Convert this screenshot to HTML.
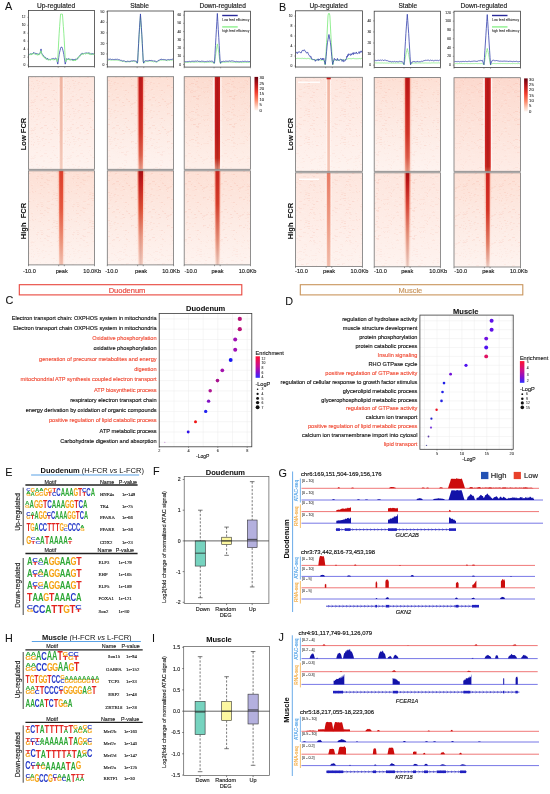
<!DOCTYPE html>
<html><head><meta charset="utf-8"><title>Figure</title>
<style>html,body{margin:0;padding:0;background:#fff;width:550px;height:794px;overflow:hidden;}svg{display:block;font-family:"Liberation Sans", sans-serif;filter:blur(0.35px);}</style>
</head><body>
<svg width="550" height="794" viewBox="0 0 550 794" font-family='"Liberation Sans", sans-serif'><defs><pattern id="pt0" width="36" height="28" patternUnits="userSpaceOnUse" x="0" y="0"><rect x="15" y="12" width="1" height="1" fill="#ea7a62" opacity="0.25"/><rect x="11" y="16" width="2" height="1" fill="#ea7a62" opacity="0.42"/><rect x="26" y="18" width="2" height="1" fill="#ea7a62" opacity="0.39"/><rect x="2" y="11" width="3" height="1" fill="#ffffff" opacity="0.38"/><rect x="25" y="8" width="2" height="1" fill="#f4a48c" opacity="0.27"/><rect x="12" y="24" width="2" height="1" fill="#ee8a70" opacity="0.52"/><rect x="6" y="19" width="2" height="1" fill="#ffffff" opacity="0.44"/><rect x="32" y="16" width="2" height="1" fill="#ffffff" opacity="0.51"/><rect x="30" y="12" width="1" height="1" fill="#ffffff" opacity="0.48"/><rect x="10" y="0" width="1" height="1" fill="#ffffff" opacity="0.65"/><rect x="6" y="26" width="1" height="1" fill="#ffffff" opacity="0.59"/><rect x="7" y="3" width="1" height="1" fill="#ffffff" opacity="0.31"/><rect x="18" y="17" width="1" height="1" fill="#ffffff" opacity="0.42"/><rect x="9" y="5" width="1" height="1" fill="#ffffff" opacity="0.61"/><rect x="27" y="15" width="1" height="1" fill="#ffffff" opacity="0.42"/><rect x="1" y="8" width="2" height="1" fill="#ee8a70" opacity="0.50"/><rect x="21" y="10" width="2" height="1" fill="#ffffff" opacity="0.31"/><rect x="7" y="9" width="1" height="1" fill="#ee8a70" opacity="0.30"/><rect x="24" y="7" width="1" height="1" fill="#ea7a62" opacity="0.31"/><rect x="5" y="10" width="2" height="1" fill="#ea7a62" opacity="0.59"/><rect x="34" y="6" width="2" height="1" fill="#ffffff" opacity="0.40"/><rect x="32" y="20" width="1" height="1" fill="#f4a48c" opacity="0.67"/><rect x="17" y="26" width="2" height="1" fill="#ee8a70" opacity="0.60"/><rect x="22" y="6" width="1" height="1" fill="#f4a48c" opacity="0.37"/><rect x="13" y="6" width="3" height="1" fill="#ffffff" opacity="0.59"/><rect x="29" y="13" width="1" height="1" fill="#ee8a70" opacity="0.47"/><rect x="25" y="8" width="2" height="1" fill="#ea7a62" opacity="0.61"/><rect x="33" y="6" width="2" height="1" fill="#f4a48c" opacity="0.36"/><rect x="5" y="3" width="2" height="1" fill="#ffffff" opacity="0.56"/><rect x="15" y="8" width="3" height="1" fill="#ee8a70" opacity="0.50"/><rect x="7" y="0" width="1" height="1" fill="#ea7a62" opacity="0.37"/><rect x="10" y="7" width="1" height="1" fill="#ee8a70" opacity="0.26"/><rect x="20" y="19" width="2" height="1" fill="#ee8a70" opacity="0.40"/><rect x="21" y="17" width="1" height="1" fill="#ee8a70" opacity="0.44"/><rect x="28" y="24" width="1" height="1" fill="#ffffff" opacity="0.20"/><rect x="10" y="11" width="2" height="1" fill="#ea7a62" opacity="0.39"/><rect x="33" y="6" width="2" height="1" fill="#ffffff" opacity="0.44"/><rect x="23" y="23" width="1" height="1" fill="#ffffff" opacity="0.36"/><rect x="31" y="17" width="2" height="1" fill="#ee8a70" opacity="0.44"/><rect x="19" y="5" width="1" height="1" fill="#ffffff" opacity="0.26"/><rect x="11" y="5" width="3" height="1" fill="#ea7a62" opacity="0.36"/><rect x="23" y="17" width="1" height="1" fill="#f4a48c" opacity="0.62"/><rect x="0" y="19" width="1" height="1" fill="#ffffff" opacity="0.28"/><rect x="32" y="14" width="1" height="1" fill="#ffffff" opacity="0.44"/><rect x="0" y="14" width="3" height="1" fill="#ffffff" opacity="0.64"/><rect x="35" y="23" width="1" height="1" fill="#ee8a70" opacity="0.65"/><rect x="5" y="21" width="1" height="1" fill="#f4a48c" opacity="0.62"/><rect x="17" y="2" width="3" height="1" fill="#ea7a62" opacity="0.21"/><rect x="13" y="1" width="3" height="1" fill="#ffffff" opacity="0.22"/><rect x="32" y="23" width="1" height="1" fill="#ea7a62" opacity="0.55"/><rect x="19" y="24" width="1" height="1" fill="#ffffff" opacity="0.68"/><rect x="12" y="22" width="2" height="1" fill="#ffffff" opacity="0.68"/><rect x="13" y="24" width="2" height="1" fill="#ffffff" opacity="0.26"/><rect x="22" y="14" width="2" height="1" fill="#ffffff" opacity="0.41"/><rect x="30" y="4" width="2" height="1" fill="#ffffff" opacity="0.66"/><rect x="19" y="27" width="3" height="1" fill="#ea7a62" opacity="0.24"/><rect x="10" y="17" width="1" height="1" fill="#ffffff" opacity="0.60"/><rect x="15" y="16" width="3" height="1" fill="#ffffff" opacity="0.36"/><rect x="21" y="11" width="1" height="1" fill="#ea7a62" opacity="0.39"/><rect x="11" y="12" width="3" height="1" fill="#ea7a62" opacity="0.50"/><rect x="25" y="16" width="2" height="1" fill="#f4a48c" opacity="0.66"/><rect x="22" y="0" width="2" height="1" fill="#ffffff" opacity="0.38"/><rect x="3" y="20" width="3" height="1" fill="#ffffff" opacity="0.46"/><rect x="16" y="19" width="2" height="1" fill="#ffffff" opacity="0.46"/><rect x="31" y="24" width="3" height="1" fill="#f4a48c" opacity="0.62"/><rect x="19" y="2" width="3" height="1" fill="#ee8a70" opacity="0.61"/><rect x="28" y="12" width="3" height="1" fill="#f4a48c" opacity="0.30"/><rect x="16" y="22" width="1" height="1" fill="#ffffff" opacity="0.65"/><rect x="16" y="0" width="1" height="1" fill="#f4a48c" opacity="0.51"/><rect x="15" y="14" width="3" height="1" fill="#ffffff" opacity="0.26"/><rect x="23" y="21" width="1" height="1" fill="#ffffff" opacity="0.54"/><rect x="0" y="10" width="2" height="1" fill="#ea7a62" opacity="0.44"/><rect x="2" y="25" width="3" height="1" fill="#ea7a62" opacity="0.59"/><rect x="11" y="20" width="2" height="1" fill="#ffffff" opacity="0.48"/><rect x="19" y="27" width="2" height="1" fill="#ffffff" opacity="0.37"/><rect x="4" y="6" width="2" height="1" fill="#ee8a70" opacity="0.38"/><rect x="34" y="2" width="1" height="1" fill="#ee8a70" opacity="0.29"/><rect x="30" y="5" width="1" height="1" fill="#ee8a70" opacity="0.29"/><rect x="23" y="18" width="1" height="1" fill="#ffffff" opacity="0.56"/><rect x="34" y="1" width="1" height="1" fill="#ffffff" opacity="0.31"/><rect x="20" y="4" width="2" height="1" fill="#ea7a62" opacity="0.48"/><rect x="22" y="27" width="1" height="1" fill="#ffffff" opacity="0.39"/><rect x="29" y="13" width="3" height="1" fill="#ffffff" opacity="0.40"/><rect x="29" y="12" width="1" height="1" fill="#ffffff" opacity="0.55"/><rect x="5" y="8" width="2" height="1" fill="#ea7a62" opacity="0.38"/><rect x="0" y="5" width="1" height="1" fill="#ffffff" opacity="0.57"/><rect x="25" y="22" width="2" height="1" fill="#f4a48c" opacity="0.54"/><rect x="27" y="1" width="1" height="1" fill="#ea7a62" opacity="0.29"/><rect x="22" y="13" width="3" height="1" fill="#ee8a70" opacity="0.66"/><rect x="22" y="16" width="1" height="1" fill="#ffffff" opacity="0.68"/><rect x="24" y="11" width="3" height="1" fill="#ea7a62" opacity="0.34"/><rect x="10" y="7" width="1" height="1" fill="#ffffff" opacity="0.20"/><rect x="10" y="15" width="1" height="1" fill="#f4a48c" opacity="0.27"/><rect x="30" y="24" width="2" height="1" fill="#ffffff" opacity="0.61"/><rect x="28" y="5" width="2" height="1" fill="#ea7a62" opacity="0.70"/><rect x="25" y="2" width="1" height="1" fill="#ffffff" opacity="0.53"/><rect x="13" y="27" width="3" height="1" fill="#ffffff" opacity="0.38"/><rect x="22" y="8" width="1" height="1" fill="#ffffff" opacity="0.53"/><rect x="24" y="20" width="2" height="1" fill="#ffffff" opacity="0.28"/><rect x="22" y="16" width="1" height="1" fill="#ea7a62" opacity="0.69"/><rect x="20" y="19" width="1" height="1" fill="#ffffff" opacity="0.30"/><rect x="25" y="20" width="1" height="1" fill="#ffffff" opacity="0.56"/><rect x="33" y="7" width="1" height="1" fill="#ffffff" opacity="0.33"/><rect x="15" y="20" width="1" height="1" fill="#ffffff" opacity="0.26"/><rect x="1" y="21" width="2" height="1" fill="#ffffff" opacity="0.63"/><rect x="2" y="25" width="2" height="1" fill="#ffffff" opacity="0.49"/><rect x="19" y="9" width="2" height="1" fill="#ea7a62" opacity="0.26"/><rect x="33" y="4" width="1" height="1" fill="#f4a48c" opacity="0.60"/><rect x="30" y="24" width="3" height="1" fill="#ffffff" opacity="0.33"/><rect x="15" y="5" width="3" height="1" fill="#ffffff" opacity="0.58"/><rect x="30" y="2" width="1" height="1" fill="#ea7a62" opacity="0.21"/><rect x="31" y="27" width="1" height="1" fill="#ffffff" opacity="0.41"/><rect x="7" y="19" width="2" height="1" fill="#ea7a62" opacity="0.41"/><rect x="19" y="11" width="3" height="1" fill="#ffffff" opacity="0.40"/><rect x="4" y="14" width="1" height="1" fill="#ee8a70" opacity="0.54"/><rect x="28" y="24" width="3" height="1" fill="#ee8a70" opacity="0.33"/><rect x="4" y="27" width="1" height="1" fill="#ffffff" opacity="0.47"/><rect x="17" y="24" width="3" height="1" fill="#f4a48c" opacity="0.49"/><rect x="20" y="27" width="2" height="1" fill="#ee8a70" opacity="0.70"/><rect x="0" y="4" width="1" height="1" fill="#ffffff" opacity="0.31"/><rect x="6" y="6" width="1" height="1" fill="#f4a48c" opacity="0.47"/><rect x="5" y="5" width="2" height="1" fill="#ffffff" opacity="0.43"/><rect x="6" y="26" width="1" height="1" fill="#f4a48c" opacity="0.39"/><rect x="26" y="24" width="1" height="1" fill="#ee8a70" opacity="0.22"/><rect x="4" y="17" width="3" height="1" fill="#ea7a62" opacity="0.54"/><rect x="12" y="5" width="2" height="1" fill="#f4a48c" opacity="0.24"/><rect x="22" y="2" width="2" height="1" fill="#ffffff" opacity="0.53"/><rect x="9" y="7" width="1" height="1" fill="#ffffff" opacity="0.44"/><rect x="25" y="21" width="1" height="1" fill="#f4a48c" opacity="0.51"/><rect x="22" y="2" width="3" height="1" fill="#f4a48c" opacity="0.28"/><rect x="1" y="14" width="1" height="1" fill="#f4a48c" opacity="0.64"/><rect x="11" y="26" width="1" height="1" fill="#ffffff" opacity="0.68"/><rect x="20" y="22" width="1" height="1" fill="#ffffff" opacity="0.59"/><rect x="1" y="9" width="1" height="1" fill="#ffffff" opacity="0.32"/><rect x="29" y="7" width="1" height="1" fill="#ffffff" opacity="0.69"/><rect x="10" y="7" width="3" height="1" fill="#ffffff" opacity="0.33"/><rect x="8" y="14" width="2" height="1" fill="#ee8a70" opacity="0.50"/><rect x="7" y="26" width="1" height="1" fill="#ffffff" opacity="0.41"/><rect x="10" y="2" width="1" height="1" fill="#ffffff" opacity="0.21"/><rect x="11" y="7" width="1" height="1" fill="#ffffff" opacity="0.61"/><rect x="21" y="15" width="3" height="1" fill="#ffffff" opacity="0.35"/><rect x="6" y="25" width="1" height="1" fill="#ffffff" opacity="0.49"/><rect x="1" y="11" width="1" height="1" fill="#ee8a70" opacity="0.23"/><rect x="16" y="3" width="1" height="1" fill="#ea7a62" opacity="0.54"/><rect x="30" y="20" width="1" height="1" fill="#ffffff" opacity="0.56"/><rect x="24" y="1" width="1" height="1" fill="#ea7a62" opacity="0.28"/><rect x="35" y="11" width="1" height="1" fill="#ffffff" opacity="0.57"/><rect x="20" y="25" width="2" height="1" fill="#ea7a62" opacity="0.47"/><rect x="24" y="4" width="2" height="1" fill="#ea7a62" opacity="0.24"/><rect x="13" y="15" width="3" height="1" fill="#ffffff" opacity="0.68"/><rect x="24" y="9" width="1" height="1" fill="#ffffff" opacity="0.64"/><rect x="33" y="17" width="1" height="1" fill="#ffffff" opacity="0.32"/><rect x="14" y="16" width="3" height="1" fill="#ffffff" opacity="0.40"/><rect x="18" y="25" width="3" height="1" fill="#f4a48c" opacity="0.28"/><rect x="0" y="7" width="1" height="1" fill="#ffffff" opacity="0.69"/><rect x="23" y="23" width="3" height="1" fill="#ffffff" opacity="0.50"/><rect x="25" y="23" width="2" height="1" fill="#ffffff" opacity="0.48"/><rect x="25" y="17" width="2" height="1" fill="#ea7a62" opacity="0.24"/><rect x="20" y="3" width="1" height="1" fill="#ffffff" opacity="0.51"/><rect x="16" y="22" width="2" height="1" fill="#ea7a62" opacity="0.25"/></pattern><pattern id="pt1" width="36" height="28" patternUnits="userSpaceOnUse" x="11" y="7"><rect x="14" y="14" width="2" height="1" fill="#ffffff" opacity="0.51"/><rect x="30" y="5" width="1" height="1" fill="#ffffff" opacity="0.39"/><rect x="31" y="6" width="3" height="1" fill="#ffffff" opacity="0.35"/><rect x="18" y="21" width="1" height="1" fill="#ee8a70" opacity="0.27"/><rect x="12" y="23" width="1" height="1" fill="#ee8a70" opacity="0.44"/><rect x="33" y="12" width="2" height="1" fill="#ffffff" opacity="0.63"/><rect x="27" y="25" width="1" height="1" fill="#f4a48c" opacity="0.58"/><rect x="24" y="27" width="2" height="1" fill="#ffffff" opacity="0.25"/><rect x="11" y="26" width="3" height="1" fill="#ffffff" opacity="0.29"/><rect x="23" y="3" width="3" height="1" fill="#ffffff" opacity="0.38"/><rect x="22" y="20" width="1" height="1" fill="#ea7a62" opacity="0.38"/><rect x="3" y="20" width="2" height="1" fill="#ea7a62" opacity="0.45"/><rect x="0" y="6" width="2" height="1" fill="#ffffff" opacity="0.56"/><rect x="2" y="8" width="1" height="1" fill="#ee8a70" opacity="0.32"/><rect x="20" y="18" width="2" height="1" fill="#ee8a70" opacity="0.44"/><rect x="25" y="0" width="2" height="1" fill="#ee8a70" opacity="0.35"/><rect x="35" y="4" width="3" height="1" fill="#ffffff" opacity="0.32"/><rect x="27" y="24" width="2" height="1" fill="#ee8a70" opacity="0.23"/><rect x="7" y="7" width="1" height="1" fill="#f4a48c" opacity="0.55"/><rect x="20" y="14" width="2" height="1" fill="#ee8a70" opacity="0.41"/><rect x="4" y="10" width="1" height="1" fill="#ffffff" opacity="0.53"/><rect x="15" y="12" width="1" height="1" fill="#ea7a62" opacity="0.29"/><rect x="22" y="11" width="2" height="1" fill="#ea7a62" opacity="0.65"/><rect x="11" y="14" width="1" height="1" fill="#ea7a62" opacity="0.62"/><rect x="22" y="7" width="1" height="1" fill="#f4a48c" opacity="0.43"/><rect x="19" y="19" width="2" height="1" fill="#ffffff" opacity="0.35"/><rect x="6" y="12" width="1" height="1" fill="#f4a48c" opacity="0.25"/><rect x="4" y="27" width="2" height="1" fill="#f4a48c" opacity="0.33"/><rect x="12" y="5" width="1" height="1" fill="#ffffff" opacity="0.57"/><rect x="33" y="3" width="3" height="1" fill="#f4a48c" opacity="0.30"/><rect x="20" y="25" width="1" height="1" fill="#ee8a70" opacity="0.53"/><rect x="11" y="12" width="3" height="1" fill="#ee8a70" opacity="0.32"/><rect x="17" y="9" width="1" height="1" fill="#ea7a62" opacity="0.43"/><rect x="23" y="10" width="2" height="1" fill="#ea7a62" opacity="0.37"/><rect x="28" y="18" width="1" height="1" fill="#ea7a62" opacity="0.55"/><rect x="12" y="22" width="3" height="1" fill="#ea7a62" opacity="0.49"/><rect x="30" y="7" width="2" height="1" fill="#ffffff" opacity="0.35"/><rect x="12" y="22" width="1" height="1" fill="#ee8a70" opacity="0.44"/><rect x="7" y="16" width="2" height="1" fill="#ffffff" opacity="0.29"/><rect x="9" y="1" width="1" height="1" fill="#ee8a70" opacity="0.62"/><rect x="17" y="0" width="1" height="1" fill="#ea7a62" opacity="0.38"/><rect x="16" y="5" width="2" height="1" fill="#ffffff" opacity="0.54"/><rect x="9" y="10" width="2" height="1" fill="#ea7a62" opacity="0.50"/><rect x="33" y="6" width="3" height="1" fill="#ea7a62" opacity="0.64"/><rect x="27" y="22" width="1" height="1" fill="#ffffff" opacity="0.32"/><rect x="7" y="8" width="2" height="1" fill="#ee8a70" opacity="0.62"/><rect x="32" y="0" width="2" height="1" fill="#ffffff" opacity="0.33"/><rect x="20" y="9" width="1" height="1" fill="#ea7a62" opacity="0.40"/><rect x="4" y="0" width="1" height="1" fill="#ffffff" opacity="0.41"/><rect x="33" y="4" width="3" height="1" fill="#ffffff" opacity="0.28"/><rect x="32" y="14" width="1" height="1" fill="#ea7a62" opacity="0.36"/><rect x="27" y="22" width="1" height="1" fill="#ffffff" opacity="0.32"/><rect x="24" y="26" width="2" height="1" fill="#ffffff" opacity="0.34"/><rect x="16" y="5" width="1" height="1" fill="#ee8a70" opacity="0.31"/><rect x="5" y="5" width="1" height="1" fill="#f4a48c" opacity="0.50"/><rect x="4" y="13" width="1" height="1" fill="#ffffff" opacity="0.40"/><rect x="33" y="24" width="2" height="1" fill="#f4a48c" opacity="0.25"/><rect x="32" y="20" width="1" height="1" fill="#ffffff" opacity="0.37"/><rect x="13" y="18" width="1" height="1" fill="#ffffff" opacity="0.57"/><rect x="28" y="19" width="2" height="1" fill="#ffffff" opacity="0.51"/><rect x="1" y="23" width="2" height="1" fill="#ffffff" opacity="0.54"/><rect x="10" y="10" width="1" height="1" fill="#ea7a62" opacity="0.61"/><rect x="16" y="13" width="2" height="1" fill="#ffffff" opacity="0.36"/><rect x="6" y="0" width="2" height="1" fill="#ffffff" opacity="0.33"/><rect x="33" y="3" width="1" height="1" fill="#ffffff" opacity="0.61"/><rect x="28" y="15" width="1" height="1" fill="#ffffff" opacity="0.34"/><rect x="3" y="11" width="2" height="1" fill="#ea7a62" opacity="0.65"/><rect x="21" y="4" width="1" height="1" fill="#ffffff" opacity="0.30"/><rect x="23" y="2" width="3" height="1" fill="#ee8a70" opacity="0.21"/><rect x="31" y="19" width="2" height="1" fill="#ea7a62" opacity="0.53"/><rect x="25" y="22" width="2" height="1" fill="#ffffff" opacity="0.34"/><rect x="29" y="22" width="3" height="1" fill="#ffffff" opacity="0.23"/><rect x="32" y="13" width="2" height="1" fill="#ee8a70" opacity="0.29"/><rect x="15" y="4" width="1" height="1" fill="#ea7a62" opacity="0.23"/><rect x="18" y="16" width="2" height="1" fill="#ffffff" opacity="0.33"/><rect x="20" y="22" width="1" height="1" fill="#ee8a70" opacity="0.45"/><rect x="28" y="2" width="1" height="1" fill="#ffffff" opacity="0.52"/><rect x="27" y="3" width="1" height="1" fill="#ffffff" opacity="0.55"/><rect x="22" y="26" width="1" height="1" fill="#f4a48c" opacity="0.64"/><rect x="12" y="17" width="1" height="1" fill="#ffffff" opacity="0.43"/><rect x="31" y="9" width="1" height="1" fill="#ffffff" opacity="0.47"/><rect x="19" y="11" width="3" height="1" fill="#ea7a62" opacity="0.54"/><rect x="34" y="20" width="3" height="1" fill="#ffffff" opacity="0.30"/><rect x="23" y="4" width="1" height="1" fill="#ffffff" opacity="0.66"/><rect x="12" y="13" width="2" height="1" fill="#ea7a62" opacity="0.43"/><rect x="29" y="3" width="1" height="1" fill="#ee8a70" opacity="0.41"/><rect x="28" y="14" width="3" height="1" fill="#ffffff" opacity="0.46"/><rect x="22" y="9" width="2" height="1" fill="#ea7a62" opacity="0.22"/><rect x="16" y="5" width="1" height="1" fill="#ee8a70" opacity="0.24"/><rect x="18" y="11" width="2" height="1" fill="#ffffff" opacity="0.43"/><rect x="20" y="0" width="1" height="1" fill="#f4a48c" opacity="0.35"/><rect x="29" y="9" width="3" height="1" fill="#ffffff" opacity="0.39"/><rect x="20" y="12" width="1" height="1" fill="#f4a48c" opacity="0.52"/><rect x="31" y="21" width="1" height="1" fill="#f4a48c" opacity="0.45"/><rect x="13" y="4" width="1" height="1" fill="#ffffff" opacity="0.33"/><rect x="29" y="9" width="3" height="1" fill="#f4a48c" opacity="0.45"/><rect x="30" y="3" width="2" height="1" fill="#ffffff" opacity="0.39"/><rect x="29" y="9" width="1" height="1" fill="#ee8a70" opacity="0.44"/><rect x="16" y="2" width="1" height="1" fill="#ffffff" opacity="0.39"/><rect x="1" y="23" width="2" height="1" fill="#f4a48c" opacity="0.61"/><rect x="3" y="26" width="1" height="1" fill="#ffffff" opacity="0.45"/><rect x="30" y="20" width="2" height="1" fill="#ea7a62" opacity="0.22"/><rect x="19" y="3" width="1" height="1" fill="#ffffff" opacity="0.34"/><rect x="22" y="8" width="1" height="1" fill="#ffffff" opacity="0.25"/><rect x="22" y="27" width="2" height="1" fill="#ffffff" opacity="0.50"/><rect x="4" y="15" width="1" height="1" fill="#ffffff" opacity="0.24"/><rect x="34" y="20" width="2" height="1" fill="#ffffff" opacity="0.24"/><rect x="0" y="9" width="1" height="1" fill="#ea7a62" opacity="0.63"/><rect x="20" y="12" width="2" height="1" fill="#ffffff" opacity="0.27"/><rect x="23" y="8" width="2" height="1" fill="#f4a48c" opacity="0.62"/><rect x="33" y="14" width="1" height="1" fill="#f4a48c" opacity="0.46"/><rect x="15" y="11" width="2" height="1" fill="#ee8a70" opacity="0.62"/><rect x="22" y="25" width="1" height="1" fill="#ea7a62" opacity="0.57"/><rect x="12" y="16" width="1" height="1" fill="#ee8a70" opacity="0.67"/><rect x="33" y="27" width="3" height="1" fill="#ffffff" opacity="0.48"/><rect x="25" y="17" width="2" height="1" fill="#ee8a70" opacity="0.68"/><rect x="3" y="22" width="1" height="1" fill="#ffffff" opacity="0.51"/><rect x="26" y="20" width="2" height="1" fill="#ea7a62" opacity="0.38"/><rect x="25" y="2" width="3" height="1" fill="#ffffff" opacity="0.39"/><rect x="13" y="12" width="2" height="1" fill="#f4a48c" opacity="0.58"/><rect x="23" y="23" width="1" height="1" fill="#ee8a70" opacity="0.59"/><rect x="21" y="10" width="1" height="1" fill="#f4a48c" opacity="0.46"/><rect x="29" y="6" width="1" height="1" fill="#ffffff" opacity="0.36"/><rect x="23" y="11" width="2" height="1" fill="#ffffff" opacity="0.53"/><rect x="25" y="5" width="2" height="1" fill="#ea7a62" opacity="0.58"/><rect x="34" y="12" width="2" height="1" fill="#ffffff" opacity="0.51"/><rect x="18" y="0" width="1" height="1" fill="#ffffff" opacity="0.47"/><rect x="6" y="3" width="1" height="1" fill="#ea7a62" opacity="0.45"/><rect x="16" y="24" width="2" height="1" fill="#ea7a62" opacity="0.61"/><rect x="6" y="15" width="2" height="1" fill="#ffffff" opacity="0.47"/><rect x="32" y="26" width="2" height="1" fill="#ea7a62" opacity="0.56"/><rect x="31" y="27" width="2" height="1" fill="#ee8a70" opacity="0.20"/><rect x="12" y="7" width="3" height="1" fill="#ffffff" opacity="0.38"/><rect x="28" y="22" width="2" height="1" fill="#f4a48c" opacity="0.36"/><rect x="18" y="22" width="1" height="1" fill="#f4a48c" opacity="0.65"/><rect x="16" y="0" width="2" height="1" fill="#ffffff" opacity="0.69"/><rect x="5" y="26" width="1" height="1" fill="#ffffff" opacity="0.29"/><rect x="20" y="7" width="3" height="1" fill="#ffffff" opacity="0.60"/><rect x="2" y="8" width="3" height="1" fill="#ffffff" opacity="0.60"/><rect x="2" y="19" width="1" height="1" fill="#ffffff" opacity="0.47"/><rect x="6" y="2" width="1" height="1" fill="#ffffff" opacity="0.67"/><rect x="21" y="6" width="2" height="1" fill="#ffffff" opacity="0.25"/><rect x="30" y="8" width="2" height="1" fill="#ee8a70" opacity="0.62"/><rect x="2" y="5" width="1" height="1" fill="#ffffff" opacity="0.50"/><rect x="25" y="2" width="3" height="1" fill="#ffffff" opacity="0.25"/><rect x="24" y="14" width="1" height="1" fill="#ea7a62" opacity="0.44"/><rect x="9" y="20" width="1" height="1" fill="#ffffff" opacity="0.61"/><rect x="28" y="21" width="1" height="1" fill="#ffffff" opacity="0.62"/><rect x="17" y="25" width="2" height="1" fill="#ffffff" opacity="0.38"/><rect x="26" y="22" width="2" height="1" fill="#ee8a70" opacity="0.40"/><rect x="6" y="27" width="2" height="1" fill="#ea7a62" opacity="0.68"/><rect x="1" y="8" width="1" height="1" fill="#f4a48c" opacity="0.24"/><rect x="16" y="22" width="1" height="1" fill="#ffffff" opacity="0.44"/><rect x="33" y="18" width="3" height="1" fill="#ffffff" opacity="0.33"/><rect x="34" y="20" width="3" height="1" fill="#f4a48c" opacity="0.68"/><rect x="18" y="19" width="1" height="1" fill="#ffffff" opacity="0.21"/><rect x="18" y="15" width="2" height="1" fill="#f4a48c" opacity="0.40"/><rect x="1" y="15" width="3" height="1" fill="#f4a48c" opacity="0.33"/><rect x="4" y="14" width="2" height="1" fill="#ea7a62" opacity="0.59"/><rect x="31" y="16" width="1" height="1" fill="#ffffff" opacity="0.39"/></pattern><pattern id="pt2" width="36" height="28" patternUnits="userSpaceOnUse" x="22" y="14"><rect x="14" y="2" width="3" height="1" fill="#ee8a70" opacity="0.46"/><rect x="13" y="16" width="2" height="1" fill="#ffffff" opacity="0.66"/><rect x="13" y="7" width="2" height="1" fill="#ffffff" opacity="0.29"/><rect x="10" y="9" width="1" height="1" fill="#f4a48c" opacity="0.34"/><rect x="9" y="14" width="1" height="1" fill="#ee8a70" opacity="0.69"/><rect x="12" y="23" width="2" height="1" fill="#ea7a62" opacity="0.48"/><rect x="21" y="17" width="2" height="1" fill="#ea7a62" opacity="0.39"/><rect x="2" y="17" width="3" height="1" fill="#ee8a70" opacity="0.37"/><rect x="0" y="12" width="2" height="1" fill="#ee8a70" opacity="0.29"/><rect x="9" y="4" width="1" height="1" fill="#ea7a62" opacity="0.24"/><rect x="6" y="5" width="2" height="1" fill="#f4a48c" opacity="0.49"/><rect x="24" y="3" width="1" height="1" fill="#ea7a62" opacity="0.30"/><rect x="28" y="19" width="3" height="1" fill="#ffffff" opacity="0.35"/><rect x="2" y="22" width="1" height="1" fill="#ea7a62" opacity="0.53"/><rect x="29" y="14" width="1" height="1" fill="#ea7a62" opacity="0.63"/><rect x="11" y="18" width="1" height="1" fill="#ffffff" opacity="0.40"/><rect x="27" y="21" width="3" height="1" fill="#ee8a70" opacity="0.45"/><rect x="33" y="14" width="1" height="1" fill="#ffffff" opacity="0.28"/><rect x="14" y="7" width="2" height="1" fill="#ffffff" opacity="0.30"/><rect x="11" y="7" width="2" height="1" fill="#ea7a62" opacity="0.36"/><rect x="18" y="7" width="1" height="1" fill="#ea7a62" opacity="0.30"/><rect x="34" y="26" width="1" height="1" fill="#ffffff" opacity="0.58"/><rect x="27" y="12" width="2" height="1" fill="#ffffff" opacity="0.36"/><rect x="14" y="23" width="2" height="1" fill="#ffffff" opacity="0.52"/><rect x="22" y="24" width="3" height="1" fill="#ffffff" opacity="0.28"/><rect x="3" y="21" width="1" height="1" fill="#ee8a70" opacity="0.33"/><rect x="29" y="3" width="1" height="1" fill="#ffffff" opacity="0.69"/><rect x="13" y="4" width="3" height="1" fill="#ffffff" opacity="0.37"/><rect x="13" y="23" width="1" height="1" fill="#ffffff" opacity="0.34"/><rect x="13" y="25" width="1" height="1" fill="#ffffff" opacity="0.28"/><rect x="19" y="10" width="1" height="1" fill="#f4a48c" opacity="0.57"/><rect x="23" y="16" width="1" height="1" fill="#ffffff" opacity="0.54"/><rect x="11" y="8" width="1" height="1" fill="#f4a48c" opacity="0.68"/><rect x="22" y="22" width="2" height="1" fill="#ffffff" opacity="0.53"/><rect x="23" y="21" width="2" height="1" fill="#ffffff" opacity="0.52"/><rect x="24" y="21" width="1" height="1" fill="#ea7a62" opacity="0.65"/><rect x="2" y="12" width="2" height="1" fill="#ffffff" opacity="0.63"/><rect x="19" y="12" width="2" height="1" fill="#ffffff" opacity="0.24"/><rect x="28" y="23" width="3" height="1" fill="#ffffff" opacity="0.23"/><rect x="4" y="5" width="1" height="1" fill="#f4a48c" opacity="0.27"/><rect x="9" y="9" width="1" height="1" fill="#ffffff" opacity="0.68"/><rect x="23" y="25" width="1" height="1" fill="#ee8a70" opacity="0.36"/><rect x="27" y="26" width="3" height="1" fill="#ea7a62" opacity="0.56"/><rect x="17" y="25" width="1" height="1" fill="#ffffff" opacity="0.69"/><rect x="35" y="18" width="2" height="1" fill="#ea7a62" opacity="0.57"/><rect x="6" y="27" width="1" height="1" fill="#ee8a70" opacity="0.57"/><rect x="10" y="19" width="2" height="1" fill="#ffffff" opacity="0.63"/><rect x="25" y="26" width="1" height="1" fill="#ee8a70" opacity="0.31"/><rect x="34" y="22" width="1" height="1" fill="#ffffff" opacity="0.37"/><rect x="25" y="13" width="3" height="1" fill="#ea7a62" opacity="0.64"/><rect x="33" y="6" width="1" height="1" fill="#ffffff" opacity="0.51"/><rect x="31" y="17" width="1" height="1" fill="#ffffff" opacity="0.47"/><rect x="3" y="27" width="2" height="1" fill="#f4a48c" opacity="0.27"/><rect x="27" y="17" width="1" height="1" fill="#ffffff" opacity="0.62"/><rect x="18" y="8" width="3" height="1" fill="#ea7a62" opacity="0.27"/><rect x="20" y="21" width="1" height="1" fill="#f4a48c" opacity="0.27"/><rect x="31" y="16" width="2" height="1" fill="#ee8a70" opacity="0.47"/><rect x="9" y="11" width="2" height="1" fill="#ffffff" opacity="0.50"/><rect x="5" y="23" width="2" height="1" fill="#ffffff" opacity="0.60"/><rect x="29" y="20" width="3" height="1" fill="#f4a48c" opacity="0.32"/><rect x="13" y="17" width="1" height="1" fill="#ee8a70" opacity="0.28"/><rect x="4" y="0" width="1" height="1" fill="#ffffff" opacity="0.25"/><rect x="9" y="7" width="1" height="1" fill="#f4a48c" opacity="0.39"/><rect x="32" y="6" width="1" height="1" fill="#ffffff" opacity="0.48"/><rect x="3" y="26" width="1" height="1" fill="#ffffff" opacity="0.53"/><rect x="15" y="17" width="1" height="1" fill="#ffffff" opacity="0.28"/><rect x="14" y="24" width="2" height="1" fill="#f4a48c" opacity="0.58"/><rect x="34" y="25" width="1" height="1" fill="#ffffff" opacity="0.22"/><rect x="1" y="1" width="3" height="1" fill="#ffffff" opacity="0.32"/><rect x="1" y="21" width="1" height="1" fill="#ee8a70" opacity="0.51"/><rect x="7" y="27" width="2" height="1" fill="#ffffff" opacity="0.65"/><rect x="7" y="27" width="1" height="1" fill="#ffffff" opacity="0.54"/><rect x="3" y="25" width="1" height="1" fill="#ffffff" opacity="0.40"/><rect x="5" y="15" width="2" height="1" fill="#ee8a70" opacity="0.29"/><rect x="16" y="8" width="1" height="1" fill="#ffffff" opacity="0.34"/><rect x="30" y="11" width="2" height="1" fill="#ea7a62" opacity="0.60"/><rect x="28" y="18" width="3" height="1" fill="#ffffff" opacity="0.62"/><rect x="27" y="15" width="2" height="1" fill="#ffffff" opacity="0.43"/><rect x="31" y="9" width="1" height="1" fill="#ffffff" opacity="0.63"/><rect x="8" y="13" width="1" height="1" fill="#f4a48c" opacity="0.67"/><rect x="17" y="18" width="1" height="1" fill="#ffffff" opacity="0.46"/><rect x="31" y="13" width="1" height="1" fill="#ee8a70" opacity="0.23"/><rect x="23" y="17" width="3" height="1" fill="#ffffff" opacity="0.39"/><rect x="1" y="17" width="1" height="1" fill="#f4a48c" opacity="0.30"/><rect x="7" y="7" width="1" height="1" fill="#ffffff" opacity="0.29"/><rect x="1" y="27" width="2" height="1" fill="#ffffff" opacity="0.46"/><rect x="15" y="21" width="1" height="1" fill="#ffffff" opacity="0.65"/><rect x="32" y="7" width="2" height="1" fill="#f4a48c" opacity="0.28"/><rect x="20" y="16" width="1" height="1" fill="#ee8a70" opacity="0.67"/><rect x="5" y="3" width="1" height="1" fill="#f4a48c" opacity="0.41"/><rect x="32" y="22" width="1" height="1" fill="#f4a48c" opacity="0.33"/><rect x="32" y="22" width="2" height="1" fill="#ffffff" opacity="0.66"/><rect x="25" y="20" width="2" height="1" fill="#ee8a70" opacity="0.52"/><rect x="27" y="26" width="1" height="1" fill="#f4a48c" opacity="0.24"/><rect x="30" y="6" width="3" height="1" fill="#ee8a70" opacity="0.45"/><rect x="6" y="17" width="2" height="1" fill="#ffffff" opacity="0.24"/><rect x="31" y="1" width="2" height="1" fill="#ee8a70" opacity="0.56"/><rect x="26" y="1" width="1" height="1" fill="#ffffff" opacity="0.63"/><rect x="11" y="2" width="2" height="1" fill="#ffffff" opacity="0.62"/><rect x="22" y="19" width="2" height="1" fill="#ea7a62" opacity="0.31"/><rect x="21" y="10" width="2" height="1" fill="#ea7a62" opacity="0.41"/><rect x="5" y="22" width="1" height="1" fill="#f4a48c" opacity="0.41"/><rect x="28" y="14" width="1" height="1" fill="#ffffff" opacity="0.40"/><rect x="22" y="17" width="1" height="1" fill="#ffffff" opacity="0.38"/><rect x="28" y="9" width="1" height="1" fill="#ea7a62" opacity="0.59"/><rect x="17" y="24" width="3" height="1" fill="#ffffff" opacity="0.34"/><rect x="27" y="10" width="1" height="1" fill="#ffffff" opacity="0.68"/><rect x="28" y="0" width="1" height="1" fill="#ffffff" opacity="0.37"/><rect x="32" y="8" width="1" height="1" fill="#ea7a62" opacity="0.57"/><rect x="26" y="0" width="1" height="1" fill="#ffffff" opacity="0.33"/><rect x="6" y="20" width="2" height="1" fill="#f4a48c" opacity="0.33"/><rect x="34" y="9" width="1" height="1" fill="#ffffff" opacity="0.26"/><rect x="9" y="11" width="1" height="1" fill="#ea7a62" opacity="0.65"/><rect x="11" y="5" width="3" height="1" fill="#f4a48c" opacity="0.21"/><rect x="24" y="22" width="3" height="1" fill="#ee8a70" opacity="0.47"/><rect x="5" y="10" width="2" height="1" fill="#ffffff" opacity="0.53"/><rect x="2" y="27" width="1" height="1" fill="#ea7a62" opacity="0.33"/><rect x="30" y="14" width="1" height="1" fill="#f4a48c" opacity="0.56"/><rect x="17" y="15" width="2" height="1" fill="#f4a48c" opacity="0.62"/><rect x="30" y="21" width="2" height="1" fill="#ffffff" opacity="0.30"/><rect x="25" y="14" width="3" height="1" fill="#ffffff" opacity="0.24"/><rect x="17" y="26" width="2" height="1" fill="#ffffff" opacity="0.43"/><rect x="8" y="25" width="2" height="1" fill="#ffffff" opacity="0.41"/><rect x="23" y="14" width="2" height="1" fill="#ea7a62" opacity="0.38"/><rect x="14" y="11" width="1" height="1" fill="#f4a48c" opacity="0.30"/><rect x="30" y="0" width="3" height="1" fill="#ea7a62" opacity="0.68"/><rect x="32" y="26" width="1" height="1" fill="#ea7a62" opacity="0.69"/><rect x="15" y="1" width="1" height="1" fill="#ee8a70" opacity="0.41"/><rect x="32" y="25" width="3" height="1" fill="#ea7a62" opacity="0.50"/><rect x="19" y="9" width="2" height="1" fill="#ffffff" opacity="0.57"/><rect x="10" y="16" width="3" height="1" fill="#ffffff" opacity="0.34"/><rect x="0" y="20" width="1" height="1" fill="#ffffff" opacity="0.68"/><rect x="18" y="0" width="3" height="1" fill="#ffffff" opacity="0.67"/><rect x="29" y="9" width="1" height="1" fill="#ffffff" opacity="0.48"/><rect x="35" y="22" width="2" height="1" fill="#f4a48c" opacity="0.23"/><rect x="9" y="15" width="2" height="1" fill="#ffffff" opacity="0.37"/><rect x="3" y="6" width="2" height="1" fill="#ea7a62" opacity="0.26"/><rect x="23" y="25" width="1" height="1" fill="#ffffff" opacity="0.41"/><rect x="15" y="0" width="2" height="1" fill="#ffffff" opacity="0.33"/><rect x="33" y="7" width="1" height="1" fill="#ffffff" opacity="0.38"/><rect x="0" y="7" width="1" height="1" fill="#ffffff" opacity="0.67"/><rect x="15" y="5" width="2" height="1" fill="#ee8a70" opacity="0.46"/><rect x="13" y="19" width="3" height="1" fill="#f4a48c" opacity="0.41"/><rect x="27" y="26" width="2" height="1" fill="#ea7a62" opacity="0.69"/><rect x="0" y="3" width="1" height="1" fill="#ffffff" opacity="0.34"/><rect x="4" y="25" width="2" height="1" fill="#ffffff" opacity="0.26"/><rect x="27" y="16" width="1" height="1" fill="#f4a48c" opacity="0.38"/><rect x="3" y="0" width="1" height="1" fill="#f4a48c" opacity="0.22"/><rect x="31" y="17" width="3" height="1" fill="#f4a48c" opacity="0.60"/><rect x="17" y="3" width="2" height="1" fill="#ffffff" opacity="0.22"/><rect x="5" y="17" width="2" height="1" fill="#ee8a70" opacity="0.50"/><rect x="6" y="10" width="3" height="1" fill="#ee8a70" opacity="0.36"/><rect x="7" y="22" width="1" height="1" fill="#f4a48c" opacity="0.31"/><rect x="18" y="9" width="1" height="1" fill="#ffffff" opacity="0.41"/><rect x="21" y="10" width="2" height="1" fill="#ffffff" opacity="0.60"/><rect x="15" y="3" width="1" height="1" fill="#ffffff" opacity="0.55"/><rect x="5" y="21" width="1" height="1" fill="#ea7a62" opacity="0.53"/><rect x="2" y="22" width="1" height="1" fill="#f4a48c" opacity="0.22"/><rect x="17" y="22" width="3" height="1" fill="#ee8a70" opacity="0.49"/><rect x="11" y="11" width="2" height="1" fill="#ffffff" opacity="0.26"/></pattern><linearGradient id="g1" x1="0" y1="0" x2="0" y2="1"><stop offset="0" stop-color="#fde6de" stop-opacity="1"/><stop offset="0.5" stop-color="#feece6" stop-opacity="1"/><stop offset="1" stop-color="#fef3ef" stop-opacity="1"/></linearGradient><linearGradient id="g2" x1="0" y1="0" x2="0" y2="1"><stop offset="0" stop-color="#ffffff" stop-opacity="0.35"/><stop offset="1" stop-color="#ffffff" stop-opacity="0.2"/></linearGradient><linearGradient id="g3" x1="0" y1="0" x2="0" y2="1"><stop offset="0" stop-color="#f6baa6" stop-opacity="1"/><stop offset="0.6" stop-color="#f8c4b2" stop-opacity="1"/><stop offset="1" stop-color="#fad4c6" stop-opacity="1"/></linearGradient><linearGradient id="g4" x1="0" y1="0" x2="1" y2="0"><stop offset="0" stop-color="#000" stop-opacity="0"/><stop offset="0.5" stop-color="#400000" stop-opacity="0.05"/><stop offset="1" stop-color="#000" stop-opacity="0"/></linearGradient><linearGradient id="g5" x1="0" y1="0" x2="0" y2="1"><stop offset="0" stop-color="#fde0d5" stop-opacity="1"/><stop offset="0.5" stop-color="#fdeae3" stop-opacity="1"/><stop offset="1" stop-color="#fef3ef" stop-opacity="1"/></linearGradient><linearGradient id="g6" x1="0" y1="0" x2="0" y2="1"><stop offset="0" stop-color="#f07860" stop-opacity="0.45"/><stop offset="0.7" stop-color="#f49880" stop-opacity="0.3"/><stop offset="1" stop-color="#f8c0b0" stop-opacity="0.2"/></linearGradient><linearGradient id="g7" x1="0" y1="0" x2="0" y2="1"><stop offset="0" stop-color="#c81c1c" stop-opacity="1"/><stop offset="0.3" stop-color="#d42420" stop-opacity="1"/><stop offset="0.6" stop-color="#de3a2c" stop-opacity="1"/><stop offset="0.85" stop-color="#ea6a54" stop-opacity="1"/><stop offset="1" stop-color="#f6a894" stop-opacity="1"/></linearGradient><linearGradient id="g8" x1="0" y1="0" x2="1" y2="0"><stop offset="0" stop-color="#000" stop-opacity="0"/><stop offset="0.5" stop-color="#400000" stop-opacity="0.12"/><stop offset="1" stop-color="#000" stop-opacity="0"/></linearGradient><linearGradient id="g9" x1="0" y1="0" x2="0" y2="1"><stop offset="0" stop-color="#fcdcd0" stop-opacity="1"/><stop offset="0.5" stop-color="#fde6dd" stop-opacity="1"/><stop offset="1" stop-color="#fef0ea" stop-opacity="1"/></linearGradient><linearGradient id="g10" x1="0" y1="0" x2="0" y2="1"><stop offset="0" stop-color="#ffffff" stop-opacity="0.75"/><stop offset="1" stop-color="#ffffff" stop-opacity="0.4"/></linearGradient><linearGradient id="g11" x1="0" y1="0" x2="0" y2="1"><stop offset="0" stop-color="#d01c1c" stop-opacity="1"/><stop offset="0.6" stop-color="#d42020" stop-opacity="1"/><stop offset="0.88" stop-color="#dc3424" stop-opacity="1"/><stop offset="1" stop-color="#f4a08a" stop-opacity="1"/></linearGradient><linearGradient id="g12" x1="0" y1="0" x2="1" y2="0"><stop offset="0" stop-color="#000" stop-opacity="0"/><stop offset="0.5" stop-color="#400000" stop-opacity="0.25"/><stop offset="1" stop-color="#000" stop-opacity="0"/></linearGradient><linearGradient id="g13" x1="0" y1="0" x2="0" y2="1"><stop offset="0" stop-color="#fde0d5" stop-opacity="1"/><stop offset="0.5" stop-color="#fdeae3" stop-opacity="1"/><stop offset="1" stop-color="#fef3ef" stop-opacity="1"/></linearGradient><linearGradient id="g14" x1="0" y1="0" x2="0" y2="1"><stop offset="0" stop-color="#f6a088" stop-opacity="0.5"/><stop offset="1" stop-color="#fbd6ca" stop-opacity="0.2"/></linearGradient><linearGradient id="g15" x1="0" y1="0" x2="0" y2="1"><stop offset="0" stop-color="#e4402c" stop-opacity="1"/><stop offset="0.4" stop-color="#ec5c42" stop-opacity="1"/><stop offset="0.75" stop-color="#f49a80" stop-opacity="1"/><stop offset="1" stop-color="#f9c8b8" stop-opacity="1"/></linearGradient><linearGradient id="g16" x1="0" y1="0" x2="1" y2="0"><stop offset="0" stop-color="#000" stop-opacity="0"/><stop offset="0.5" stop-color="#400000" stop-opacity="0.06"/><stop offset="1" stop-color="#000" stop-opacity="0"/></linearGradient><linearGradient id="g17" x1="0" y1="0" x2="0" y2="1"><stop offset="0" stop-color="#fde0d5" stop-opacity="1"/><stop offset="0.5" stop-color="#fdeae3" stop-opacity="1"/><stop offset="1" stop-color="#fef3ef" stop-opacity="1"/></linearGradient><linearGradient id="g18" x1="0" y1="0" x2="0" y2="1"><stop offset="0" stop-color="#f07050" stop-opacity="0.5"/><stop offset="0.5" stop-color="#f8b8a4" stop-opacity="0.3"/><stop offset="1" stop-color="#fde4da" stop-opacity="0.1"/></linearGradient><linearGradient id="g19" x1="0" y1="0" x2="0" y2="1"><stop offset="0" stop-color="#b01014" stop-opacity="1"/><stop offset="0.12" stop-color="#cc1e1e" stop-opacity="1"/><stop offset="0.4" stop-color="#e85438" stop-opacity="1"/><stop offset="0.7" stop-color="#f6a690" stop-opacity="1"/><stop offset="1" stop-color="#fcd8cc" stop-opacity="1"/></linearGradient><linearGradient id="g20" x1="0" y1="0" x2="1" y2="0"><stop offset="0" stop-color="#000" stop-opacity="0"/><stop offset="0.5" stop-color="#400000" stop-opacity="0.12"/><stop offset="1" stop-color="#000" stop-opacity="0"/></linearGradient><linearGradient id="g21" x1="0" y1="0" x2="0" y2="1"><stop offset="0" stop-color="#fde0d5" stop-opacity="1"/><stop offset="0.5" stop-color="#fdeae3" stop-opacity="1"/><stop offset="1" stop-color="#fef3ef" stop-opacity="1"/></linearGradient><linearGradient id="g22" x1="0" y1="0" x2="0" y2="1"><stop offset="0" stop-color="#f48a70" stop-opacity="0.4"/><stop offset="1" stop-color="#fde0d6" stop-opacity="0.1"/></linearGradient><linearGradient id="g23" x1="0" y1="0" x2="0" y2="1"><stop offset="0" stop-color="#d42a22" stop-opacity="1"/><stop offset="0.35" stop-color="#e24430" stop-opacity="1"/><stop offset="0.75" stop-color="#f4a088" stop-opacity="1"/><stop offset="1" stop-color="#fcdcd0" stop-opacity="1"/></linearGradient><linearGradient id="g24" x1="0" y1="0" x2="1" y2="0"><stop offset="0" stop-color="#000" stop-opacity="0"/><stop offset="0.5" stop-color="#400000" stop-opacity="0.12"/><stop offset="1" stop-color="#000" stop-opacity="0"/></linearGradient><linearGradient id="g25" x1="0" y1="0" x2="0" y2="1"><stop offset="0" stop-color="#fde6de" stop-opacity="1"/><stop offset="0.5" stop-color="#feece6" stop-opacity="1"/><stop offset="1" stop-color="#fef3ef" stop-opacity="1"/></linearGradient><linearGradient id="g26" x1="0" y1="0" x2="0" y2="1"><stop offset="0" stop-color="#ffffff" stop-opacity="0.5"/><stop offset="1" stop-color="#ffffff" stop-opacity="0.3"/></linearGradient><linearGradient id="g27" x1="0" y1="0" x2="0" y2="1"><stop offset="0" stop-color="#f7bca8" stop-opacity="1"/><stop offset="1" stop-color="#f9cdbe" stop-opacity="1"/></linearGradient><linearGradient id="g28" x1="0" y1="0" x2="1" y2="0"><stop offset="0" stop-color="#000" stop-opacity="0"/><stop offset="0.5" stop-color="#400000" stop-opacity="0.05"/><stop offset="1" stop-color="#000" stop-opacity="0"/></linearGradient><linearGradient id="g29" x1="0" y1="0" x2="0" y2="1"><stop offset="0" stop-color="#fde0d5" stop-opacity="1"/><stop offset="0.5" stop-color="#fdeae3" stop-opacity="1"/><stop offset="1" stop-color="#fef3ef" stop-opacity="1"/></linearGradient><linearGradient id="g30" x1="0" y1="0" x2="0" y2="1"><stop offset="0" stop-color="#f08068" stop-opacity="0.4"/><stop offset="1" stop-color="#f4a088" stop-opacity="0.25"/></linearGradient><linearGradient id="g31" x1="0" y1="0" x2="0" y2="1"><stop offset="0" stop-color="#c41818" stop-opacity="1"/><stop offset="0.3" stop-color="#d42620" stop-opacity="1"/><stop offset="0.6" stop-color="#de3a2c" stop-opacity="1"/><stop offset="0.85" stop-color="#ea6450" stop-opacity="1"/><stop offset="1" stop-color="#f4a088" stop-opacity="1"/></linearGradient><linearGradient id="g32" x1="0" y1="0" x2="1" y2="0"><stop offset="0" stop-color="#000" stop-opacity="0"/><stop offset="0.5" stop-color="#400000" stop-opacity="0.12"/><stop offset="1" stop-color="#000" stop-opacity="0"/></linearGradient><linearGradient id="g33" x1="0" y1="0" x2="0" y2="1"><stop offset="0" stop-color="#fcd9ce" stop-opacity="1"/><stop offset="0.5" stop-color="#fde3da" stop-opacity="1"/><stop offset="1" stop-color="#feece6" stop-opacity="1"/></linearGradient><linearGradient id="g34" x1="0" y1="0" x2="0" y2="1"><stop offset="0" stop-color="#ffffff" stop-opacity="0.8"/><stop offset="1" stop-color="#ffffff" stop-opacity="0.5"/></linearGradient><linearGradient id="g35" x1="0" y1="0" x2="0" y2="1"><stop offset="0" stop-color="#d41e1e" stop-opacity="1"/><stop offset="0.7" stop-color="#d82222" stop-opacity="1"/><stop offset="0.95" stop-color="#dc2c24" stop-opacity="1"/><stop offset="1" stop-color="#e86048" stop-opacity="1"/></linearGradient><linearGradient id="g36" x1="0" y1="0" x2="1" y2="0"><stop offset="0" stop-color="#000" stop-opacity="0"/><stop offset="0.5" stop-color="#400000" stop-opacity="0.25"/><stop offset="1" stop-color="#000" stop-opacity="0"/></linearGradient><linearGradient id="g37" x1="0" y1="0" x2="0" y2="1"><stop offset="0" stop-color="#fde6de" stop-opacity="1"/><stop offset="0.5" stop-color="#feece6" stop-opacity="1"/><stop offset="1" stop-color="#fef3ef" stop-opacity="1"/></linearGradient><linearGradient id="g38" x1="0" y1="0" x2="0" y2="1"><stop offset="0" stop-color="#ffffff" stop-opacity="0.5"/><stop offset="1" stop-color="#ffffff" stop-opacity="0.3"/></linearGradient><linearGradient id="g39" x1="0" y1="0" x2="0" y2="1"><stop offset="0" stop-color="#ee8068" stop-opacity="1"/><stop offset="0.5" stop-color="#f4a088" stop-opacity="1"/><stop offset="1" stop-color="#f8c4b2" stop-opacity="1"/></linearGradient><linearGradient id="g40" x1="0" y1="0" x2="1" y2="0"><stop offset="0" stop-color="#000" stop-opacity="0"/><stop offset="0.5" stop-color="#400000" stop-opacity="0.05"/><stop offset="1" stop-color="#000" stop-opacity="0"/></linearGradient><linearGradient id="g41" x1="0" y1="0" x2="0" y2="1"><stop offset="0" stop-color="#fde6de" stop-opacity="1"/><stop offset="0.5" stop-color="#feece6" stop-opacity="1"/><stop offset="1" stop-color="#fef3ef" stop-opacity="1"/></linearGradient><linearGradient id="g42" x1="0" y1="0" x2="0" y2="1"><stop offset="0" stop-color="#f07050" stop-opacity="0.5"/><stop offset="1" stop-color="#fde2d8" stop-opacity="0.1"/></linearGradient><linearGradient id="g43" x1="0" y1="0" x2="0" y2="1"><stop offset="0" stop-color="#b00c10" stop-opacity="1"/><stop offset="0.1" stop-color="#c81a1a" stop-opacity="1"/><stop offset="0.35" stop-color="#e65040" stop-opacity="1"/><stop offset="0.65" stop-color="#f4a088" stop-opacity="1"/><stop offset="1" stop-color="#fde2d8" stop-opacity="1"/></linearGradient><linearGradient id="g44" x1="0" y1="0" x2="1" y2="0"><stop offset="0" stop-color="#000" stop-opacity="0"/><stop offset="0.5" stop-color="#400000" stop-opacity="0.12"/><stop offset="1" stop-color="#000" stop-opacity="0"/></linearGradient><linearGradient id="g45" x1="0" y1="0" x2="0" y2="1"><stop offset="0" stop-color="#fde0d5" stop-opacity="1"/><stop offset="0.5" stop-color="#fdeae3" stop-opacity="1"/><stop offset="1" stop-color="#fef3ef" stop-opacity="1"/></linearGradient><linearGradient id="g46" x1="0" y1="0" x2="0" y2="1"><stop offset="0" stop-color="#f48a70" stop-opacity="0.4"/><stop offset="1" stop-color="#fde2d8" stop-opacity="0.1"/></linearGradient><linearGradient id="g47" x1="0" y1="0" x2="0" y2="1"><stop offset="0" stop-color="#d82420" stop-opacity="1"/><stop offset="0.4" stop-color="#e23a2a" stop-opacity="1"/><stop offset="0.75" stop-color="#f08a70" stop-opacity="1"/><stop offset="0.92" stop-color="#f8c0b0" stop-opacity="1"/><stop offset="1" stop-color="#fde2d8" stop-opacity="1"/></linearGradient><linearGradient id="g48" x1="0" y1="0" x2="1" y2="0"><stop offset="0" stop-color="#000" stop-opacity="0"/><stop offset="0.5" stop-color="#400000" stop-opacity="0.12"/><stop offset="1" stop-color="#000" stop-opacity="0"/></linearGradient><linearGradient id="g49" x1="0" y1="0" x2="0" y2="1"><stop offset="0" stop-color="#67000d" stop-opacity="1"/><stop offset="0.2" stop-color="#b11218" stop-opacity="1"/><stop offset="0.45" stop-color="#ef3b2c" stop-opacity="1"/><stop offset="0.7" stop-color="#fc8a6a" stop-opacity="1"/><stop offset="0.9" stop-color="#fdd5c4" stop-opacity="1"/><stop offset="1" stop-color="#fff5f0" stop-opacity="1"/></linearGradient><linearGradient id="g50" x1="0" y1="0" x2="0" y2="1"><stop offset="0" stop-color="#67000d" stop-opacity="1"/><stop offset="0.2" stop-color="#b11218" stop-opacity="1"/><stop offset="0.45" stop-color="#ef3b2c" stop-opacity="1"/><stop offset="0.7" stop-color="#fc8a6a" stop-opacity="1"/><stop offset="0.9" stop-color="#fdd5c4" stop-opacity="1"/><stop offset="1" stop-color="#fff5f0" stop-opacity="1"/></linearGradient><linearGradient id="g51" x1="0" y1="0" x2="0" y2="1"><stop offset="0" stop-color="#ff1030" stop-opacity="1"/><stop offset="0.45" stop-color="#c81090" stop-opacity="1"/><stop offset="0.75" stop-color="#8010d0" stop-opacity="1"/><stop offset="1" stop-color="#3030ff" stop-opacity="1"/></linearGradient><linearGradient id="g52" x1="0" y1="0" x2="0" y2="1"><stop offset="0" stop-color="#ff1030" stop-opacity="1"/><stop offset="0.45" stop-color="#c81090" stop-opacity="1"/><stop offset="0.75" stop-color="#8010d0" stop-opacity="1"/><stop offset="1" stop-color="#3030ff" stop-opacity="1"/></linearGradient></defs><text x="56" y="8.3" font-size="6.6" text-anchor="middle" fill="#222" font-weight="normal" font-style="normal" stroke="#222" stroke-width="0.16">Up-regulated</text>
<rect x="28.5" y="10.4" width="66" height="56.3" fill="#fff" stroke="#404040" stroke-width="0.8"/>
<line x1="27.3" y1="65.1" x2="28.5" y2="65.1" stroke="#555" stroke-width="0.5"/>
<text x="25.5" y="66.2" font-size="3.4" text-anchor="end" fill="#333" font-weight="normal" font-style="normal" stroke="#333" stroke-width="0.09">0</text>
<line x1="27.3" y1="57.13" x2="28.5" y2="57.13" stroke="#555" stroke-width="0.5"/>
<text x="25.5" y="58.23" font-size="3.4" text-anchor="end" fill="#333" font-weight="normal" font-style="normal" stroke="#333" stroke-width="0.09">2</text>
<line x1="27.3" y1="49.17" x2="28.5" y2="49.17" stroke="#555" stroke-width="0.5"/>
<text x="25.5" y="50.27" font-size="3.4" text-anchor="end" fill="#333" font-weight="normal" font-style="normal" stroke="#333" stroke-width="0.09">4</text>
<line x1="27.3" y1="41.2" x2="28.5" y2="41.2" stroke="#555" stroke-width="0.5"/>
<text x="25.5" y="42.3" font-size="3.4" text-anchor="end" fill="#333" font-weight="normal" font-style="normal" stroke="#333" stroke-width="0.09">6</text>
<line x1="27.3" y1="33.23" x2="28.5" y2="33.23" stroke="#555" stroke-width="0.5"/>
<text x="25.5" y="34.33" font-size="3.4" text-anchor="end" fill="#333" font-weight="normal" font-style="normal" stroke="#333" stroke-width="0.09">8</text>
<line x1="27.3" y1="25.27" x2="28.5" y2="25.27" stroke="#555" stroke-width="0.5"/>
<text x="25.5" y="26.37" font-size="3.4" text-anchor="end" fill="#333" font-weight="normal" font-style="normal" stroke="#333" stroke-width="0.09">10</text>
<line x1="27.3" y1="17.3" x2="28.5" y2="17.3" stroke="#555" stroke-width="0.5"/>
<text x="25.5" y="18.4" font-size="3.4" text-anchor="end" fill="#333" font-weight="normal" font-style="normal" stroke="#333" stroke-width="0.09">12</text>
<line x1="28.5" y1="66.7" x2="28.5" y2="67.9" stroke="#555" stroke-width="0.5"/>
<line x1="58.2" y1="66.7" x2="58.2" y2="67.9" stroke="#555" stroke-width="0.5"/>
<line x1="64.8" y1="66.7" x2="64.8" y2="67.9" stroke="#555" stroke-width="0.5"/>
<line x1="94.5" y1="66.7" x2="94.5" y2="67.9" stroke="#555" stroke-width="0.5"/>
<polyline points="29,54.76 29.46,54.16 29.93,54.32 30.39,53.84 30.86,53.69 31.32,54.47 31.79,54.44 32.25,53.01 32.71,53.82 33.18,53.74 33.64,52.42 34.11,53.26 34.57,52.81 35.04,53.52 35.5,53.39 35.96,54.3 36.43,53.66 36.89,53.42 37.36,54.1 37.82,53.88 38.29,54 38.75,54.77 39.21,53.48 39.68,53.55 40.14,53.23 40.61,50.47 41.07,48.93 41.54,52.97 42,54 42.46,54.31 42.93,55.14 43.39,55.38 43.86,56.79 44.32,56.71 44.79,57.71 45.25,57.17 45.71,57.5 46.18,58.98 46.64,59.15 47.11,59.26 47.57,58.31 48.04,59.39 48.5,59.32 48.96,59.8 49.43,59.44 49.89,59.59 50.36,59.61 50.82,59.2 51.29,59.16 51.75,58.61 52.21,58.93 52.68,58.5 53.14,58.58 53.61,58.31 54.07,58.77 54.54,59.52 55,58.35 55.46,58.13 55.93,58.17 56.39,58.65 56.86,59.52 57.32,62.14 57.79,64.14 58.25,60.85 58.71,57.56 59.18,54.28 59.64,52.21 60.11,50.27 60.57,48.34 61.04,47.17 61.5,47.17 61.96,47.17 62.43,48.34 62.89,50.27 63.36,52.21 63.82,54.28 64.29,57.56 64.75,60.85 65.21,64.14 65.68,62.3 66.14,60.64 66.61,58.62 67.07,59.06 67.54,59.56 68,59.95 68.46,58.73 68.93,58.55 69.39,60.03 69.86,58.93 70.32,59.59 70.79,60.04 71.25,59.85 71.71,59.13 72.18,59.01 72.64,60.36 73.11,59.49 73.57,60.44 74.04,59.4 74.5,60.06 74.96,59.22 75.43,59.1 75.89,59.89 76.36,58.84 76.82,59.37 77.29,59.17 77.75,57.77 78.21,58.11 78.68,57.27 79.14,56.37 79.61,55.56 80.07,55.88 80.54,55.65 81,53.93 81.46,54.41 81.93,53.18 82.39,53.21 82.86,53.98 83.32,53.78 83.79,53.62 84.25,53.36 84.71,53.38 85.18,53.37 85.64,53.21 86.11,52.64 86.57,53.27 87.04,53.32 87.5,52.8 87.96,53.62 88.43,53.58 88.89,52.56 89.36,53.34 89.82,53.36 90.29,54.27 90.75,53.68 91.21,53.48 91.68,54.43 92.14,53.53 92.61,53.57 93.07,54.53 93.54,53.69 94,54" fill="none" stroke="#3440ac" stroke-width="0.8" stroke-linejoin="round"/>
<polyline points="29,54.49 29.46,54.84 29.93,54.22 30.39,54.06 30.86,54.97 31.32,54.8 31.79,53.81 32.25,53.28 32.71,54.19 33.18,53.78 33.64,53.47 34.11,53.87 34.57,53.94 35.04,54.15 35.5,54.2 35.96,54 36.43,54.56 36.89,54.58 37.36,54.14 37.82,55.34 38.29,54.57 38.75,54.14 39.21,54.56 39.68,54.5 40.14,52.96 40.61,51.04 41.07,50.95 41.54,53.55 42,54.46 42.46,55.88 42.93,56.14 43.39,56.69 43.86,56.54 44.32,57.68 44.79,57.52 45.25,58.74 45.71,58.73 46.18,58.52 46.64,58.42 47.11,59.28 47.57,59.84 48.04,60.23 48.5,59.88 48.96,60.33 49.43,59.41 49.89,59.32 50.36,60.22 50.82,60.05 51.29,59.25 51.75,59.45 52.21,59.18 52.68,59.8 53.14,60.07 53.61,59.79 54.07,59.02 54.54,59.71 55,59.54 55.46,59.39 55.93,59.33 56.39,59.28 56.86,59.38 57.32,61.69 57.79,59.07 58.25,49.96 58.71,40.86 59.18,33.26 59.64,26.66 60.11,20.05 60.57,14.11 61.04,14.11 61.5,14.11 61.96,14.11 62.43,14.11 62.89,20.05 63.36,26.66 63.82,33.26 64.29,40.86 64.75,49.96 65.21,59.07 65.68,61.8 66.14,60.78 66.61,60.25 67.07,58.94 67.54,59.07 68,58.96 68.46,59.79 68.93,59.09 69.39,59.16 69.86,60.21 70.32,59.49 70.79,59.4 71.25,59.69 71.71,59.93 72.18,60.3 72.64,60.26 73.11,60.46 73.57,60.73 74.04,60.02 74.5,60.49 74.96,59.78 75.43,60.92 75.89,59.72 76.36,59.76 76.82,58.86 77.29,58.33 77.75,57.76 78.21,57.65 78.68,57.89 79.14,56.27 79.61,56.6 80.07,56.01 80.54,55.09 81,54.88 81.46,54.63 81.93,53.68 82.39,54.08 82.86,54.41 83.32,54.47 83.79,53.54 84.25,54.02 84.71,53.52 85.18,54.08 85.64,54.24 86.11,53.69 86.57,53.22 87.04,54.08 87.5,53.13 87.96,53 88.43,53.22 88.89,53.26 89.36,54.48 89.82,53.65 90.29,53.37 90.75,54.59 91.21,54.33 91.68,54.39 92.14,54.08 92.61,54.28 93.07,54.27 93.54,53.89 94,55.06" fill="none" stroke="#86ec86" stroke-width="0.9" stroke-linejoin="round"/>
<text x="139.5" y="8.3" font-size="6.6" text-anchor="middle" fill="#222" font-weight="normal" font-style="normal" stroke="#222" stroke-width="0.16">Stable</text>
<rect x="107.3" y="11" width="66.3" height="55.9" fill="#fff" stroke="#404040" stroke-width="0.8"/>
<line x1="106.1" y1="64.5" x2="107.3" y2="64.5" stroke="#555" stroke-width="0.5"/>
<text x="104.3" y="65.6" font-size="3.4" text-anchor="end" fill="#333" font-weight="normal" font-style="normal" stroke="#333" stroke-width="0.09">0</text>
<line x1="106.1" y1="53.96" x2="107.3" y2="53.96" stroke="#555" stroke-width="0.5"/>
<text x="104.3" y="55.06" font-size="3.4" text-anchor="end" fill="#333" font-weight="normal" font-style="normal" stroke="#333" stroke-width="0.09">10</text>
<line x1="106.1" y1="43.42" x2="107.3" y2="43.42" stroke="#555" stroke-width="0.5"/>
<text x="104.3" y="44.52" font-size="3.4" text-anchor="end" fill="#333" font-weight="normal" font-style="normal" stroke="#333" stroke-width="0.09">20</text>
<line x1="106.1" y1="32.88" x2="107.3" y2="32.88" stroke="#555" stroke-width="0.5"/>
<text x="104.3" y="33.98" font-size="3.4" text-anchor="end" fill="#333" font-weight="normal" font-style="normal" stroke="#333" stroke-width="0.09">30</text>
<line x1="106.1" y1="22.34" x2="107.3" y2="22.34" stroke="#555" stroke-width="0.5"/>
<text x="104.3" y="23.44" font-size="3.4" text-anchor="end" fill="#333" font-weight="normal" font-style="normal" stroke="#333" stroke-width="0.09">40</text>
<line x1="106.1" y1="11.8" x2="107.3" y2="11.8" stroke="#555" stroke-width="0.5"/>
<text x="104.3" y="12.9" font-size="3.4" text-anchor="end" fill="#333" font-weight="normal" font-style="normal" stroke="#333" stroke-width="0.09">50</text>
<line x1="107.3" y1="66.9" x2="107.3" y2="68.1" stroke="#555" stroke-width="0.5"/>
<line x1="137.15" y1="66.9" x2="137.15" y2="68.1" stroke="#555" stroke-width="0.5"/>
<line x1="143.75" y1="66.9" x2="143.75" y2="68.1" stroke="#555" stroke-width="0.5"/>
<line x1="173.6" y1="66.9" x2="173.6" y2="68.1" stroke="#555" stroke-width="0.5"/>
<polyline points="107.8,60.25 108.27,60.21 108.73,60.23 109.2,60.27 109.67,59.71 110.13,59.79 110.6,60.29 111.06,60.04 111.53,60.16 112,60.18 112.46,60.16 112.93,59.99 113.4,60.03 113.86,60.19 114.33,60.3 114.8,60.23 115.26,60.37 115.73,60.1 116.2,60.01 116.66,60.23 117.13,60.43 117.59,60.38 118.06,60.37 118.53,60.33 118.99,60.33 119.46,60.7 119.93,60.54 120.39,60.76 120.86,60.99 121.33,61.14 121.79,61.17 122.26,61.15 122.73,61.42 123.19,61.31 123.66,61.51 124.12,61.71 124.59,61.59 125.06,61.55 125.52,62 125.99,61.84 126.46,61.9 126.92,61.67 127.39,61.69 127.86,62 128.32,61.63 128.79,61.65 129.26,61.94 129.72,61.77 130.19,61.94 130.66,61.46 131.12,61.51 131.59,61.32 132.05,61.33 132.52,61.37 132.99,61.28 133.45,61.34 133.92,61.59 134.39,61.36 134.85,61.8 135.32,61.79 135.79,61.47 136.25,61.71 136.72,62.24 137.19,63.45 137.65,61.78 138.12,53.41 138.58,45.03 139.05,36.66 139.52,29.57 139.98,22.79 140.45,16.02 140.92,22.79 141.38,29.57 141.85,36.66 142.32,45.03 142.78,53.41 143.25,61.78 143.72,63.38 144.18,62.07 144.65,61.53 145.11,61.78 145.58,61.72 146.05,61.68 146.51,61.15 146.98,61.56 147.45,61.63 147.91,61.08 148.38,61.5 148.85,61.01 149.31,61.08 149.78,60.95 150.25,60.84 150.71,61.14 151.18,61.07 151.64,61.62 152.11,61.23 152.58,61.46 153.04,61.4 153.51,61.85 153.98,61.51 154.44,61.46 154.91,62.08 155.38,61.98 155.84,61.9 156.31,61.8 156.77,62.24 157.24,62.03 157.71,61.73 158.17,61.25 158.64,60.91 159.11,60.89 159.57,60.65 160.04,60.38 160.51,60.16 160.97,60.04 161.44,60.3 161.91,60.08 162.37,59.82 162.84,60.22 163.31,60.05 163.77,60.46 164.24,60.16 164.7,60.17 165.17,60.26 165.64,60.4 166.1,60.46 166.57,60.4 167.04,60.21 167.5,60.64 167.97,60.64 168.44,60.19 168.9,60.04 169.37,60.26 169.83,60.27 170.3,60.06 170.77,60.35 171.23,60.27 171.7,60.27 172.17,59.99 172.63,60.12 173.1,60.14" fill="none" stroke="#86ec86" stroke-width="0.8" stroke-linejoin="round"/>
<polyline points="107.8,59.09 108.27,58.91 108.73,59.4 109.2,59.11 109.67,59.33 110.13,59.02 110.6,59.23 111.06,59.47 111.53,59.52 112,59.67 112.46,59.35 112.93,59.43 113.4,59.59 113.86,59.46 114.33,59.5 114.8,59.18 115.26,59.65 115.73,59.04 116.2,59.43 116.66,59.35 117.13,59.45 117.59,59.19 118.06,59.33 118.53,59.66 118.99,59.85 119.46,59.8 119.93,59.83 120.39,60.3 120.86,60.18 121.33,60.15 121.79,60.64 122.26,60.95 122.73,61.04 123.19,60.76 123.66,60.86 124.12,60.72 124.59,60.87 125.06,61.39 125.52,61.5 125.99,61.52 126.46,61.64 126.92,61.33 127.39,61.28 127.86,61.19 128.32,61.61 128.79,61.1 129.26,61.45 129.72,61.3 130.19,61.02 130.66,61.43 131.12,61.37 131.59,60.76 132.05,61.1 132.52,60.99 132.99,60.77 133.45,60.64 133.92,61.07 134.39,60.9 134.85,60.9 135.32,60.94 135.79,61.22 136.25,61.08 136.72,61.69 137.19,63.09 137.65,61.4 138.12,52.49 138.58,43.58 139.05,34.66 139.52,27.46 139.98,20.68 140.45,13.91 140.92,20.68 141.38,27.46 141.85,34.66 142.32,43.58 142.78,52.49 143.25,61.4 143.72,63.06 144.18,61.6 144.65,61 145.11,60.89 145.58,60.58 146.05,60.95 146.51,60.8 146.98,61.07 147.45,60.91 147.91,60.58 148.38,60.95 148.85,60.33 149.31,60.28 149.78,60.83 150.25,60.17 150.71,60.66 151.18,60.44 151.64,60.53 152.11,60.95 152.58,60.74 153.04,60.83 153.51,60.8 153.98,61.27 154.44,60.98 154.91,60.91 155.38,61.2 155.84,61.37 156.31,61.76 156.77,61.55 157.24,61.38 157.71,60.84 158.17,60.59 158.64,60.4 159.11,60.4 159.57,59.79 160.04,59.52 160.51,59.58 160.97,58.97 161.44,59.2 161.91,59.64 162.37,59.09 162.84,59.73 163.31,59.64 163.77,59.4 164.24,59.54 164.7,59.62 165.17,59.6 165.64,59.79 166.1,59.95 166.57,60.1 167.04,60.14 167.5,59.61 167.97,59.54 168.44,59.65 168.9,59.46 169.37,59.7 169.83,59.72 170.3,59.59 170.77,59.18 171.23,59.75 171.7,59.36 172.17,59.51 172.63,59.08 173.1,59.34" fill="none" stroke="#3440ac" stroke-width="0.8" stroke-linejoin="round"/>
<text x="222.7" y="8.3" font-size="6.6" text-anchor="middle" fill="#222" font-weight="normal" font-style="normal" stroke="#222" stroke-width="0.16">Down-regulated</text>
<rect x="184.2" y="11.2" width="66.3" height="55.9" fill="#fff" stroke="#404040" stroke-width="0.8"/>
<line x1="183" y1="64.5" x2="184.2" y2="64.5" stroke="#555" stroke-width="0.5"/>
<text x="181.2" y="65.6" font-size="3.4" text-anchor="end" fill="#333" font-weight="normal" font-style="normal" stroke="#333" stroke-width="0.09">0</text>
<line x1="183" y1="56.27" x2="184.2" y2="56.27" stroke="#555" stroke-width="0.5"/>
<text x="181.2" y="57.37" font-size="3.4" text-anchor="end" fill="#333" font-weight="normal" font-style="normal" stroke="#333" stroke-width="0.09">10</text>
<line x1="183" y1="48.03" x2="184.2" y2="48.03" stroke="#555" stroke-width="0.5"/>
<text x="181.2" y="49.13" font-size="3.4" text-anchor="end" fill="#333" font-weight="normal" font-style="normal" stroke="#333" stroke-width="0.09">20</text>
<line x1="183" y1="39.8" x2="184.2" y2="39.8" stroke="#555" stroke-width="0.5"/>
<text x="181.2" y="40.9" font-size="3.4" text-anchor="end" fill="#333" font-weight="normal" font-style="normal" stroke="#333" stroke-width="0.09">30</text>
<line x1="183" y1="31.57" x2="184.2" y2="31.57" stroke="#555" stroke-width="0.5"/>
<text x="181.2" y="32.67" font-size="3.4" text-anchor="end" fill="#333" font-weight="normal" font-style="normal" stroke="#333" stroke-width="0.09">40</text>
<line x1="183" y1="23.33" x2="184.2" y2="23.33" stroke="#555" stroke-width="0.5"/>
<text x="181.2" y="24.43" font-size="3.4" text-anchor="end" fill="#333" font-weight="normal" font-style="normal" stroke="#333" stroke-width="0.09">50</text>
<line x1="183" y1="15.1" x2="184.2" y2="15.1" stroke="#555" stroke-width="0.5"/>
<text x="181.2" y="16.2" font-size="3.4" text-anchor="end" fill="#333" font-weight="normal" font-style="normal" stroke="#333" stroke-width="0.09">60</text>
<line x1="184.2" y1="67.1" x2="184.2" y2="68.3" stroke="#555" stroke-width="0.5"/>
<line x1="214.05" y1="67.1" x2="214.05" y2="68.3" stroke="#555" stroke-width="0.5"/>
<line x1="220.65" y1="67.1" x2="220.65" y2="68.3" stroke="#555" stroke-width="0.5"/>
<line x1="250.5" y1="67.1" x2="250.5" y2="68.3" stroke="#555" stroke-width="0.5"/>
<polyline points="184.7,62.51 185.17,62.47 185.63,62.4 186.1,62.29 186.57,62.44 187.03,62.23 187.5,62.51 187.96,62.43 188.43,62.49 188.9,62.47 189.36,62.18 189.83,62.19 190.3,62.39 190.76,62.38 191.23,62.27 191.7,62.12 192.16,62.08 192.63,62.09 193.1,62.14 193.56,62.31 194.03,62.19 194.5,62.26 194.96,62.11 195.43,62.08 195.89,62.21 196.36,62.18 196.83,61.94 197.29,62.24 197.76,61.91 198.23,61.9 198.69,61.9 199.16,62.17 199.63,62.13 200.09,62.14 200.56,62.15 201.02,62.04 201.49,62.19 201.96,62.38 202.42,62.18 202.89,62.36 203.36,62.34 203.82,62.32 204.29,62.65 204.76,62.31 205.22,62.34 205.69,62.39 206.16,62.36 206.62,62.37 207.09,62.46 207.56,62.31 208.02,62.49 208.49,62.28 208.95,62.21 209.42,62.27 209.89,62.2 210.35,62.02 210.82,62.03 211.29,62.4 211.75,62.19 212.22,62.32 212.69,62.61 213.15,62.49 213.62,62.85 214.08,63.68 214.55,63.22 215.02,59.76 215.48,56.3 215.95,52.84 216.42,49.8 216.88,46.86 217.35,43.92 217.82,46.86 218.28,49.8 218.75,52.84 219.22,56.3 219.68,59.76 220.15,63.22 220.62,63.65 221.08,62.79 221.55,62.43 222.01,62.47 222.48,62.5 222.95,62.54 223.41,62.33 223.88,62.15 224.35,62.38 224.81,62.13 225.28,62.18 225.75,62.39 226.21,62.07 226.68,62.16 227.14,62 227.61,62.07 228.08,62.04 228.54,62.18 229.01,61.97 229.48,61.89 229.94,61.9 230.41,62.06 230.88,61.96 231.34,62.11 231.81,62.3 232.28,62.36 232.74,62.38 233.21,62.37 233.68,62.42 234.14,62.31 234.61,62.27 235.07,62.37 235.54,62.45 236.01,62.39 236.47,62.57 236.94,62.54 237.41,62.41 237.87,62.55 238.34,62.63 238.81,62.32 239.27,62.39 239.74,62.53 240.2,62.52 240.67,62.44 241.14,62.4 241.6,62.55 242.07,62.63 242.54,62.54 243,62.29 243.47,62.55 243.94,62.41 244.4,62.51 244.87,62.49 245.34,62.5 245.8,62.4 246.27,62.48 246.74,62.53 247.2,62.49 247.67,62.46 248.13,62.32 248.6,62.48 249.07,62.49 249.53,62.31 250,62.31" fill="none" stroke="#86ec86" stroke-width="0.8" stroke-linejoin="round"/>
<polyline points="184.7,61.52 185.17,61.82 185.63,61.62 186.1,61.61 186.57,61.77 187.03,61.29 187.5,61.63 187.96,61.67 188.43,61.47 188.9,61.6 189.36,61.35 189.83,61.47 190.3,61.56 190.76,61.57 191.23,61.22 191.7,61.42 192.16,61.15 192.63,61.29 193.1,61.03 193.56,61.33 194.03,61.33 194.5,61.3 194.96,61.01 195.43,61.08 195.89,61.2 196.36,61.3 196.83,60.99 197.29,60.83 197.76,61 198.23,61.33 198.69,61.36 199.16,61.37 199.63,61.37 200.09,61.48 200.56,61.51 201.02,61.25 201.49,61.17 201.96,61.56 202.42,61.22 202.89,61.51 203.36,61.39 203.82,61.37 204.29,61.4 204.76,61.82 205.22,61.66 205.69,61.48 206.16,61.28 206.62,61.67 207.09,61.54 207.56,61.24 208.02,61.57 208.49,61.41 208.95,61.41 209.42,61.21 209.89,61.05 210.35,61.4 210.82,61.09 211.29,61.15 211.75,61.16 212.22,61.36 212.69,61.23 213.15,61.5 213.62,62.02 214.08,63.24 214.55,61.65 215.02,53.54 215.48,45.42 215.95,37.31 216.42,29.33 216.88,21.39 217.35,13.45 217.82,21.39 218.28,29.33 218.75,37.31 219.22,45.42 219.68,53.54 220.15,61.65 220.62,63.24 221.08,62.02 221.55,61.52 222.01,61.56 222.48,61.5 222.95,61.56 223.41,61.26 223.88,61.38 224.35,61.46 224.81,61.48 225.28,61.17 225.75,61.2 226.21,61.12 226.68,61.25 227.14,61.17 227.61,61.31 228.08,61 228.54,61.31 229.01,61.06 229.48,60.89 229.94,60.9 230.41,61.16 230.88,61.14 231.34,60.88 231.81,61.03 232.28,60.96 232.74,61.01 233.21,61.27 233.68,61.09 234.14,61.22 234.61,61.47 235.07,61.49 235.54,61.69 236.01,61.57 236.47,61.35 236.94,61.81 237.41,61.58 237.87,61.79 238.34,61.8 238.81,61.51 239.27,61.7 239.74,61.79 240.2,61.73 240.67,61.48 241.14,61.5 241.6,61.77 242.07,61.65 242.54,61.28 243,61.64 243.47,61.46 243.94,61.53 244.4,61.34 244.87,61.42 245.34,61.32 245.8,61.43 246.27,61.6 246.74,61.59 247.2,61.63 247.67,61.25 248.13,61.6 248.6,61.63 249.07,61.16 249.53,61.53 250,61.18" fill="none" stroke="#3440ac" stroke-width="0.8" stroke-linejoin="round"/>
<line x1="222.2" y1="15.5" x2="237.7" y2="15.5" stroke="#2a2a9a" stroke-width="1.4"/>
<text x="222.2" y="20.9" font-size="3.2" text-anchor="start" fill="#333" font-weight="normal" font-style="normal" stroke="#333" stroke-width="0.08">Low feed efficiency</text>
<line x1="222.2" y1="26.9" x2="237.7" y2="26.9" stroke="#8ef08e" stroke-width="1.4"/>
<text x="222.2" y="31.9" font-size="3.2" text-anchor="start" fill="#333" font-weight="normal" font-style="normal" stroke="#333" stroke-width="0.08">high feed efficiency</text>
<text x="328.6" y="8.3" font-size="6.6" text-anchor="middle" fill="#222" font-weight="normal" font-style="normal" stroke="#222" stroke-width="0.16">Up-regulated</text>
<rect x="295.5" y="10.8" width="66.9" height="56.2" fill="#fff" stroke="#404040" stroke-width="0.8"/>
<line x1="294.3" y1="66" x2="295.5" y2="66" stroke="#555" stroke-width="0.5"/>
<text x="292.5" y="67.1" font-size="3.4" text-anchor="end" fill="#333" font-weight="normal" font-style="normal" stroke="#333" stroke-width="0.09">0</text>
<line x1="294.3" y1="56" x2="295.5" y2="56" stroke="#555" stroke-width="0.5"/>
<text x="292.5" y="57.1" font-size="3.4" text-anchor="end" fill="#333" font-weight="normal" font-style="normal" stroke="#333" stroke-width="0.09">2</text>
<line x1="294.3" y1="46" x2="295.5" y2="46" stroke="#555" stroke-width="0.5"/>
<text x="292.5" y="47.1" font-size="3.4" text-anchor="end" fill="#333" font-weight="normal" font-style="normal" stroke="#333" stroke-width="0.09">4</text>
<line x1="294.3" y1="36" x2="295.5" y2="36" stroke="#555" stroke-width="0.5"/>
<text x="292.5" y="37.1" font-size="3.4" text-anchor="end" fill="#333" font-weight="normal" font-style="normal" stroke="#333" stroke-width="0.09">6</text>
<line x1="294.3" y1="26" x2="295.5" y2="26" stroke="#555" stroke-width="0.5"/>
<text x="292.5" y="27.1" font-size="3.4" text-anchor="end" fill="#333" font-weight="normal" font-style="normal" stroke="#333" stroke-width="0.09">8</text>
<line x1="294.3" y1="16" x2="295.5" y2="16" stroke="#555" stroke-width="0.5"/>
<text x="292.5" y="17.1" font-size="3.4" text-anchor="end" fill="#333" font-weight="normal" font-style="normal" stroke="#333" stroke-width="0.09">10</text>
<line x1="295.5" y1="67" x2="295.5" y2="68.2" stroke="#555" stroke-width="0.5"/>
<line x1="325.65" y1="67" x2="325.65" y2="68.2" stroke="#555" stroke-width="0.5"/>
<line x1="332.25" y1="67" x2="332.25" y2="68.2" stroke="#555" stroke-width="0.5"/>
<line x1="362.4" y1="67" x2="362.4" y2="68.2" stroke="#555" stroke-width="0.5"/>
<polyline points="296,58.75 296.47,58.52 296.94,58.67 297.41,58.3 297.88,58.43 298.35,58.41 298.82,58.34 299.3,58.28 299.77,58.59 300.24,58.44 300.71,58.53 301.18,58.73 301.65,58.3 302.12,58.44 302.59,58.31 303.06,58.68 303.53,58.48 304,58.52 304.47,58.36 304.94,58.75 305.41,58.59 305.88,58.51 306.36,58.76 306.83,58.47 307.3,58.36 307.77,58.55 308.24,58.41 308.71,58.44 309.18,58.67 309.65,58.73 310.12,58.49 310.59,59.03 311.06,59.11 311.53,59.46 312,59.53 312.48,59.7 312.95,59.38 313.42,59.65 313.89,59.7 314.36,59.71 314.83,59.93 315.3,59.74 315.77,59.98 316.24,60.05 316.71,59.73 317.18,59.76 317.65,59.73 318.12,60.01 318.59,59.84 319.06,60.06 319.54,59.7 320.01,59.75 320.48,60.12 320.95,59.74 321.42,60.19 321.89,60.24 322.36,59.87 322.83,60.12 323.3,59.99 323.77,59.92 324.24,61.26 324.71,62.95 325.18,64.91 325.65,59.6 326.13,51.17 326.6,42.74 327.07,34.16 327.54,24.98 328.01,15.8 328.48,13.5 328.95,13.5 329.42,13.5 329.89,15.8 330.36,24.98 330.83,34.16 331.3,42.74 331.77,51.17 332.25,59.6 332.72,64.91 333.19,62.95 333.66,60.84 334.13,60.13 334.6,60.04 335.07,60.09 335.54,59.85 336.01,59.85 336.48,60.13 336.95,60.24 337.42,60.12 337.89,60.05 338.36,60.25 338.83,60.21 339.31,59.84 339.78,59.88 340.25,59.71 340.72,59.71 341.19,59.77 341.66,60.08 342.13,60.2 342.6,60.11 343.07,60.02 343.54,59.98 344.01,59.9 344.48,59.87 344.95,59.43 345.42,59.63 345.9,59.38 346.37,58.98 346.84,58.89 347.31,59.05 347.78,58.94 348.25,58.46 348.72,58.79 349.19,58.72 349.66,58.48 350.13,58.48 350.6,58.7 351.07,58.77 351.54,58.68 352.01,58.34 352.49,58.52 352.96,58.21 353.43,58.33 353.9,58.21 354.37,58.78 354.84,58.69 355.31,58.79 355.78,58.54 356.25,58.6 356.72,58.77 357.19,58.47 357.66,58.74 358.13,58.61 358.6,58.65 359.08,58.32 359.55,58.55 360.02,58.64 360.49,58.77 360.96,58.54 361.43,58.42 361.9,58.39" fill="none" stroke="#86ec86" stroke-width="0.9" stroke-linejoin="round"/>
<polyline points="296,52.09 296.47,52.23 296.94,53.37 297.41,53.52 297.88,52.05 298.35,51.89 298.82,52.41 299.3,51.61 299.77,52.12 300.24,52.63 300.71,52.78 301.18,52.96 301.65,51.36 302.12,50.59 302.59,50.36 303.06,51.11 303.53,50.46 304,49.66 304.47,49.99 304.94,50.81 305.41,51.58 305.88,51.71 306.36,52.83 306.83,53.16 307.3,52.42 307.77,52.24 308.24,53.86 308.71,54.81 309.18,55.58 309.65,55.99 310.12,55.87 310.59,57.28 311.06,56.7 311.53,58.9 312,58.98 312.48,58.95 312.95,59.62 313.42,59.08 313.89,59.56 314.36,59.5 314.83,60.11 315.3,61.29 315.77,60 316.24,59.96 316.71,60 317.18,60.37 317.65,59.33 318.12,58.78 318.59,60.47 319.06,59.13 319.54,59.74 320.01,59.37 320.48,58.49 320.95,58.3 321.42,58.95 321.89,59.89 322.36,58.24 322.83,59.82 323.3,59.33 323.77,58.3 324.24,60.48 324.71,62.21 325.18,64.36 325.65,61.42 326.13,56.3 326.6,51.18 327.07,46.06 327.54,42.21 328.01,39.64 328.48,37.07 328.95,34.5 329.42,37.07 329.89,39.64 330.36,42.21 330.83,46.06 331.3,51.18 331.77,56.3 332.25,61.42 332.72,64.41 333.19,62.45 333.66,60.99 334.13,58.51 334.6,58.52 335.07,59.9 335.54,59.74 336.01,59.98 336.48,60.31 336.95,60.05 337.42,58.44 337.89,60.43 338.36,60.09 338.83,60.16 339.31,60.54 339.78,59.68 340.25,59.32 340.72,59.23 341.19,59.81 341.66,59.52 342.13,61.42 342.6,60.93 343.07,59.56 343.54,61.64 344.01,61.32 344.48,60.97 344.95,61.17 345.42,59.7 345.9,59.94 346.37,58.67 346.84,56.22 347.31,57.15 347.78,54.62 348.25,55.66 348.72,53.74 349.19,54.31 349.66,54.25 350.13,55.23 350.6,55.3 351.07,53.62 351.54,54.78 352.01,54.62 352.49,53.11 352.96,52.86 353.43,54.56 353.9,52.44 354.37,53.3 354.84,53.54 355.31,54.06 355.78,53.36 356.25,51.96 356.72,53.43 357.19,53.67 357.66,53.55 358.13,53.51 358.6,52.92 359.08,51.6 359.55,53.36 360.02,53.02 360.49,51.29 360.96,51.08 361.43,51.03 361.9,52.56" fill="none" stroke="#3440ac" stroke-width="0.8" stroke-linejoin="round"/>
<text x="407.8" y="8.3" font-size="6.6" text-anchor="middle" fill="#222" font-weight="normal" font-style="normal" stroke="#222" stroke-width="0.16">Stable</text>
<rect x="374.2" y="11.2" width="66.2" height="56.2" fill="#fff" stroke="#404040" stroke-width="0.8"/>
<line x1="373" y1="65.1" x2="374.2" y2="65.1" stroke="#555" stroke-width="0.5"/>
<text x="371.2" y="66.2" font-size="3.4" text-anchor="end" fill="#333" font-weight="normal" font-style="normal" stroke="#333" stroke-width="0.09">0</text>
<line x1="373" y1="54.05" x2="374.2" y2="54.05" stroke="#555" stroke-width="0.5"/>
<text x="371.2" y="55.15" font-size="3.4" text-anchor="end" fill="#333" font-weight="normal" font-style="normal" stroke="#333" stroke-width="0.09">10</text>
<line x1="373" y1="43" x2="374.2" y2="43" stroke="#555" stroke-width="0.5"/>
<text x="371.2" y="44.1" font-size="3.4" text-anchor="end" fill="#333" font-weight="normal" font-style="normal" stroke="#333" stroke-width="0.09">20</text>
<line x1="373" y1="31.95" x2="374.2" y2="31.95" stroke="#555" stroke-width="0.5"/>
<text x="371.2" y="33.05" font-size="3.4" text-anchor="end" fill="#333" font-weight="normal" font-style="normal" stroke="#333" stroke-width="0.09">30</text>
<line x1="373" y1="20.9" x2="374.2" y2="20.9" stroke="#555" stroke-width="0.5"/>
<text x="371.2" y="22" font-size="3.4" text-anchor="end" fill="#333" font-weight="normal" font-style="normal" stroke="#333" stroke-width="0.09">40</text>
<line x1="374.2" y1="67.4" x2="374.2" y2="68.6" stroke="#555" stroke-width="0.5"/>
<line x1="404" y1="67.4" x2="404" y2="68.6" stroke="#555" stroke-width="0.5"/>
<line x1="410.6" y1="67.4" x2="410.6" y2="68.6" stroke="#555" stroke-width="0.5"/>
<line x1="440.4" y1="67.4" x2="440.4" y2="68.6" stroke="#555" stroke-width="0.5"/>
<polyline points="374.7,62.92 375.17,62.8 375.63,62.91 376.1,62.86 376.56,62.96 377.03,63.03 377.49,62.96 377.96,62.88 378.43,62.88 378.89,62.93 379.36,62.96 379.82,62.95 380.29,62.98 380.75,62.96 381.22,62.9 381.69,63.05 382.15,62.97 382.62,62.9 383.08,62.93 383.55,63.08 384.01,62.91 384.48,62.95 384.95,63.1 385.41,63.09 385.88,63.11 386.34,63.15 386.81,62.95 387.27,63.08 387.74,62.98 388.21,63.16 388.67,63.19 389.14,63 389.6,63.03 390.07,62.99 390.53,63.06 391,63.11 391.47,63.05 391.93,63.2 392.4,63.1 392.86,63.12 393.33,63.19 393.79,63.09 394.26,63.15 394.73,63.11 395.19,63.14 395.66,63.15 396.12,63.14 396.59,63.09 397.05,63 397.52,63.01 397.99,63.03 398.45,63.04 398.92,63.16 399.38,63.01 399.85,63.16 400.31,63.19 400.78,63.11 401.25,63.06 401.71,63.15 402.18,63.08 402.64,63.4 403.11,63.82 403.57,64.29 404.04,64.77 404.51,62.22 404.97,59.66 405.44,57.11 405.9,54.56 406.37,52.47 406.83,50.5 407.3,48.52 407.77,50.5 408.23,52.47 408.7,54.56 409.16,57.11 409.63,59.66 410.09,62.22 410.56,64.77 411.03,64.29 411.49,63.82 411.96,63.24 412.42,63.12 412.89,63.11 413.35,63.09 413.82,63.02 414.29,62.99 414.75,63.08 415.22,63.1 415.68,63.06 416.15,63.17 416.61,63.09 417.08,63 417.55,63.01 418.01,63.16 418.48,62.98 418.94,63.08 419.41,62.95 419.87,63.08 420.34,63.11 420.81,63.03 421.27,62.95 421.74,63.05 422.2,62.95 422.67,62.98 423.13,63.05 423.6,63.06 424.07,63.02 424.53,63.03 425,63.04 425.46,62.97 425.93,62.92 426.39,62.98 426.86,63.07 427.33,63.05 427.79,63.02 428.26,62.96 428.72,63.06 429.19,63.07 429.65,63.01 430.12,63.02 430.59,63.07 431.05,62.95 431.52,62.86 431.98,62.95 432.45,62.9 432.91,62.87 433.38,62.87 433.85,62.85 434.31,62.95 434.78,62.89 435.24,63.01 435.71,62.84 436.17,62.95 436.64,62.92 437.11,62.83 437.57,62.96 438.04,62.97 438.5,62.83 438.97,62.88 439.43,62.99 439.9,62.99" fill="none" stroke="#86ec86" stroke-width="0.8" stroke-linejoin="round"/>
<polyline points="374.7,60.56 375.17,60.77 375.63,60.21 376.1,60.62 376.56,60.55 377.03,60.45 377.49,60.36 377.96,60.39 378.43,60.25 378.89,60.21 379.36,60.34 379.82,60.55 380.29,59.95 380.75,60.13 381.22,60.51 381.69,60.26 382.15,60.04 382.62,59.86 383.08,60.46 383.55,60.48 384.01,60.16 384.48,60.18 384.95,59.97 385.41,60.12 385.88,60.55 386.34,60.59 386.81,60.59 387.27,60.49 387.74,61.04 388.21,61.02 388.67,61.32 389.14,61.06 389.6,61.57 390.07,61.07 390.53,61.45 391,61.52 391.47,61.85 391.93,61.77 392.4,61.63 392.86,61.39 393.33,61.62 393.79,61.8 394.26,61.35 394.73,61.58 395.19,61.69 395.66,61.92 396.12,61.87 396.59,61.49 397.05,62.01 397.52,61.76 397.99,61.66 398.45,61.8 398.92,61.48 399.38,61.34 399.85,61.34 400.31,61.37 400.78,61.69 401.25,61.74 401.71,61.45 402.18,61.49 402.64,62 403.11,62.72 403.57,63.63 404.04,64.55 404.51,56.79 404.97,49.02 405.44,41.26 405.9,33.5 406.37,26.9 406.83,20.58 407.3,14.27 407.77,20.58 408.23,26.9 408.7,33.5 409.16,41.26 409.63,49.02 410.09,56.79 410.56,64.55 411.03,63.76 411.49,62.97 411.96,61.93 412.42,61.97 412.89,61.55 413.35,61.46 413.82,61.99 414.29,61.45 414.75,61.78 415.22,61.89 415.68,61.9 416.15,61.98 416.61,61.67 417.08,61.73 417.55,61.41 418.01,61.41 418.48,61.91 418.94,61.67 419.41,61.66 419.87,61.79 420.34,61.73 420.81,61.62 421.27,61.23 421.74,61.36 422.2,61.41 422.67,61.24 423.13,60.99 423.6,60.8 424.07,60.91 424.53,60.51 425,60.73 425.46,60.32 425.93,60.26 426.39,60.45 426.86,59.96 427.33,60.24 427.79,60.18 428.26,60.18 428.72,60.2 429.19,60.36 429.65,60.66 430.12,60.21 430.59,60.2 431.05,60.49 431.52,60.47 431.98,60.72 432.45,60.34 432.91,60.52 433.38,60.86 433.85,60.45 434.31,60.31 434.78,60.71 435.24,60.26 435.71,60.57 436.17,60.75 436.64,60.37 437.11,60.6 437.57,60.31 438.04,60.39 438.5,60.68 438.97,60.38 439.43,60.14 439.9,60.36" fill="none" stroke="#3440ac" stroke-width="0.8" stroke-linejoin="round"/>
<text x="483.8" y="8.3" font-size="6.6" text-anchor="middle" fill="#222" font-weight="normal" font-style="normal" stroke="#222" stroke-width="0.16">Down-regulated</text>
<rect x="454" y="11.2" width="66.5" height="56.4" fill="#fff" stroke="#404040" stroke-width="0.8"/>
<line x1="452.8" y1="65.1" x2="454" y2="65.1" stroke="#555" stroke-width="0.5"/>
<text x="451" y="66.2" font-size="3.4" text-anchor="end" fill="#333" font-weight="normal" font-style="normal" stroke="#333" stroke-width="0.09">0</text>
<line x1="452.8" y1="56.32" x2="454" y2="56.32" stroke="#555" stroke-width="0.5"/>
<text x="451" y="57.42" font-size="3.4" text-anchor="end" fill="#333" font-weight="normal" font-style="normal" stroke="#333" stroke-width="0.09">20</text>
<line x1="452.8" y1="47.53" x2="454" y2="47.53" stroke="#555" stroke-width="0.5"/>
<text x="451" y="48.63" font-size="3.4" text-anchor="end" fill="#333" font-weight="normal" font-style="normal" stroke="#333" stroke-width="0.09">40</text>
<line x1="452.8" y1="38.75" x2="454" y2="38.75" stroke="#555" stroke-width="0.5"/>
<text x="451" y="39.85" font-size="3.4" text-anchor="end" fill="#333" font-weight="normal" font-style="normal" stroke="#333" stroke-width="0.09">60</text>
<line x1="452.8" y1="29.97" x2="454" y2="29.97" stroke="#555" stroke-width="0.5"/>
<text x="451" y="31.07" font-size="3.4" text-anchor="end" fill="#333" font-weight="normal" font-style="normal" stroke="#333" stroke-width="0.09">80</text>
<line x1="452.8" y1="21.18" x2="454" y2="21.18" stroke="#555" stroke-width="0.5"/>
<text x="451" y="22.28" font-size="3.4" text-anchor="end" fill="#333" font-weight="normal" font-style="normal" stroke="#333" stroke-width="0.09">100</text>
<line x1="452.8" y1="12.4" x2="454" y2="12.4" stroke="#555" stroke-width="0.5"/>
<text x="451" y="13.5" font-size="3.4" text-anchor="end" fill="#333" font-weight="normal" font-style="normal" stroke="#333" stroke-width="0.09">120</text>
<line x1="454" y1="67.6" x2="454" y2="68.8" stroke="#555" stroke-width="0.5"/>
<line x1="483.95" y1="67.6" x2="483.95" y2="68.8" stroke="#555" stroke-width="0.5"/>
<line x1="490.55" y1="67.6" x2="490.55" y2="68.8" stroke="#555" stroke-width="0.5"/>
<line x1="520.5" y1="67.6" x2="520.5" y2="68.8" stroke="#555" stroke-width="0.5"/>
<polyline points="454.5,63.56 454.97,63.5 455.44,63.57 455.9,63.56 456.37,63.55 456.84,63.51 457.31,63.62 457.77,63.63 458.24,63.52 458.71,63.55 459.18,63.6 459.65,63.49 460.11,63.5 460.58,63.56 461.05,63.48 461.52,63.5 461.99,63.52 462.45,63.6 462.92,63.65 463.39,63.53 463.86,63.52 464.32,63.59 464.79,63.57 465.26,63.55 465.73,63.61 466.2,63.53 466.66,63.55 467.13,63.58 467.6,63.63 468.07,63.55 468.54,63.59 469,63.52 469.47,63.62 469.94,63.58 470.41,63.62 470.88,63.58 471.34,63.55 471.81,63.63 472.28,63.64 472.75,63.57 473.21,63.62 473.68,63.56 474.15,63.62 474.62,63.63 475.09,63.56 475.55,63.49 476.02,63.5 476.49,63.56 476.96,63.58 477.43,63.64 477.89,63.6 478.36,63.6 478.83,63.49 479.3,63.63 479.76,63.48 480.23,63.57 480.7,63.57 481.17,63.6 481.64,63.48 482.1,63.62 482.57,63.74 483.04,64.13 483.51,64.5 483.98,64.88 484.44,62.32 484.91,59.76 485.38,57.2 485.85,54.63 486.31,52.49 486.78,50.45 487.25,48.41 487.72,50.45 488.19,52.49 488.65,54.63 489.12,57.2 489.59,59.76 490.06,62.32 490.52,64.88 490.99,64.5 491.46,64.13 491.93,63.75 492.4,63.62 492.86,63.61 493.33,63.48 493.8,63.51 494.27,63.52 494.74,63.49 495.2,63.63 495.67,63.53 496.14,63.52 496.61,63.61 497.07,63.57 497.54,63.48 498.01,63.59 498.48,63.52 498.95,63.62 499.41,63.53 499.88,63.6 500.35,63.56 500.82,63.59 501.29,63.5 501.75,63.52 502.22,63.56 502.69,63.53 503.16,63.58 503.62,63.51 504.09,63.61 504.56,63.56 505.03,63.55 505.5,63.58 505.96,63.64 506.43,63.62 506.9,63.54 507.37,63.61 507.84,63.52 508.3,63.56 508.77,63.48 509.24,63.5 509.71,63.52 510.18,63.59 510.64,63.64 511.11,63.55 511.58,63.52 512.05,63.49 512.51,63.62 512.98,63.62 513.45,63.48 513.92,63.52 514.39,63.57 514.85,63.52 515.32,63.62 515.79,63.56 516.26,63.53 516.73,63.54 517.19,63.62 517.66,63.63 518.13,63.54 518.6,63.5 519.06,63.63 519.53,63.65 520,63.64" fill="none" stroke="#86ec86" stroke-width="0.8" stroke-linejoin="round"/>
<polyline points="454.5,61.44 454.97,61.64 455.44,61.59 455.9,61.3 456.37,61.5 456.84,61.67 457.31,61.43 457.77,61.79 458.24,61.64 458.71,61.41 459.18,61.68 459.65,61.75 460.11,61.48 460.58,61.58 461.05,61.23 461.52,61.68 461.99,61.3 462.45,61.51 462.92,61.28 463.39,61.47 463.86,61.34 464.32,61.51 464.79,61.56 465.26,61.43 465.73,61.24 466.2,61.47 466.66,61.53 467.13,61.42 467.6,61.58 468.07,61.45 468.54,61.31 469,61.31 469.47,61.27 469.94,61.43 470.41,61.55 470.88,61.54 471.34,61.37 471.81,61.43 472.28,61.23 472.75,61.38 473.21,61.1 473.68,61.18 474.15,61.14 474.62,61.09 475.09,61.19 475.55,61.23 476.02,61.28 476.49,61.4 476.96,61 477.43,61.15 477.89,61.27 478.36,60.76 478.83,60.85 479.3,60.75 479.76,60.76 480.23,60.84 480.7,60.3 481.17,60.65 481.64,60.47 482.1,60.05 482.57,61.1 483.04,62.15 483.51,63.41 483.98,64.66 484.44,57.45 484.91,50.23 485.38,43.02 485.85,35.8 486.31,28.71 486.78,21.65 487.25,14.6 487.72,21.65 488.19,28.71 488.65,35.8 489.12,43.02 489.59,50.23 490.06,57.45 490.52,64.66 490.99,63.41 491.46,62.15 491.93,60.9 492.4,60.3 492.86,60.48 493.33,60.17 493.8,60.49 494.27,60.75 494.74,60.56 495.2,60.86 495.67,60.54 496.14,60.5 496.61,60.53 497.07,61.03 497.54,60.75 498.01,61 498.48,60.96 498.95,61.1 499.41,61.15 499.88,61.29 500.35,61.08 500.82,61.37 501.29,60.92 501.75,61.42 502.22,60.94 502.69,61.36 503.16,61.43 503.62,61.09 504.09,61.21 504.56,61.1 505.03,61.25 505.5,61.19 505.96,61.49 506.43,61.19 506.9,61.29 507.37,61.06 507.84,61.58 508.3,61.55 508.77,61.24 509.24,61.12 509.71,61.4 510.18,61.26 510.64,61.35 511.11,61.45 511.58,61.42 512.05,61.36 512.51,61.67 512.98,61.53 513.45,61.31 513.92,61.58 514.39,61.48 514.85,61.6 515.32,61.56 515.79,61.41 516.26,61.37 516.73,61.27 517.19,61.54 517.66,61.69 518.13,61.63 518.6,61.79 519.06,61.7 519.53,61.53 520,61.53" fill="none" stroke="#3440ac" stroke-width="0.8" stroke-linejoin="round"/>
<line x1="492" y1="15.5" x2="507.5" y2="15.5" stroke="#2a2a9a" stroke-width="1.4"/>
<text x="492" y="20.9" font-size="3.2" text-anchor="start" fill="#333" font-weight="normal" font-style="normal" stroke="#333" stroke-width="0.08">Low feed efficiency</text>
<line x1="492" y1="26.9" x2="507.5" y2="26.9" stroke="#8ef08e" stroke-width="1.4"/>
<text x="492" y="31.9" font-size="3.2" text-anchor="start" fill="#333" font-weight="normal" font-style="normal" stroke="#333" stroke-width="0.08">high feed efficiency</text>
<text x="5" y="10.2" font-size="10.8" text-anchor="start" fill="#111" font-weight="normal" font-style="normal" stroke="#111" stroke-width="0.07">A</text>
<text x="279" y="11" font-size="10.8" text-anchor="start" fill="#111" font-weight="normal" font-style="normal" stroke="#111" stroke-width="0.07">B</text>
<rect x="28.5" y="76.7" width="66" height="92.6" fill="url(#g1)" stroke="none" stroke-width="1"/>
<rect x="28.5" y="76.7" width="66" height="69.45" fill="url(#pt1)" opacity="0.2"/>
<rect x="28.5" y="146.15" width="66" height="23.15" fill="url(#pt1)" opacity="0.12"/>
<rect x="58.4" y="76.7" width="1.3" height="92.6" fill="url(#g2)" stroke="none" stroke-width="1"/>
<rect x="62.7" y="76.7" width="1.3" height="92.6" fill="url(#g2)" stroke="none" stroke-width="1"/>
<rect x="59.7" y="76.7" width="3" height="92.6" fill="url(#g3)" stroke="none" stroke-width="1"/>
<rect x="59.7" y="76.7" width="3" height="92.6" fill="url(#g4)" stroke="none" stroke-width="1"/>
<rect x="28.5" y="76.7" width="66" height="92.6" fill="none" stroke="#767676" stroke-width="0.8"/>
<rect x="107.3" y="76.7" width="66.3" height="92.6" fill="url(#g5)" stroke="none" stroke-width="1"/>
<rect x="107.3" y="76.7" width="66.3" height="69.45" fill="url(#pt1)" opacity="0.2"/>
<rect x="107.3" y="146.15" width="66.3" height="23.15" fill="url(#pt2)" opacity="0.12"/>
<rect x="137.1" y="76.7" width="7.2" height="92.6" fill="url(#g6)" stroke="none" stroke-width="1"/>
<rect x="138.5" y="76.7" width="4.4" height="92.6" fill="url(#g7)" stroke="none" stroke-width="1"/>
<rect x="138.5" y="76.7" width="4.4" height="92.6" fill="url(#g8)" stroke="none" stroke-width="1"/>
<rect x="107.3" y="76.7" width="66.3" height="92.6" fill="none" stroke="#767676" stroke-width="0.8"/>
<rect x="184.2" y="76.7" width="66.3" height="92.6" fill="url(#g9)" stroke="none" stroke-width="1"/>
<rect x="184.2" y="76.7" width="66.3" height="69.45" fill="url(#pt2)" opacity="0.2"/>
<rect x="184.2" y="146.15" width="66.3" height="23.15" fill="url(#pt1)" opacity="0.12"/>
<rect x="213.25" y="76.7" width="1.5" height="92.6" fill="url(#g10)" stroke="none" stroke-width="1"/>
<rect x="220.05" y="76.7" width="1.5" height="92.6" fill="url(#g10)" stroke="none" stroke-width="1"/>
<rect x="214.75" y="76.7" width="5.3" height="92.6" fill="url(#g11)" stroke="none" stroke-width="1"/>
<rect x="214.75" y="76.7" width="5.3" height="92.6" fill="url(#g12)" stroke="none" stroke-width="1"/>
<rect x="184.2" y="76.7" width="66.3" height="92.6" fill="none" stroke="#767676" stroke-width="0.8"/>
<rect x="28.5" y="170.8" width="66" height="94.1" fill="url(#g13)" stroke="none" stroke-width="1"/>
<rect x="28.5" y="170.8" width="66" height="70.57" fill="url(#pt0)" opacity="0.2"/>
<rect x="28.5" y="241.38" width="66" height="23.52" fill="url(#pt1)" opacity="0.12"/>
<rect x="57.8" y="170.8" width="6.8" height="94.1" fill="url(#g14)" stroke="none" stroke-width="1"/>
<rect x="59.2" y="170.8" width="4" height="94.1" fill="url(#g15)" stroke="none" stroke-width="1"/>
<rect x="59.2" y="170.8" width="4" height="94.1" fill="url(#g16)" stroke="none" stroke-width="1"/>
<rect x="28.5" y="170.8" width="66" height="94.1" fill="none" stroke="#767676" stroke-width="0.8"/>
<rect x="107.3" y="170.8" width="66.3" height="94.1" fill="url(#g17)" stroke="none" stroke-width="1"/>
<rect x="107.3" y="170.8" width="66.3" height="70.57" fill="url(#pt1)" opacity="0.2"/>
<rect x="107.3" y="241.38" width="66.3" height="23.52" fill="url(#pt2)" opacity="0.12"/>
<rect x="137" y="170.8" width="7.4" height="94.1" fill="url(#g18)" stroke="none" stroke-width="1"/>
<rect x="138.4" y="170.8" width="4.6" height="94.1" fill="url(#g19)" stroke="none" stroke-width="1"/>
<rect x="138.4" y="170.8" width="4.6" height="94.1" fill="url(#g20)" stroke="none" stroke-width="1"/>
<rect x="107.3" y="170.8" width="66.3" height="94.1" fill="none" stroke="#767676" stroke-width="0.8"/>
<rect x="184.2" y="170.8" width="66.3" height="94.1" fill="url(#g21)" stroke="none" stroke-width="1"/>
<rect x="184.2" y="170.8" width="66.3" height="70.57" fill="url(#pt1)" opacity="0.2"/>
<rect x="184.2" y="241.38" width="66.3" height="23.52" fill="url(#pt0)" opacity="0.12"/>
<rect x="214" y="170.8" width="7" height="94.1" fill="url(#g22)" stroke="none" stroke-width="1"/>
<rect x="215.4" y="170.8" width="4.2" height="94.1" fill="url(#g23)" stroke="none" stroke-width="1"/>
<rect x="215.4" y="170.8" width="4.2" height="94.1" fill="url(#g24)" stroke="none" stroke-width="1"/>
<rect x="184.2" y="170.8" width="66.3" height="94.1" fill="none" stroke="#767676" stroke-width="0.8"/>
<rect x="295.5" y="77.3" width="66.9" height="94" fill="url(#g25)" stroke="none" stroke-width="1"/>
<rect x="295.5" y="77.3" width="66.9" height="70.5" fill="url(#pt0)" opacity="0.2"/>
<rect x="295.5" y="147.8" width="66.9" height="23.5" fill="url(#pt1)" opacity="0.12"/>
<rect x="326" y="77.3" width="1.2" height="94" fill="url(#g26)" stroke="none" stroke-width="1"/>
<rect x="330" y="77.3" width="1.2" height="94" fill="url(#g26)" stroke="none" stroke-width="1"/>
<rect x="327.2" y="77.3" width="2.8" height="94" fill="url(#g27)" stroke="none" stroke-width="1"/>
<rect x="327.2" y="77.3" width="2.8" height="94" fill="url(#g28)" stroke="none" stroke-width="1"/>
<rect x="326.6" y="77.3" width="4.2" height="2" fill="#c81a1a" stroke="none" stroke-width="1"/>
<rect x="298" y="81.6" width="22" height="1.3" fill="#ffffff" stroke="none" stroke-width="1"/>
<rect x="295.5" y="77.3" width="66.9" height="94" fill="none" stroke="#767676" stroke-width="0.8"/>
<rect x="374.2" y="77.5" width="66.2" height="93.8" fill="url(#g29)" stroke="none" stroke-width="1"/>
<rect x="374.2" y="77.5" width="66.2" height="70.35" fill="url(#pt0)" opacity="0.2"/>
<rect x="374.2" y="147.85" width="66.2" height="23.45" fill="url(#pt2)" opacity="0.12"/>
<rect x="403.8" y="77.5" width="7.4" height="93.8" fill="url(#g30)" stroke="none" stroke-width="1"/>
<rect x="405.2" y="77.5" width="4.6" height="93.8" fill="url(#g31)" stroke="none" stroke-width="1"/>
<rect x="405.2" y="77.5" width="4.6" height="93.8" fill="url(#g32)" stroke="none" stroke-width="1"/>
<rect x="374.2" y="77.5" width="66.2" height="93.8" fill="none" stroke="#767676" stroke-width="0.8"/>
<rect x="454" y="77.7" width="66.5" height="93.6" fill="url(#g33)" stroke="none" stroke-width="1"/>
<rect x="454" y="77.7" width="66.5" height="70.2" fill="url(#pt2)" opacity="0.2"/>
<rect x="454" y="147.9" width="66.5" height="23.4" fill="url(#pt2)" opacity="0.12"/>
<rect x="483.35" y="77.7" width="1.5" height="93.6" fill="url(#g34)" stroke="none" stroke-width="1"/>
<rect x="490.75" y="77.7" width="1.5" height="93.6" fill="url(#g34)" stroke="none" stroke-width="1"/>
<rect x="484.85" y="77.7" width="5.9" height="93.6" fill="url(#g35)" stroke="none" stroke-width="1"/>
<rect x="484.85" y="77.7" width="5.9" height="93.6" fill="url(#g36)" stroke="none" stroke-width="1"/>
<rect x="454" y="77.7" width="66.5" height="93.6" fill="none" stroke="#767676" stroke-width="0.8"/>
<rect x="295.5" y="172.8" width="66.9" height="93.8" fill="url(#g37)" stroke="none" stroke-width="1"/>
<rect x="295.5" y="172.8" width="66.9" height="70.35" fill="url(#pt0)" opacity="0.2"/>
<rect x="295.5" y="243.15" width="66.9" height="23.45" fill="url(#pt2)" opacity="0.12"/>
<rect x="325.6" y="172.8" width="1.2" height="93.8" fill="url(#g38)" stroke="none" stroke-width="1"/>
<rect x="330.4" y="172.8" width="1.2" height="93.8" fill="url(#g38)" stroke="none" stroke-width="1"/>
<rect x="326.8" y="172.8" width="3.6" height="93.8" fill="url(#g39)" stroke="none" stroke-width="1"/>
<rect x="326.8" y="172.8" width="3.6" height="93.8" fill="url(#g40)" stroke="none" stroke-width="1"/>
<rect x="299" y="178.6" width="20" height="1.3" fill="#ffffff" stroke="none" stroke-width="1"/>
<rect x="295.5" y="172.8" width="66.9" height="93.8" fill="none" stroke="#767676" stroke-width="0.8"/>
<rect x="374.2" y="172.8" width="66.2" height="94" fill="url(#g41)" stroke="none" stroke-width="1"/>
<rect x="374.2" y="172.8" width="66.2" height="70.5" fill="url(#pt2)" opacity="0.2"/>
<rect x="374.2" y="243.3" width="66.2" height="23.5" fill="url(#pt0)" opacity="0.12"/>
<rect x="404.2" y="172.8" width="6.6" height="94" fill="url(#g42)" stroke="none" stroke-width="1"/>
<rect x="405.6" y="172.8" width="3.8" height="94" fill="url(#g43)" stroke="none" stroke-width="1"/>
<rect x="405.6" y="172.8" width="3.8" height="94" fill="url(#g44)" stroke="none" stroke-width="1"/>
<rect x="374.2" y="172.8" width="66.2" height="94" fill="none" stroke="#767676" stroke-width="0.8"/>
<rect x="454" y="172.8" width="66.5" height="94.2" fill="url(#g45)" stroke="none" stroke-width="1"/>
<rect x="454" y="172.8" width="66.5" height="70.65" fill="url(#pt1)" opacity="0.2"/>
<rect x="454" y="243.45" width="66.5" height="23.55" fill="url(#pt1)" opacity="0.12"/>
<rect x="484.5" y="172.8" width="6.6" height="94.2" fill="url(#g46)" stroke="none" stroke-width="1"/>
<rect x="485.9" y="172.8" width="3.8" height="94.2" fill="url(#g47)" stroke="none" stroke-width="1"/>
<rect x="485.9" y="172.8" width="3.8" height="94.2" fill="url(#g48)" stroke="none" stroke-width="1"/>
<rect x="454" y="172.8" width="66.5" height="94.2" fill="none" stroke="#767676" stroke-width="0.8"/>
<rect x="254.5" y="76.9" width="3.6" height="33.5" fill="url(#g49)" stroke="none" stroke-width="1"/>
<text x="259.5" y="79.4" font-size="4.2" text-anchor="start" fill="#333" font-weight="normal" font-style="normal" stroke="#333" stroke-width="0.1">30</text>
<text x="259.5" y="84.75" font-size="4.2" text-anchor="start" fill="#333" font-weight="normal" font-style="normal" stroke="#333" stroke-width="0.1">25</text>
<text x="259.5" y="90.1" font-size="4.2" text-anchor="start" fill="#333" font-weight="normal" font-style="normal" stroke="#333" stroke-width="0.1">20</text>
<text x="259.5" y="95.45" font-size="4.2" text-anchor="start" fill="#333" font-weight="normal" font-style="normal" stroke="#333" stroke-width="0.1">15</text>
<text x="259.5" y="100.8" font-size="4.2" text-anchor="start" fill="#333" font-weight="normal" font-style="normal" stroke="#333" stroke-width="0.1">10</text>
<text x="259.5" y="106.15" font-size="4.2" text-anchor="start" fill="#333" font-weight="normal" font-style="normal" stroke="#333" stroke-width="0.1">5</text>
<text x="259.5" y="111.5" font-size="4.2" text-anchor="start" fill="#333" font-weight="normal" font-style="normal" stroke="#333" stroke-width="0.1">0</text>
<rect x="524.1" y="78.4" width="3.6" height="33.1" fill="url(#g50)" stroke="none" stroke-width="1"/>
<text x="529.1" y="80.9" font-size="4.2" text-anchor="start" fill="#333" font-weight="normal" font-style="normal" stroke="#333" stroke-width="0.1">30</text>
<text x="529.1" y="86.18" font-size="4.2" text-anchor="start" fill="#333" font-weight="normal" font-style="normal" stroke="#333" stroke-width="0.1">25</text>
<text x="529.1" y="91.47" font-size="4.2" text-anchor="start" fill="#333" font-weight="normal" font-style="normal" stroke="#333" stroke-width="0.1">20</text>
<text x="529.1" y="96.75" font-size="4.2" text-anchor="start" fill="#333" font-weight="normal" font-style="normal" stroke="#333" stroke-width="0.1">15</text>
<text x="529.1" y="102.03" font-size="4.2" text-anchor="start" fill="#333" font-weight="normal" font-style="normal" stroke="#333" stroke-width="0.1">10</text>
<text x="529.1" y="107.32" font-size="4.2" text-anchor="start" fill="#333" font-weight="normal" font-style="normal" stroke="#333" stroke-width="0.1">5</text>
<text x="529.1" y="112.6" font-size="4.2" text-anchor="start" fill="#333" font-weight="normal" font-style="normal" stroke="#333" stroke-width="0.1">0</text>
<line x1="28.5" y1="264.9" x2="28.5" y2="266.2" stroke="#555" stroke-width="0.6"/>
<line x1="58.7" y1="264.9" x2="58.7" y2="266.2" stroke="#555" stroke-width="0.6"/>
<line x1="64.3" y1="264.9" x2="64.3" y2="266.2" stroke="#555" stroke-width="0.6"/>
<line x1="94.5" y1="264.9" x2="94.5" y2="266.2" stroke="#555" stroke-width="0.6"/>
<text x="29.4" y="272.9" font-size="5.6" text-anchor="middle" fill="#222" font-weight="normal" font-style="normal" stroke="#222" stroke-width="0.14">-10.0</text>
<text x="61.7" y="273" font-size="5.6" text-anchor="middle" fill="#222" font-weight="normal" font-style="normal" stroke="#222" stroke-width="0.14">peak</text>
<text x="92.2" y="273" font-size="5.6" text-anchor="middle" fill="#222" font-weight="normal" font-style="normal" stroke="#222" stroke-width="0.14">10.0Kb</text>
<line x1="107.3" y1="264.9" x2="107.3" y2="266.2" stroke="#555" stroke-width="0.6"/>
<line x1="137.65" y1="264.9" x2="137.65" y2="266.2" stroke="#555" stroke-width="0.6"/>
<line x1="143.25" y1="264.9" x2="143.25" y2="266.2" stroke="#555" stroke-width="0.6"/>
<line x1="173.6" y1="264.9" x2="173.6" y2="266.2" stroke="#555" stroke-width="0.6"/>
<text x="111.6" y="272.9" font-size="5.6" text-anchor="middle" fill="#222" font-weight="normal" font-style="normal" stroke="#222" stroke-width="0.14">-10.0</text>
<text x="141.1" y="273" font-size="5.6" text-anchor="middle" fill="#222" font-weight="normal" font-style="normal" stroke="#222" stroke-width="0.14">peak</text>
<text x="171" y="273" font-size="5.6" text-anchor="middle" fill="#222" font-weight="normal" font-style="normal" stroke="#222" stroke-width="0.14">10.0Kb</text>
<line x1="184.2" y1="264.9" x2="184.2" y2="266.2" stroke="#555" stroke-width="0.6"/>
<line x1="214.55" y1="264.9" x2="214.55" y2="266.2" stroke="#555" stroke-width="0.6"/>
<line x1="220.15" y1="264.9" x2="220.15" y2="266.2" stroke="#555" stroke-width="0.6"/>
<line x1="250.5" y1="264.9" x2="250.5" y2="266.2" stroke="#555" stroke-width="0.6"/>
<text x="190.8" y="272.9" font-size="5.6" text-anchor="middle" fill="#222" font-weight="normal" font-style="normal" stroke="#222" stroke-width="0.14">-10.0</text>
<text x="217.5" y="273" font-size="5.6" text-anchor="middle" fill="#222" font-weight="normal" font-style="normal" stroke="#222" stroke-width="0.14">peak</text>
<text x="247.6" y="273" font-size="5.6" text-anchor="middle" fill="#222" font-weight="normal" font-style="normal" stroke="#222" stroke-width="0.14">10.0Kb</text>
<line x1="295.5" y1="266.6" x2="295.5" y2="267.9" stroke="#555" stroke-width="0.6"/>
<line x1="326.15" y1="266.6" x2="326.15" y2="267.9" stroke="#555" stroke-width="0.6"/>
<line x1="331.75" y1="266.6" x2="331.75" y2="267.9" stroke="#555" stroke-width="0.6"/>
<line x1="362.4" y1="266.6" x2="362.4" y2="267.9" stroke="#555" stroke-width="0.6"/>
<text x="301.4" y="272.9" font-size="5.6" text-anchor="middle" fill="#222" font-weight="normal" font-style="normal" stroke="#222" stroke-width="0.14">-10.0</text>
<text x="329.1" y="273" font-size="5.6" text-anchor="middle" fill="#222" font-weight="normal" font-style="normal" stroke="#222" stroke-width="0.14">peak</text>
<text x="359.4" y="273" font-size="5.6" text-anchor="middle" fill="#222" font-weight="normal" font-style="normal" stroke="#222" stroke-width="0.14">10.0Kb</text>
<line x1="374.2" y1="266.8" x2="374.2" y2="268.1" stroke="#555" stroke-width="0.6"/>
<line x1="404.5" y1="266.8" x2="404.5" y2="268.1" stroke="#555" stroke-width="0.6"/>
<line x1="410.1" y1="266.8" x2="410.1" y2="268.1" stroke="#555" stroke-width="0.6"/>
<line x1="440.4" y1="266.8" x2="440.4" y2="268.1" stroke="#555" stroke-width="0.6"/>
<text x="380.4" y="272.9" font-size="5.6" text-anchor="middle" fill="#222" font-weight="normal" font-style="normal" stroke="#222" stroke-width="0.14">-10.0</text>
<text x="407.2" y="273" font-size="5.6" text-anchor="middle" fill="#222" font-weight="normal" font-style="normal" stroke="#222" stroke-width="0.14">peak</text>
<text x="438.2" y="273" font-size="5.6" text-anchor="middle" fill="#222" font-weight="normal" font-style="normal" stroke="#222" stroke-width="0.14">10.0Kb</text>
<line x1="454" y1="267" x2="454" y2="268.3" stroke="#555" stroke-width="0.6"/>
<line x1="484.45" y1="267" x2="484.45" y2="268.3" stroke="#555" stroke-width="0.6"/>
<line x1="490.05" y1="267" x2="490.05" y2="268.3" stroke="#555" stroke-width="0.6"/>
<line x1="520.5" y1="267" x2="520.5" y2="268.3" stroke="#555" stroke-width="0.6"/>
<text x="460.7" y="272.9" font-size="5.6" text-anchor="middle" fill="#222" font-weight="normal" font-style="normal" stroke="#222" stroke-width="0.14">-10.0</text>
<text x="488.3" y="273" font-size="5.6" text-anchor="middle" fill="#222" font-weight="normal" font-style="normal" stroke="#222" stroke-width="0.14">peak</text>
<text x="518.8" y="273" font-size="5.6" text-anchor="middle" fill="#222" font-weight="normal" font-style="normal" stroke="#222" stroke-width="0.14">10.0Kb</text>
<text x="25.8" y="134" font-size="7.5" text-anchor="middle" fill="#111" font-weight="bold" font-style="normal" transform="rotate(-90 25.8 134)" stroke="#111" stroke-width="0.08">Low FCR</text>
<text x="25.8" y="221" font-size="7.5" text-anchor="middle" fill="#111" font-weight="bold" font-style="normal" transform="rotate(-90 25.8 221)" stroke="#111" stroke-width="0.08">High&#160; FCR</text>
<text x="293.4" y="134" font-size="7.5" text-anchor="middle" fill="#111" font-weight="bold" font-style="normal" transform="rotate(-90 293.4 134)" stroke="#111" stroke-width="0.08">Low FCR</text>
<text x="293.4" y="221" font-size="7.5" text-anchor="middle" fill="#111" font-weight="bold" font-style="normal" transform="rotate(-90 293.4 221)" stroke="#111" stroke-width="0.08">High&#160; FCR</text>
<rect x="19.3" y="284.7" width="222.5" height="10.2" fill="#fff" stroke="#e8453c" stroke-width="1.1"/>
<text x="127" y="292.6" font-size="7.5" text-anchor="middle" fill="#e8453c" font-weight="normal" font-style="normal" stroke="#e8453c" stroke-width="0.16">Duodenum</text>
<rect x="300.3" y="284.7" width="222.5" height="10.2" fill="#fff" stroke="#c9955c" stroke-width="1.1"/>
<text x="410.4" y="292.6" font-size="7.5" text-anchor="middle" fill="#c9955c" font-weight="normal" font-style="normal" stroke="#c9955c" stroke-width="0.16">Muscle</text>
<text x="5.5" y="303.7" font-size="10.8" text-anchor="start" fill="#111" font-weight="normal" font-style="normal" stroke="#111" stroke-width="0.07">C</text>
<rect x="159.2" y="313.4" width="92.6" height="133.4" fill="#fff" stroke="none" stroke-width="1"/>
<line x1="174" y1="313.4" x2="174" y2="446.8" stroke="#ececec" stroke-width="0.5"/>
<line x1="188.5" y1="313.4" x2="188.5" y2="446.8" stroke="#ececec" stroke-width="0.5"/>
<line x1="203.2" y1="313.4" x2="203.2" y2="446.8" stroke="#ececec" stroke-width="0.5"/>
<line x1="217.8" y1="313.4" x2="217.8" y2="446.8" stroke="#ececec" stroke-width="0.5"/>
<line x1="232.5" y1="313.4" x2="232.5" y2="446.8" stroke="#ececec" stroke-width="0.5"/>
<line x1="247.2" y1="313.4" x2="247.2" y2="446.8" stroke="#ececec" stroke-width="0.5"/>
<line x1="159.2" y1="318.9" x2="251.8" y2="318.9" stroke="#ececec" stroke-width="0.5"/>
<line x1="159.2" y1="329.18" x2="251.8" y2="329.18" stroke="#ececec" stroke-width="0.5"/>
<line x1="159.2" y1="339.46" x2="251.8" y2="339.46" stroke="#ececec" stroke-width="0.5"/>
<line x1="159.2" y1="349.74" x2="251.8" y2="349.74" stroke="#ececec" stroke-width="0.5"/>
<line x1="159.2" y1="360.02" x2="251.8" y2="360.02" stroke="#ececec" stroke-width="0.5"/>
<line x1="159.2" y1="370.3" x2="251.8" y2="370.3" stroke="#ececec" stroke-width="0.5"/>
<line x1="159.2" y1="380.58" x2="251.8" y2="380.58" stroke="#ececec" stroke-width="0.5"/>
<line x1="159.2" y1="390.86" x2="251.8" y2="390.86" stroke="#ececec" stroke-width="0.5"/>
<line x1="159.2" y1="401.14" x2="251.8" y2="401.14" stroke="#ececec" stroke-width="0.5"/>
<line x1="159.2" y1="411.42" x2="251.8" y2="411.42" stroke="#ececec" stroke-width="0.5"/>
<line x1="159.2" y1="421.7" x2="251.8" y2="421.7" stroke="#ececec" stroke-width="0.5"/>
<line x1="159.2" y1="431.98" x2="251.8" y2="431.98" stroke="#ececec" stroke-width="0.5"/>
<line x1="159.2" y1="442.26" x2="251.8" y2="442.26" stroke="#ececec" stroke-width="0.5"/>
<rect x="159.2" y="313.4" width="92.6" height="133.4" fill="none" stroke="#3a3a3a" stroke-width="0.8"/>
<text x="205.7" y="311.2" font-size="7.5" text-anchor="middle" fill="#111" font-weight="bold" font-style="normal" stroke="#111" stroke-width="0.08">Duodenum</text>
<text x="156.6" y="319.57" font-size="5.6" text-anchor="end" fill="#111" font-weight="normal" font-style="normal" stroke="#111" stroke-width="0.14">Electron transport chain: OXPHOS system in mitochondria</text>
<circle cx="239.8" cy="318.9" r="2.1" fill="#b81278"/>
<text x="156.6" y="329.85" font-size="5.6" text-anchor="end" fill="#111" font-weight="normal" font-style="normal" stroke="#111" stroke-width="0.14">Electron transport chain OXPHOS system in mitochondria</text>
<circle cx="239.8" cy="329.18" r="2.1" fill="#b81278"/>
<text x="156.6" y="340.13" font-size="5.6" text-anchor="end" fill="#f04c36" font-weight="normal" font-style="normal" stroke="#f04c36" stroke-width="0.14">Oxidative phosphorylation</text>
<circle cx="235.2" cy="339.46" r="2" fill="#a010b4"/>
<text x="156.6" y="350.41" font-size="5.6" text-anchor="end" fill="#111" font-weight="normal" font-style="normal" stroke="#111" stroke-width="0.14">oxidative phosphorylation</text>
<circle cx="235.2" cy="349.74" r="2" fill="#a010b4"/>
<text x="156.6" y="360.69" font-size="5.6" text-anchor="end" fill="#f04c36" font-weight="normal" font-style="normal" stroke="#f04c36" stroke-width="0.14">generation of precursor metabolites and energy</text>
<circle cx="230.7" cy="360.02" r="1.95" fill="#1818f2"/>
<text x="156.6" y="370.97" font-size="5.6" text-anchor="end" fill="#f04c36" font-weight="normal" font-style="normal" stroke="#f04c36" stroke-width="0.14">digestion</text>
<circle cx="222.3" cy="370.3" r="1.85" fill="#a412ac"/>
<text x="156.6" y="381.25" font-size="5.6" text-anchor="end" fill="#f04c36" font-weight="normal" font-style="normal" stroke="#f04c36" stroke-width="0.14">mitochondrial ATP synthesis coupled electron transport</text>
<circle cx="217.5" cy="380.58" r="1.8" fill="#a8108e"/>
<text x="156.6" y="391.53" font-size="5.6" text-anchor="end" fill="#f04c36" font-weight="normal" font-style="normal" stroke="#f04c36" stroke-width="0.14">ATP biosynthetic process</text>
<circle cx="210.2" cy="390.86" r="1.75" fill="#b01492"/>
<text x="156.6" y="401.81" font-size="5.6" text-anchor="end" fill="#111" font-weight="normal" font-style="normal" stroke="#111" stroke-width="0.14">respiratory electron transport chain</text>
<circle cx="208.6" cy="401.14" r="1.7" fill="#8010c4"/>
<text x="156.6" y="412.09" font-size="5.6" text-anchor="end" fill="#111" font-weight="normal" font-style="normal" stroke="#111" stroke-width="0.14">energy derivation by oxidation of organic compounds</text>
<circle cx="205.7" cy="411.42" r="1.65" fill="#2020f0"/>
<text x="156.6" y="422.37" font-size="5.6" text-anchor="end" fill="#f04c36" font-weight="normal" font-style="normal" stroke="#f04c36" stroke-width="0.14">positive regulation of lipid catabolic process</text>
<circle cx="195.5" cy="421.7" r="1.5" fill="#f01414"/>
<text x="156.6" y="432.65" font-size="5.6" text-anchor="end" fill="#111" font-weight="normal" font-style="normal" stroke="#111" stroke-width="0.14">ATP metabolic process</text>
<circle cx="188.2" cy="431.98" r="1.45" fill="#3010e8"/>
<text x="156.6" y="442.93" font-size="5.6" text-anchor="end" fill="#111" font-weight="normal" font-style="normal" stroke="#111" stroke-width="0.14">Carbohydrate digestion and absorption</text>
<circle cx="164.8" cy="442.26" r="0.6" fill="#c080d0"/>
<line x1="159.3" y1="446.8" x2="159.3" y2="448" stroke="#444" stroke-width="0.5"/>
<text x="159.3" y="452.3" font-size="3.8" text-anchor="middle" fill="#333" font-weight="normal" font-style="normal" stroke="#333" stroke-width="0.09">2</text>
<line x1="188.5" y1="446.8" x2="188.5" y2="448" stroke="#444" stroke-width="0.5"/>
<text x="188.5" y="452.3" font-size="3.8" text-anchor="middle" fill="#333" font-weight="normal" font-style="normal" stroke="#333" stroke-width="0.09">4</text>
<line x1="217.8" y1="446.8" x2="217.8" y2="448" stroke="#444" stroke-width="0.5"/>
<text x="217.8" y="452.3" font-size="3.8" text-anchor="middle" fill="#333" font-weight="normal" font-style="normal" stroke="#333" stroke-width="0.09">6</text>
<line x1="247.2" y1="446.8" x2="247.2" y2="448" stroke="#444" stroke-width="0.5"/>
<text x="247.2" y="452.3" font-size="3.8" text-anchor="middle" fill="#333" font-weight="normal" font-style="normal" stroke="#333" stroke-width="0.09">8</text>
<text x="202.7" y="458.2" font-size="5" text-anchor="middle" fill="#222" font-weight="normal" font-style="normal" stroke="#222" stroke-width="0.12">-LogP</text>
<text x="255.6" y="354.8" font-size="5.6" text-anchor="start" fill="#222" font-weight="normal" font-style="normal" stroke="#222" stroke-width="0.14">Enrichment</text>
<rect x="255.6" y="356.3" width="4.3" height="21.5" fill="url(#g51)" stroke="none" stroke-width="1"/>
<text x="261.6" y="359.6" font-size="3.4" text-anchor="start" fill="#333" font-weight="normal" font-style="normal" stroke="#333" stroke-width="0.09">12</text>
<text x="261.6" y="364" font-size="3.4" text-anchor="start" fill="#333" font-weight="normal" font-style="normal" stroke="#333" stroke-width="0.09">10</text>
<text x="261.6" y="368.6" font-size="3.4" text-anchor="start" fill="#333" font-weight="normal" font-style="normal" stroke="#333" stroke-width="0.09">8</text>
<text x="261.6" y="373.5" font-size="3.4" text-anchor="start" fill="#333" font-weight="normal" font-style="normal" stroke="#333" stroke-width="0.09">6</text>
<text x="261.6" y="378" font-size="3.4" text-anchor="start" fill="#333" font-weight="normal" font-style="normal" stroke="#333" stroke-width="0.09">4</text>
<text x="255.4" y="386" font-size="5.6" text-anchor="start" fill="#222" font-weight="normal" font-style="normal" stroke="#222" stroke-width="0.14">-LogP</text>
<circle cx="257.6" cy="389.2" r="0.8" fill="#111"/>
<text x="261.5" y="390.4" font-size="3.4" text-anchor="start" fill="#333" font-weight="normal" font-style="normal" stroke="#333" stroke-width="0.09">3</text>
<circle cx="257.6" cy="393.9" r="1.15" fill="#111"/>
<text x="261.5" y="395.1" font-size="3.4" text-anchor="start" fill="#333" font-weight="normal" font-style="normal" stroke="#333" stroke-width="0.09">4</text>
<circle cx="257.6" cy="398.4" r="1.45" fill="#111"/>
<text x="261.5" y="399.6" font-size="3.4" text-anchor="start" fill="#333" font-weight="normal" font-style="normal" stroke="#333" stroke-width="0.09">5</text>
<circle cx="257.6" cy="402.6" r="1.7" fill="#111"/>
<text x="261.5" y="403.8" font-size="3.4" text-anchor="start" fill="#333" font-weight="normal" font-style="normal" stroke="#333" stroke-width="0.09">6</text>
<circle cx="257.6" cy="407.3" r="1.95" fill="#111"/>
<text x="261.5" y="408.5" font-size="3.4" text-anchor="start" fill="#333" font-weight="normal" font-style="normal" stroke="#333" stroke-width="0.09">7</text>
<text x="285.2" y="305.4" font-size="10.8" text-anchor="start" fill="#111" font-weight="normal" font-style="normal" stroke="#111" stroke-width="0.07">D</text>
<rect x="419.9" y="315.1" width="93.3" height="134.2" fill="#fff" stroke="none" stroke-width="1"/>
<line x1="424.5" y1="315.1" x2="424.5" y2="449.3" stroke="#ececec" stroke-width="0.5"/>
<line x1="437" y1="315.1" x2="437" y2="449.3" stroke="#ececec" stroke-width="0.5"/>
<line x1="449.4" y1="315.1" x2="449.4" y2="449.3" stroke="#ececec" stroke-width="0.5"/>
<line x1="461.9" y1="315.1" x2="461.9" y2="449.3" stroke="#ececec" stroke-width="0.5"/>
<line x1="474.3" y1="315.1" x2="474.3" y2="449.3" stroke="#ececec" stroke-width="0.5"/>
<line x1="486.8" y1="315.1" x2="486.8" y2="449.3" stroke="#ececec" stroke-width="0.5"/>
<line x1="499.2" y1="315.1" x2="499.2" y2="449.3" stroke="#ececec" stroke-width="0.5"/>
<line x1="511.7" y1="315.1" x2="511.7" y2="449.3" stroke="#ececec" stroke-width="0.5"/>
<line x1="419.9" y1="320.8" x2="513.2" y2="320.8" stroke="#ececec" stroke-width="0.5"/>
<line x1="419.9" y1="329.7" x2="513.2" y2="329.7" stroke="#ececec" stroke-width="0.5"/>
<line x1="419.9" y1="338.6" x2="513.2" y2="338.6" stroke="#ececec" stroke-width="0.5"/>
<line x1="419.9" y1="347.5" x2="513.2" y2="347.5" stroke="#ececec" stroke-width="0.5"/>
<line x1="419.9" y1="356.4" x2="513.2" y2="356.4" stroke="#ececec" stroke-width="0.5"/>
<line x1="419.9" y1="365.3" x2="513.2" y2="365.3" stroke="#ececec" stroke-width="0.5"/>
<line x1="419.9" y1="374.2" x2="513.2" y2="374.2" stroke="#ececec" stroke-width="0.5"/>
<line x1="419.9" y1="383.1" x2="513.2" y2="383.1" stroke="#ececec" stroke-width="0.5"/>
<line x1="419.9" y1="392" x2="513.2" y2="392" stroke="#ececec" stroke-width="0.5"/>
<line x1="419.9" y1="400.9" x2="513.2" y2="400.9" stroke="#ececec" stroke-width="0.5"/>
<line x1="419.9" y1="409.8" x2="513.2" y2="409.8" stroke="#ececec" stroke-width="0.5"/>
<line x1="419.9" y1="418.7" x2="513.2" y2="418.7" stroke="#ececec" stroke-width="0.5"/>
<line x1="419.9" y1="427.6" x2="513.2" y2="427.6" stroke="#ececec" stroke-width="0.5"/>
<line x1="419.9" y1="436.5" x2="513.2" y2="436.5" stroke="#ececec" stroke-width="0.5"/>
<line x1="419.9" y1="445.4" x2="513.2" y2="445.4" stroke="#ececec" stroke-width="0.5"/>
<rect x="419.9" y="315.1" width="93.3" height="134.2" fill="none" stroke="#3a3a3a" stroke-width="0.8"/>
<text x="465.8" y="314.3" font-size="7.5" text-anchor="middle" fill="#111" font-weight="bold" font-style="normal" stroke="#111" stroke-width="0.08">Muscle</text>
<text x="417.4" y="321.47" font-size="5.6" text-anchor="end" fill="#111" font-weight="normal" font-style="normal" stroke="#111" stroke-width="0.14">regulation of hydrolase activity</text>
<circle cx="491.6" cy="320.8" r="2" fill="#6010e8"/>
<text x="417.4" y="330.37" font-size="5.6" text-anchor="end" fill="#111" font-weight="normal" font-style="normal" stroke="#111" stroke-width="0.14">muscle structure development</text>
<circle cx="491.6" cy="329.7" r="2" fill="#6010e8"/>
<text x="417.4" y="339.27" font-size="5.6" text-anchor="end" fill="#111" font-weight="normal" font-style="normal" stroke="#111" stroke-width="0.14">protein phosphorylation</text>
<circle cx="486.2" cy="338.6" r="1.95" fill="#7010e0"/>
<text x="417.4" y="348.17" font-size="5.6" text-anchor="end" fill="#111" font-weight="normal" font-style="normal" stroke="#111" stroke-width="0.14">protein catabolic process</text>
<circle cx="486.2" cy="347.5" r="1.95" fill="#5010f0"/>
<text x="417.4" y="357.07" font-size="5.6" text-anchor="end" fill="#f04c36" font-weight="normal" font-style="normal" stroke="#f04c36" stroke-width="0.14">Insulin signaling</text>
<circle cx="486.2" cy="356.4" r="1.9" fill="#e01062"/>
<text x="417.4" y="365.97" font-size="5.6" text-anchor="end" fill="#111" font-weight="normal" font-style="normal" stroke="#111" stroke-width="0.14">RHO GTPase cycle</text>
<circle cx="466" cy="365.3" r="1.6" fill="#5010f0"/>
<text x="417.4" y="374.87" font-size="5.6" text-anchor="end" fill="#f04c36" font-weight="normal" font-style="normal" stroke="#f04c36" stroke-width="0.14">positive regulation of GTPase activity</text>
<circle cx="450.6" cy="374.2" r="1.4" fill="#7010d8"/>
<text x="417.4" y="383.77" font-size="5.6" text-anchor="end" fill="#111" font-weight="normal" font-style="normal" stroke="#111" stroke-width="0.14">regulation of cellular response to growth factor stimulus</text>
<circle cx="444" cy="383.1" r="1.3" fill="#2020e8"/>
<text x="417.4" y="392.67" font-size="5.6" text-anchor="end" fill="#111" font-weight="normal" font-style="normal" stroke="#111" stroke-width="0.14">glycerolipid metabolic process</text>
<circle cx="442.5" cy="392" r="1.3" fill="#2020e8"/>
<text x="417.4" y="401.57" font-size="5.6" text-anchor="end" fill="#111" font-weight="normal" font-style="normal" stroke="#111" stroke-width="0.14">glycerophospholipid metabolic process</text>
<circle cx="441.5" cy="400.9" r="1.3" fill="#2424e4"/>
<text x="417.4" y="410.47" font-size="5.6" text-anchor="end" fill="#f04c36" font-weight="normal" font-style="normal" stroke="#f04c36" stroke-width="0.14">regulation of GTPase activity</text>
<circle cx="436.6" cy="409.8" r="1.2" fill="#f01020"/>
<text x="417.4" y="419.37" font-size="5.6" text-anchor="end" fill="#111" font-weight="normal" font-style="normal" stroke="#111" stroke-width="0.14">calcium ion transport</text>
<circle cx="431.4" cy="418.7" r="1.1" fill="#2020d0"/>
<text x="417.4" y="428.27" font-size="5.6" text-anchor="end" fill="#f04c36" font-weight="normal" font-style="normal" stroke="#f04c36" stroke-width="0.14">positive regulation of lipid metabolic process</text>
<circle cx="431" cy="427.6" r="1.1" fill="#8040e0"/>
<text x="417.4" y="437.17" font-size="5.6" text-anchor="end" fill="#111" font-weight="normal" font-style="normal" stroke="#111" stroke-width="0.14">calcium ion transmembrane import into cytosol</text>
<circle cx="428.5" cy="436.5" r="0.9" fill="#6040a8"/>
<text x="417.4" y="446.07" font-size="5.6" text-anchor="end" fill="#f04c36" font-weight="normal" font-style="normal" stroke="#f04c36" stroke-width="0.14">lipid transport</text>
<circle cx="426.5" cy="445.4" r="0.7" fill="#6060a8"/>
<line x1="437" y1="449.3" x2="437" y2="450.5" stroke="#444" stroke-width="0.5"/>
<text x="437" y="454.8" font-size="3.8" text-anchor="middle" fill="#333" font-weight="normal" font-style="normal" stroke="#333" stroke-width="0.09">5</text>
<line x1="461.9" y1="449.3" x2="461.9" y2="450.5" stroke="#444" stroke-width="0.5"/>
<text x="461.9" y="454.8" font-size="3.8" text-anchor="middle" fill="#333" font-weight="normal" font-style="normal" stroke="#333" stroke-width="0.09">10</text>
<line x1="486.8" y1="449.3" x2="486.8" y2="450.5" stroke="#444" stroke-width="0.5"/>
<text x="486.8" y="454.8" font-size="3.8" text-anchor="middle" fill="#333" font-weight="normal" font-style="normal" stroke="#333" stroke-width="0.09">15</text>
<line x1="511.7" y1="449.3" x2="511.7" y2="450.5" stroke="#444" stroke-width="0.5"/>
<text x="511.7" y="454.8" font-size="3.8" text-anchor="middle" fill="#333" font-weight="normal" font-style="normal" stroke="#333" stroke-width="0.09">20</text>
<text x="469" y="460.5" font-size="5" text-anchor="middle" fill="#222" font-weight="normal" font-style="normal" stroke="#222" stroke-width="0.12">-LogP</text>
<text x="519.9" y="359.8" font-size="5.6" text-anchor="start" fill="#222" font-weight="normal" font-style="normal" stroke="#222" stroke-width="0.14">Enrichment</text>
<rect x="519.9" y="361.1" width="4.5" height="21.7" fill="url(#g52)" stroke="none" stroke-width="1"/>
<text x="526.8" y="363.2" font-size="3.4" text-anchor="start" fill="#333" font-weight="normal" font-style="normal" stroke="#333" stroke-width="0.09">5</text>
<text x="526.8" y="369.4" font-size="3.4" text-anchor="start" fill="#333" font-weight="normal" font-style="normal" stroke="#333" stroke-width="0.09">4</text>
<text x="526.8" y="375.7" font-size="3.4" text-anchor="start" fill="#333" font-weight="normal" font-style="normal" stroke="#333" stroke-width="0.09">3</text>
<text x="526.8" y="382.1" font-size="3.4" text-anchor="start" fill="#333" font-weight="normal" font-style="normal" stroke="#333" stroke-width="0.09">2</text>
<text x="519.9" y="391.4" font-size="5.6" text-anchor="start" fill="#222" font-weight="normal" font-style="normal" stroke="#222" stroke-width="0.14">-LogP</text>
<circle cx="522.3" cy="394.2" r="0.9" fill="#111"/>
<text x="526" y="395.4" font-size="3.4" text-anchor="start" fill="#333" font-weight="normal" font-style="normal" stroke="#333" stroke-width="0.09">6</text>
<circle cx="522.3" cy="398.7" r="1.25" fill="#111"/>
<text x="526" y="399.9" font-size="3.4" text-anchor="start" fill="#333" font-weight="normal" font-style="normal" stroke="#333" stroke-width="0.09">9</text>
<circle cx="522.3" cy="402.9" r="1.55" fill="#111"/>
<text x="526" y="404.1" font-size="3.4" text-anchor="start" fill="#333" font-weight="normal" font-style="normal" stroke="#333" stroke-width="0.09">12</text>
<circle cx="522.3" cy="407.4" r="1.8" fill="#111"/>
<text x="526" y="408.6" font-size="3.4" text-anchor="start" fill="#333" font-weight="normal" font-style="normal" stroke="#333" stroke-width="0.09">15</text>
<text x="5.2" y="475.9" font-size="10.8" text-anchor="start" fill="#111" font-weight="normal" font-style="normal" stroke="#111" stroke-width="0.07">E</text>
<text x="40.6" y="472.9" font-size="7.5" fill="#111"><tspan font-weight="bold">Duodenum</tspan> (H-FCR <tspan font-style="italic">vs</tspan> L-FCR)</text>
<line x1="31.1" y1="475" x2="139.2" y2="475" stroke="#5aa2e6" stroke-width="1.1"/>
<text x="50.4" y="483.7" font-size="5.4" text-anchor="middle" fill="#222" font-weight="normal" font-style="normal" stroke="#222" stroke-width="0.14">Motif</text>
<text x="99.9" y="483.7" font-size="5.4" text-anchor="start" fill="#222" font-weight="normal" font-style="normal" stroke="#222" stroke-width="0.14">Name</text>
<text x="118.8" y="483.7" font-size="5.4" text-anchor="start" fill="#222" font-weight="normal" font-style="normal" stroke="#222" stroke-width="0.14">P-value</text>
<line x1="25.4" y1="485" x2="137.6" y2="485" stroke="#222" stroke-width="1.3"/>
<text x="50.4" y="552.2" font-size="5.4" text-anchor="middle" fill="#222" font-weight="normal" font-style="normal" stroke="#222" stroke-width="0.14">Motif</text>
<text x="97.6" y="552.2" font-size="5.4" text-anchor="start" fill="#222" font-weight="normal" font-style="normal" stroke="#222" stroke-width="0.14">Name</text>
<text x="115.7" y="552.2" font-size="5.4" text-anchor="start" fill="#222" font-weight="normal" font-style="normal" stroke="#222" stroke-width="0.14">P-value</text>
<line x1="25.4" y1="553.5" x2="137.6" y2="553.5" stroke="#222" stroke-width="1.3"/>
<text transform="translate(26.21 496.18) scale(0.5925 0.3162)" font-size="10" font-weight="bold" fill="#f5a312">G</text>
<text transform="translate(26.3 493.78) scale(0.5961 0.3254)" font-size="10" font-weight="bold" fill="#2ea836">A</text>
<text transform="translate(26.2 491.32) scale(0.6116 0.3162)" font-size="10" font-weight="bold" fill="#2438c8">C</text>
<text transform="translate(30.59 496.11) scale(0.5961 0.4881)" font-size="10" font-weight="bold" fill="#2ea836">A</text>
<text transform="translate(30.5 492.42) scale(0.5925 0.4743)" font-size="10" font-weight="bold" fill="#f5a312">G</text>
<text transform="translate(34.79 496.07) scale(0.5925 0.4743)" font-size="10" font-weight="bold" fill="#f5a312">G</text>
<text transform="translate(34.89 492.47) scale(0.5961 0.4881)" font-size="10" font-weight="bold" fill="#2ea836">A</text>
<text transform="translate(39.09 495.96) scale(0.5925 0.6227)" font-size="10" font-weight="bold" fill="#f5a312">G</text>
<text transform="translate(39.18 491.38) scale(0.5961 0.4005)" font-size="10" font-weight="bold" fill="#2ea836">A</text>
<text transform="translate(43.38 496.3) scale(0.5925 1.1457)" font-size="10" font-weight="bold" fill="#f5a312">G</text>
<text transform="translate(47.84 496.11) scale(0.6792 0.4881)" font-size="10" font-weight="bold" fill="#e2231f">T</text>
<text transform="translate(47.68 492.42) scale(0.5925 0.4743)" font-size="10" font-weight="bold" fill="#f5a312">G</text>
<text transform="translate(51.96 496.07) scale(0.6116 0.4743)" font-size="10" font-weight="bold" fill="#2438c8">C</text>
<text transform="translate(52.14 492.47) scale(0.6792 0.4881)" font-size="10" font-weight="bold" fill="#e2231f">T</text>
<text transform="translate(56.26 496.3) scale(0.6116 1.1457)" font-size="10" font-weight="bold" fill="#2438c8">C</text>
<text transform="translate(60.65 496.41) scale(0.5961 1.1790)" font-size="10" font-weight="bold" fill="#2ea836">A</text>
<text transform="translate(64.94 496.41) scale(0.5961 1.1790)" font-size="10" font-weight="bold" fill="#2ea836">A</text>
<text transform="translate(69.24 496.41) scale(0.5961 1.1790)" font-size="10" font-weight="bold" fill="#2ea836">A</text>
<text transform="translate(73.44 496.3) scale(0.5925 1.1457)" font-size="10" font-weight="bold" fill="#f5a312">G</text>
<text transform="translate(77.9 496.41) scale(0.6792 1.1790)" font-size="10" font-weight="bold" fill="#e2231f">T</text>
<text transform="translate(82.19 496.11) scale(0.6792 0.4881)" font-size="10" font-weight="bold" fill="#e2231f">T</text>
<text transform="translate(82.02 492.42) scale(0.6116 0.4743)" font-size="10" font-weight="bold" fill="#2438c8">C</text>
<text transform="translate(86.31 496.3) scale(0.6116 1.1457)" font-size="10" font-weight="bold" fill="#2438c8">C</text>
<text transform="translate(90.71 496.41) scale(0.5961 1.1790)" font-size="10" font-weight="bold" fill="#2ea836">A</text>
<text x="99.9" y="496.1" font-size="4.8" text-anchor="start" fill="#111" stroke="#111" stroke-width="0.12" font-family="'Liberation Serif', serif">HNF4a</text>
<text x="121.9" y="496.1" font-size="4.8" fill="#111" stroke="#111" stroke-width="0.12" font-family="'Liberation Serif', serif">1e-149</text>
<text transform="translate(25 507.54) scale(0.6168 0.3748)" font-size="10" font-weight="bold" fill="#f5a312">G</text>
<text transform="translate(25.09 504.56) scale(0.6205 0.6171)" font-size="10" font-weight="bold" fill="#2ea836">A</text>
<text transform="translate(29.55 507.81) scale(0.6205 1.1354)" font-size="10" font-weight="bold" fill="#2ea836">A</text>
<text transform="translate(33.91 507.7) scale(0.6168 1.1033)" font-size="10" font-weight="bold" fill="#f5a312">G</text>
<text transform="translate(38.37 507.7) scale(0.6168 1.1033)" font-size="10" font-weight="bold" fill="#f5a312">G</text>
<text transform="translate(43 507.81) scale(0.7070 1.1354)" font-size="10" font-weight="bold" fill="#e2231f">T</text>
<text transform="translate(47.27 507.7) scale(0.6366 1.1033)" font-size="10" font-weight="bold" fill="#2438c8">C</text>
<text transform="translate(51.84 507.81) scale(0.6205 1.1354)" font-size="10" font-weight="bold" fill="#2ea836">A</text>
<text transform="translate(56.29 507.81) scale(0.6205 1.1354)" font-size="10" font-weight="bold" fill="#2ea836">A</text>
<text transform="translate(60.75 507.81) scale(0.6205 1.1354)" font-size="10" font-weight="bold" fill="#2ea836">A</text>
<text transform="translate(65.11 507.7) scale(0.6168 1.1033)" font-size="10" font-weight="bold" fill="#f5a312">G</text>
<text transform="translate(69.57 507.7) scale(0.6168 1.1033)" font-size="10" font-weight="bold" fill="#f5a312">G</text>
<text transform="translate(74.2 507.81) scale(0.7070 1.1354)" font-size="10" font-weight="bold" fill="#e2231f">T</text>
<text transform="translate(78.47 507.7) scale(0.6366 1.1033)" font-size="10" font-weight="bold" fill="#2438c8">C</text>
<text transform="translate(83.04 507.81) scale(0.6205 1.1354)" font-size="10" font-weight="bold" fill="#2ea836">A</text>
<text x="99.9" y="508.1" font-size="4.8" text-anchor="start" fill="#111" stroke="#111" stroke-width="0.12" font-family="'Liberation Serif', serif">TR4</text>
<text x="121.9" y="508.1" font-size="4.8" fill="#111" stroke="#111" stroke-width="0.12" font-family="'Liberation Serif', serif">1e-75</text>
<text transform="translate(26.22 519.09) scale(0.5658 0.4450)" font-size="10" font-weight="bold" fill="#f5a312">G</text>
<text transform="translate(26.21 515.67) scale(0.5840 0.4450)" font-size="10" font-weight="bold" fill="#2438c8">C</text>
<text transform="translate(30.49 519.13) scale(0.6485 0.4580)" font-size="10" font-weight="bold" fill="#e2231f">T</text>
<text transform="translate(30.42 515.71) scale(0.5692 0.4580)" font-size="10" font-weight="bold" fill="#2ea836">A</text>
<text transform="translate(34.53 519.41) scale(0.5692 1.1063)" font-size="10" font-weight="bold" fill="#2ea836">A</text>
<text transform="translate(38.56 519.3) scale(0.5658 1.0750)" font-size="10" font-weight="bold" fill="#f5a312">G</text>
<text transform="translate(42.67 519.3) scale(0.5658 1.0750)" font-size="10" font-weight="bold" fill="#f5a312">G</text>
<text transform="translate(46.95 519.13) scale(0.6485 0.4580)" font-size="10" font-weight="bold" fill="#e2231f">T</text>
<text transform="translate(46.78 515.67) scale(0.5840 0.4450)" font-size="10" font-weight="bold" fill="#2438c8">C</text>
<text transform="translate(50.89 519.3) scale(0.5840 1.0750)" font-size="10" font-weight="bold" fill="#2438c8">C</text>
<text transform="translate(55.1 519.41) scale(0.5692 1.1063)" font-size="10" font-weight="bold" fill="#2ea836">A</text>
<text transform="translate(59.21 519.41) scale(0.5692 1.1063)" font-size="10" font-weight="bold" fill="#2ea836">A</text>
<text transform="translate(63.33 519.41) scale(0.5692 1.1063)" font-size="10" font-weight="bold" fill="#2ea836">A</text>
<text transform="translate(67.35 519.3) scale(0.5658 1.0750)" font-size="10" font-weight="bold" fill="#f5a312">G</text>
<text transform="translate(71.46 519.3) scale(0.5658 1.0750)" font-size="10" font-weight="bold" fill="#f5a312">G</text>
<text transform="translate(75.74 519.41) scale(0.6485 1.1063)" font-size="10" font-weight="bold" fill="#e2231f">T</text>
<text transform="translate(79.68 519.3) scale(0.5840 1.0750)" font-size="10" font-weight="bold" fill="#2438c8">C</text>
<text transform="translate(83.89 519.41) scale(0.5692 1.1063)" font-size="10" font-weight="bold" fill="#2ea836">A</text>
<text x="99.9" y="519.1" font-size="4.8" text-anchor="start" fill="#111" stroke="#111" stroke-width="0.12" font-family="'Liberation Serif', serif">PPARA</text>
<text x="121.9" y="519.1" font-size="4.8" fill="#111" stroke="#111" stroke-width="0.12" font-family="'Liberation Serif', serif">1e-66</text>
<text transform="translate(26.38 531.01) scale(0.6548 1.0480)" font-size="10" font-weight="bold" fill="#e2231f">T</text>
<text transform="translate(30.37 530.91) scale(0.5712 1.0184)" font-size="10" font-weight="bold" fill="#f5a312">G</text>
<text transform="translate(34.61 531.01) scale(0.5746 1.0480)" font-size="10" font-weight="bold" fill="#2ea836">A</text>
<text transform="translate(38.66 530.91) scale(0.5896 1.0184)" font-size="10" font-weight="bold" fill="#2438c8">C</text>
<text transform="translate(42.81 530.91) scale(0.5896 1.0184)" font-size="10" font-weight="bold" fill="#2438c8">C</text>
<text transform="translate(47.13 531.01) scale(0.6548 1.0480)" font-size="10" font-weight="bold" fill="#e2231f">T</text>
<text transform="translate(51.28 531.01) scale(0.6548 1.0480)" font-size="10" font-weight="bold" fill="#e2231f">T</text>
<text transform="translate(55.43 531.01) scale(0.6548 1.0480)" font-size="10" font-weight="bold" fill="#e2231f">T</text>
<text transform="translate(59.42 530.91) scale(0.5712 1.0184)" font-size="10" font-weight="bold" fill="#f5a312">G</text>
<text transform="translate(63.56 530.7) scale(0.5896 0.4216)" font-size="10" font-weight="bold" fill="#2438c8">C</text>
<text transform="translate(63.57 527.46) scale(0.5712 0.4216)" font-size="10" font-weight="bold" fill="#f5a312">G</text>
<text transform="translate(67.71 530.91) scale(0.5896 1.0184)" font-size="10" font-weight="bold" fill="#2438c8">C</text>
<text transform="translate(71.86 530.91) scale(0.5896 1.0184)" font-size="10" font-weight="bold" fill="#2438c8">C</text>
<text transform="translate(76.01 530.91) scale(0.5896 1.0184)" font-size="10" font-weight="bold" fill="#2438c8">C</text>
<text transform="translate(80.17 530.7) scale(0.5712 0.4216)" font-size="10" font-weight="bold" fill="#f5a312">G</text>
<text transform="translate(80.26 527.51) scale(0.5746 0.4339)" font-size="10" font-weight="bold" fill="#2ea836">A</text>
<text x="99.9" y="531.4" font-size="4.8" text-anchor="start" fill="#111" stroke="#111" stroke-width="0.12" font-family="'Liberation Serif', serif">PPARE</text>
<text x="121.9" y="531.4" font-size="4.8" fill="#111" stroke="#111" stroke-width="0.12" font-family="'Liberation Serif', serif">1e-36</text>
<text transform="translate(26.19 543.71) scale(0.6395 1.0325)" font-size="10" font-weight="bold" fill="#f5a312">G</text>
<text transform="translate(30.98 543.54) scale(0.7330 0.4399)" font-size="10" font-weight="bold" fill="#e2231f">T</text>
<text transform="translate(30.79 540.21) scale(0.6600 0.4275)" font-size="10" font-weight="bold" fill="#2438c8">C</text>
<text transform="translate(35.4 543.5) scale(0.6600 0.4275)" font-size="10" font-weight="bold" fill="#2438c8">C</text>
<text transform="translate(35.51 540.26) scale(0.6433 0.4399)" font-size="10" font-weight="bold" fill="#2ea836">A</text>
<text transform="translate(40.12 543.81) scale(0.6433 1.0626)" font-size="10" font-weight="bold" fill="#2ea836">A</text>
<text transform="translate(44.81 543.81) scale(0.7330 1.0626)" font-size="10" font-weight="bold" fill="#e2231f">T</text>
<text transform="translate(49.34 543.81) scale(0.6433 1.0626)" font-size="10" font-weight="bold" fill="#2ea836">A</text>
<text transform="translate(53.95 543.81) scale(0.6433 1.0626)" font-size="10" font-weight="bold" fill="#2ea836">A</text>
<text transform="translate(58.56 543.81) scale(0.6433 1.0626)" font-size="10" font-weight="bold" fill="#2ea836">A</text>
<text transform="translate(63.17 543.81) scale(0.6433 1.0626)" font-size="10" font-weight="bold" fill="#2ea836">A</text>
<text transform="translate(67.86 543.54) scale(0.7330 0.4399)" font-size="10" font-weight="bold" fill="#e2231f">T</text>
<text transform="translate(67.78 540.26) scale(0.6433 0.4399)" font-size="10" font-weight="bold" fill="#2ea836">A</text>
<text x="99.9" y="543.8" font-size="4.8" text-anchor="start" fill="#111" stroke="#111" stroke-width="0.12" font-family="'Liberation Serif', serif">CDX2</text>
<text x="121.9" y="543.8" font-size="4.8" fill="#111" stroke="#111" stroke-width="0.12" font-family="'Liberation Serif', serif">1e-23</text>
<text transform="translate(26.96 565.21) scale(0.7701 1.1499)" font-size="10" font-weight="bold" fill="#2ea836">A</text>
<text transform="translate(32.51 564.97) scale(0.8776 0.3906)" font-size="10" font-weight="bold" fill="#e2231f">T</text>
<text transform="translate(32.29 561.86) scale(0.7902 0.6073)" font-size="10" font-weight="bold" fill="#2438c8">C</text>
<text transform="translate(37.75 564.93) scale(0.7902 0.3796)" font-size="10" font-weight="bold" fill="#2438c8">C</text>
<text transform="translate(37.88 561.92) scale(0.7701 0.6250)" font-size="10" font-weight="bold" fill="#2ea836">A</text>
<text transform="translate(43.34 565.21) scale(0.7701 1.1499)" font-size="10" font-weight="bold" fill="#2ea836">A</text>
<text transform="translate(48.68 565.1) scale(0.7656 1.1174)" font-size="10" font-weight="bold" fill="#f5a312">G</text>
<text transform="translate(54.14 565.1) scale(0.7656 1.1174)" font-size="10" font-weight="bold" fill="#f5a312">G</text>
<text transform="translate(59.72 565.21) scale(0.7701 1.1499)" font-size="10" font-weight="bold" fill="#2ea836">A</text>
<text transform="translate(65.18 565.21) scale(0.7701 1.1499)" font-size="10" font-weight="bold" fill="#2ea836">A</text>
<text transform="translate(70.52 565.1) scale(0.7656 1.1174)" font-size="10" font-weight="bold" fill="#f5a312">G</text>
<text transform="translate(76.19 565.21) scale(0.8776 1.1499)" font-size="10" font-weight="bold" fill="#e2231f">T</text>
<text x="98.5" y="563.7" font-size="4.8" text-anchor="start" fill="#111" stroke="#111" stroke-width="0.12" font-family="'Liberation Serif', serif">ELF3</text>
<text x="118.4" y="563.7" font-size="4.8" fill="#111" stroke="#111" stroke-width="0.12" font-family="'Liberation Serif', serif">1e-179</text>
<text transform="translate(26.96 577.21) scale(0.7701 1.1499)" font-size="10" font-weight="bold" fill="#2ea836">A</text>
<text transform="translate(32.51 576.97) scale(0.8776 0.3906)" font-size="10" font-weight="bold" fill="#e2231f">T</text>
<text transform="translate(32.29 573.86) scale(0.7902 0.6073)" font-size="10" font-weight="bold" fill="#2438c8">C</text>
<text transform="translate(37.75 577.01) scale(0.7902 0.2741)" font-size="10" font-weight="bold" fill="#2438c8">C</text>
<text transform="translate(37.76 574.9) scale(0.7656 0.2741)" font-size="10" font-weight="bold" fill="#f5a312">G</text>
<text transform="translate(37.88 572.72) scale(0.7701 0.4514)" font-size="10" font-weight="bold" fill="#2ea836">A</text>
<text transform="translate(43.34 577.21) scale(0.7701 1.1499)" font-size="10" font-weight="bold" fill="#2ea836">A</text>
<text transform="translate(48.68 577.1) scale(0.7656 1.1174)" font-size="10" font-weight="bold" fill="#f5a312">G</text>
<text transform="translate(54.14 577.1) scale(0.7656 1.1174)" font-size="10" font-weight="bold" fill="#f5a312">G</text>
<text transform="translate(59.72 577.21) scale(0.7701 1.1499)" font-size="10" font-weight="bold" fill="#2ea836">A</text>
<text transform="translate(65.18 577.21) scale(0.7701 1.1499)" font-size="10" font-weight="bold" fill="#2ea836">A</text>
<text transform="translate(70.52 577.1) scale(0.7656 1.1174)" font-size="10" font-weight="bold" fill="#f5a312">G</text>
<text transform="translate(76.19 577.21) scale(0.8776 1.1499)" font-size="10" font-weight="bold" fill="#e2231f">T</text>
<text x="98.5" y="576" font-size="4.8" text-anchor="start" fill="#111" stroke="#111" stroke-width="0.12" font-family="'Liberation Serif', serif">EHF</text>
<text x="118.4" y="576" font-size="4.8" fill="#111" stroke="#111" stroke-width="0.12" font-family="'Liberation Serif', serif">1e-165</text>
<text transform="translate(26.96 589.21) scale(0.7701 1.1499)" font-size="10" font-weight="bold" fill="#2ea836">A</text>
<text transform="translate(32.51 588.97) scale(0.8776 0.3906)" font-size="10" font-weight="bold" fill="#e2231f">T</text>
<text transform="translate(32.29 585.86) scale(0.7902 0.6073)" font-size="10" font-weight="bold" fill="#2438c8">C</text>
<text transform="translate(37.75 588.93) scale(0.7902 0.3796)" font-size="10" font-weight="bold" fill="#2438c8">C</text>
<text transform="translate(37.76 585.86) scale(0.7656 0.6073)" font-size="10" font-weight="bold" fill="#f5a312">G</text>
<text transform="translate(43.34 589.21) scale(0.7701 1.1499)" font-size="10" font-weight="bold" fill="#2ea836">A</text>
<text transform="translate(48.68 589.1) scale(0.7656 1.1174)" font-size="10" font-weight="bold" fill="#f5a312">G</text>
<text transform="translate(54.14 589.1) scale(0.7656 1.1174)" font-size="10" font-weight="bold" fill="#f5a312">G</text>
<text transform="translate(59.72 589.21) scale(0.7701 1.1499)" font-size="10" font-weight="bold" fill="#2ea836">A</text>
<text transform="translate(65.18 589.21) scale(0.7701 1.1499)" font-size="10" font-weight="bold" fill="#2ea836">A</text>
<text transform="translate(70.52 589.1) scale(0.7656 1.1174)" font-size="10" font-weight="bold" fill="#f5a312">G</text>
<text transform="translate(76.19 589.21) scale(0.8776 1.1499)" font-size="10" font-weight="bold" fill="#e2231f">T</text>
<text x="98.5" y="588.4" font-size="4.8" text-anchor="start" fill="#111" stroke="#111" stroke-width="0.12" font-family="'Liberation Serif', serif">ELF5</text>
<text x="118.4" y="588.4" font-size="4.8" fill="#111" stroke="#111" stroke-width="0.12" font-family="'Liberation Serif', serif">1e-189</text>
<text transform="translate(27.05 600.61) scale(0.8776 1.1063)" font-size="10" font-weight="bold" fill="#e2231f">T</text>
<text transform="translate(32.42 600.61) scale(0.7701 1.1063)" font-size="10" font-weight="bold" fill="#2ea836">A</text>
<text transform="translate(37.88 600.61) scale(0.7701 1.1063)" font-size="10" font-weight="bold" fill="#2ea836">A</text>
<text transform="translate(43.22 600.5) scale(0.7656 1.0750)" font-size="10" font-weight="bold" fill="#f5a312">G</text>
<text transform="translate(48.89 600.61) scale(0.8776 1.1063)" font-size="10" font-weight="bold" fill="#e2231f">T</text>
<text transform="translate(54.26 600.61) scale(0.7701 1.1063)" font-size="10" font-weight="bold" fill="#2ea836">A</text>
<text transform="translate(59.72 600.61) scale(0.7701 1.1063)" font-size="10" font-weight="bold" fill="#2ea836">A</text>
<text transform="translate(65.18 600.61) scale(0.7701 1.1063)" font-size="10" font-weight="bold" fill="#2ea836">A</text>
<text transform="translate(70.51 600.5) scale(0.7902 1.0750)" font-size="10" font-weight="bold" fill="#2438c8">C</text>
<text transform="translate(76.1 600.61) scale(0.7701 1.1063)" font-size="10" font-weight="bold" fill="#2ea836">A</text>
<text x="98.5" y="600.1" font-size="4.8" text-anchor="start" fill="#111" stroke="#111" stroke-width="0.12" font-family="'Liberation Serif', serif">FOXA1</text>
<text x="118.4" y="600.1" font-size="4.8" fill="#111" stroke="#111" stroke-width="0.12" font-family="'Liberation Serif', serif">1e-121</text>
<text transform="translate(26.8 612.34) scale(0.8556 0.3652)" font-size="10" font-weight="bold" fill="#f5a312">G</text>
<text transform="translate(26.79 609.38) scale(0.8831 0.5843)" font-size="10" font-weight="bold" fill="#2438c8">C</text>
<text transform="translate(32.85 612.5) scale(0.8831 1.0750)" font-size="10" font-weight="bold" fill="#2438c8">C</text>
<text transform="translate(38.92 612.5) scale(0.8831 1.0750)" font-size="10" font-weight="bold" fill="#2438c8">C</text>
<text transform="translate(45.13 612.61) scale(0.8607 1.1063)" font-size="10" font-weight="bold" fill="#2ea836">A</text>
<text transform="translate(51.31 612.61) scale(0.9807 1.1063)" font-size="10" font-weight="bold" fill="#e2231f">T</text>
<text transform="translate(57.38 612.61) scale(0.9807 1.1063)" font-size="10" font-weight="bold" fill="#e2231f">T</text>
<text transform="translate(63.2 612.5) scale(0.8556 1.0750)" font-size="10" font-weight="bold" fill="#f5a312">G</text>
<text transform="translate(69.51 612.61) scale(0.9807 1.1063)" font-size="10" font-weight="bold" fill="#e2231f">T</text>
<text transform="translate(75.58 612.38) scale(0.9807 0.3758)" font-size="10" font-weight="bold" fill="#e2231f">T</text>
<text transform="translate(75.32 609.38) scale(0.8831 0.5843)" font-size="10" font-weight="bold" fill="#2438c8">C</text>
<text x="98.5" y="613.1" font-size="4.8" text-anchor="start" fill="#111" stroke="#111" stroke-width="0.12" font-family="'Liberation Serif', serif">Sox2</text>
<text x="118.4" y="613.1" font-size="4.8" fill="#111" stroke="#111" stroke-width="0.12" font-family="'Liberation Serif', serif">1e-30</text>
<line x1="23.2" y1="487.6" x2="23.2" y2="545.2" stroke="#333" stroke-width="0.9"/>
<line x1="23.2" y1="558" x2="23.2" y2="615" stroke="#333" stroke-width="0.9"/>
<text x="20.4" y="512" font-size="6.5" text-anchor="middle" fill="#222" font-weight="normal" font-style="normal" transform="rotate(-90 20.4 512)" stroke="#222" stroke-width="0.16">Up-regulated</text>
<text x="20.4" y="585.2" font-size="6.4" text-anchor="middle" fill="#222" font-weight="normal" font-style="normal" transform="rotate(-90 20.4 585.2)" stroke="#222" stroke-width="0.16">Down-regulated</text>
<text x="5" y="642.4" font-size="10.8" text-anchor="start" fill="#111" font-weight="normal" font-style="normal" stroke="#111" stroke-width="0.07">H</text>
<text x="42" y="639.7" font-size="7.5" fill="#111"><tspan font-weight="bold">Muscle</tspan> (H-FCR <tspan font-style="italic">vs</tspan> L-FCR)</text>
<line x1="31.8" y1="641.5" x2="140.9" y2="641.5" stroke="#5aa2e6" stroke-width="1.1"/>
<text x="52.2" y="648.4" font-size="5.4" text-anchor="middle" fill="#222" font-weight="normal" font-style="normal" stroke="#222" stroke-width="0.14">Motif</text>
<text x="101.8" y="648.4" font-size="5.4" text-anchor="start" fill="#222" font-weight="normal" font-style="normal" stroke="#222" stroke-width="0.14">Name</text>
<text x="121.4" y="648.4" font-size="5.4" text-anchor="start" fill="#222" font-weight="normal" font-style="normal" stroke="#222" stroke-width="0.14">P-value</text>
<line x1="25.4" y1="649.8" x2="142.7" y2="649.8" stroke="#222" stroke-width="1.3"/>
<text x="52.2" y="720.6" font-size="5.4" text-anchor="middle" fill="#222" font-weight="normal" font-style="normal" stroke="#222" stroke-width="0.14">Motif</text>
<text x="100.9" y="720.6" font-size="5.4" text-anchor="start" fill="#222" font-weight="normal" font-style="normal" stroke="#222" stroke-width="0.14">Name</text>
<text x="120.9" y="720.6" font-size="5.4" text-anchor="start" fill="#222" font-weight="normal" font-style="normal" stroke="#222" stroke-width="0.14">P-value</text>
<line x1="25.4" y1="722.4" x2="142.7" y2="722.4" stroke="#222" stroke-width="1.3"/>
<text transform="translate(25.34 659.86) scale(0.7448 0.4802)" font-size="10" font-weight="bold" fill="#f5a312">G</text>
<text transform="translate(25.46 656.22) scale(0.7493 0.4941)" font-size="10" font-weight="bold" fill="#2ea836">A</text>
<text transform="translate(30.66 659.86) scale(0.7448 0.4802)" font-size="10" font-weight="bold" fill="#f5a312">G</text>
<text transform="translate(30.78 656.22) scale(0.7493 0.4941)" font-size="10" font-weight="bold" fill="#2ea836">A</text>
<text transform="translate(36.1 660.21) scale(0.7493 1.1936)" font-size="10" font-weight="bold" fill="#2ea836">A</text>
<text transform="translate(41.29 660.1) scale(0.7688 1.1598)" font-size="10" font-weight="bold" fill="#2438c8">C</text>
<text transform="translate(46.74 660.21) scale(0.7493 1.1936)" font-size="10" font-weight="bold" fill="#2ea836">A</text>
<text transform="translate(52.06 660.21) scale(0.7493 1.1936)" font-size="10" font-weight="bold" fill="#2ea836">A</text>
<text transform="translate(57.48 660.21) scale(0.8537 1.1936)" font-size="10" font-weight="bold" fill="#e2231f">T</text>
<text transform="translate(62.8 659.91) scale(0.8537 0.4941)" font-size="10" font-weight="bold" fill="#e2231f">T</text>
<text transform="translate(62.58 656.17) scale(0.7448 0.4802)" font-size="10" font-weight="bold" fill="#f5a312">G</text>
<text transform="translate(67.9 659.86) scale(0.7448 0.4802)" font-size="10" font-weight="bold" fill="#f5a312">G</text>
<text transform="translate(67.89 656.17) scale(0.7688 0.4802)" font-size="10" font-weight="bold" fill="#2438c8">C</text>
<text transform="translate(73.44 659.91) scale(0.8537 0.4941)" font-size="10" font-weight="bold" fill="#e2231f">T</text>
<text transform="translate(73.21 656.17) scale(0.7688 0.4802)" font-size="10" font-weight="bold" fill="#2438c8">C</text>
<text x="113.9" y="658.4" font-size="4.8" text-anchor="middle" fill="#111" stroke="#111" stroke-width="0.12" font-family="'Liberation Serif', serif">Sox15</text>
<text x="126" y="658.4" font-size="4.8" fill="#111" stroke="#111" stroke-width="0.12" font-family="'Liberation Serif', serif">1e-94</text>
<text transform="translate(25.34 670.66) scale(0.7552 0.4802)" font-size="10" font-weight="bold" fill="#f5a312">G</text>
<text transform="translate(25.46 667.02) scale(0.7597 0.4941)" font-size="10" font-weight="bold" fill="#2ea836">A</text>
<text transform="translate(30.73 670.66) scale(0.7552 0.4802)" font-size="10" font-weight="bold" fill="#f5a312">G</text>
<text transform="translate(30.85 667.02) scale(0.7597 0.4941)" font-size="10" font-weight="bold" fill="#2ea836">A</text>
<text transform="translate(36.11 670.9) scale(0.7795 1.1598)" font-size="10" font-weight="bold" fill="#2438c8">C</text>
<text transform="translate(41.5 670.9) scale(0.7795 1.1598)" font-size="10" font-weight="bold" fill="#2438c8">C</text>
<text transform="translate(46.9 670.9) scale(0.7552 1.1598)" font-size="10" font-weight="bold" fill="#f5a312">G</text>
<text transform="translate(52.29 670.9) scale(0.7552 1.1598)" font-size="10" font-weight="bold" fill="#f5a312">G</text>
<text transform="translate(57.8 671.01) scale(0.7597 1.1936)" font-size="10" font-weight="bold" fill="#2ea836">A</text>
<text transform="translate(63.19 671.01) scale(0.7597 1.1936)" font-size="10" font-weight="bold" fill="#2ea836">A</text>
<text transform="translate(68.46 670.9) scale(0.7552 1.1598)" font-size="10" font-weight="bold" fill="#f5a312">G</text>
<text transform="translate(74.06 671.01) scale(0.8656 1.1936)" font-size="10" font-weight="bold" fill="#e2231f">T</text>
<text x="113.9" y="670.5" font-size="4.8" text-anchor="middle" fill="#111" stroke="#111" stroke-width="0.12" font-family="'Liberation Serif', serif">GABPA</text>
<text x="126" y="670.5" font-size="4.8" fill="#111" stroke="#111" stroke-width="0.12" font-family="'Liberation Serif', serif">1e-152</text>
<text transform="translate(25.57 683.31) scale(0.6873 1.1354)" font-size="10" font-weight="bold" fill="#e2231f">T</text>
<text transform="translate(29.75 683.2) scale(0.5996 1.1033)" font-size="10" font-weight="bold" fill="#f5a312">G</text>
<text transform="translate(34.26 683.31) scale(0.6873 1.1354)" font-size="10" font-weight="bold" fill="#e2231f">T</text>
<text transform="translate(38.43 683.2) scale(0.5996 1.1033)" font-size="10" font-weight="bold" fill="#f5a312">G</text>
<text transform="translate(42.77 683.2) scale(0.5996 1.1033)" font-size="10" font-weight="bold" fill="#f5a312">G</text>
<text transform="translate(47.28 683.31) scale(0.6873 1.1354)" font-size="10" font-weight="bold" fill="#e2231f">T</text>
<text transform="translate(51.44 683.2) scale(0.6189 1.1033)" font-size="10" font-weight="bold" fill="#2438c8">C</text>
<text transform="translate(55.78 683.2) scale(0.6189 1.1033)" font-size="10" font-weight="bold" fill="#2438c8">C</text>
<text transform="translate(60.13 682.98) scale(0.6189 0.4567)" font-size="10" font-weight="bold" fill="#2438c8">C</text>
<text transform="translate(60.13 679.47) scale(0.5996 0.4567)" font-size="10" font-weight="bold" fill="#f5a312">G</text>
<text transform="translate(64.47 682.98) scale(0.5996 0.4567)" font-size="10" font-weight="bold" fill="#f5a312">G</text>
<text transform="translate(64.57 679.51) scale(0.6032 0.4700)" font-size="10" font-weight="bold" fill="#2ea836">A</text>
<text transform="translate(68.82 682.98) scale(0.5996 0.4567)" font-size="10" font-weight="bold" fill="#f5a312">G</text>
<text transform="translate(68.91 679.51) scale(0.6032 0.4700)" font-size="10" font-weight="bold" fill="#2ea836">A</text>
<text transform="translate(73.16 682.98) scale(0.5996 0.4567)" font-size="10" font-weight="bold" fill="#f5a312">G</text>
<text transform="translate(73.25 679.51) scale(0.6032 0.4700)" font-size="10" font-weight="bold" fill="#2ea836">A</text>
<text transform="translate(77.5 682.98) scale(0.5996 0.4567)" font-size="10" font-weight="bold" fill="#f5a312">G</text>
<text transform="translate(77.59 679.51) scale(0.6032 0.4700)" font-size="10" font-weight="bold" fill="#2ea836">A</text>
<text transform="translate(81.84 682.98) scale(0.5996 0.4567)" font-size="10" font-weight="bold" fill="#f5a312">G</text>
<text transform="translate(81.93 679.51) scale(0.6032 0.4700)" font-size="10" font-weight="bold" fill="#2ea836">A</text>
<text transform="translate(86.18 682.98) scale(0.5996 0.4567)" font-size="10" font-weight="bold" fill="#f5a312">G</text>
<text transform="translate(86.28 679.51) scale(0.6032 0.4700)" font-size="10" font-weight="bold" fill="#2ea836">A</text>
<text transform="translate(90.69 683.02) scale(0.6873 0.4700)" font-size="10" font-weight="bold" fill="#e2231f">T</text>
<text transform="translate(90.62 679.51) scale(0.6032 0.4700)" font-size="10" font-weight="bold" fill="#2ea836">A</text>
<text transform="translate(94.86 682.98) scale(0.5996 0.4567)" font-size="10" font-weight="bold" fill="#f5a312">G</text>
<text transform="translate(94.96 679.51) scale(0.6032 0.4700)" font-size="10" font-weight="bold" fill="#2ea836">A</text>
<text x="113.9" y="683" font-size="4.8" text-anchor="middle" fill="#111" stroke="#111" stroke-width="0.12" font-family="'Liberation Serif', serif">TCF3</text>
<text x="126" y="683" font-size="4.8" fill="#111" stroke="#111" stroke-width="0.12" font-family="'Liberation Serif', serif">1e-33</text>
<text transform="translate(25.38 693.68) scale(0.6578 0.4567)" font-size="10" font-weight="bold" fill="#f5a312">G</text>
<text transform="translate(25.48 690.21) scale(0.6617 0.4700)" font-size="10" font-weight="bold" fill="#2ea836">A</text>
<text transform="translate(30.11 693.68) scale(0.6578 0.4567)" font-size="10" font-weight="bold" fill="#f5a312">G</text>
<text transform="translate(30.22 690.21) scale(0.6617 0.4700)" font-size="10" font-weight="bold" fill="#2ea836">A</text>
<text transform="translate(34.84 693.68) scale(0.6789 0.4567)" font-size="10" font-weight="bold" fill="#2438c8">C</text>
<text transform="translate(35.03 690.21) scale(0.7540 0.4700)" font-size="10" font-weight="bold" fill="#e2231f">T</text>
<text transform="translate(39.77 694.01) scale(0.7540 1.1354)" font-size="10" font-weight="bold" fill="#e2231f">T</text>
<text transform="translate(44.3 693.9) scale(0.6789 1.1033)" font-size="10" font-weight="bold" fill="#2438c8">C</text>
<text transform="translate(49.04 693.9) scale(0.6789 1.1033)" font-size="10" font-weight="bold" fill="#2438c8">C</text>
<text transform="translate(53.77 693.9) scale(0.6789 1.1033)" font-size="10" font-weight="bold" fill="#2438c8">C</text>
<text transform="translate(58.7 693.72) scale(0.7540 0.4700)" font-size="10" font-weight="bold" fill="#e2231f">T</text>
<text transform="translate(58.5 690.17) scale(0.6789 0.4567)" font-size="10" font-weight="bold" fill="#2438c8">C</text>
<text transform="translate(63.25 693.9) scale(0.6578 1.1033)" font-size="10" font-weight="bold" fill="#f5a312">G</text>
<text transform="translate(67.98 693.9) scale(0.6578 1.1033)" font-size="10" font-weight="bold" fill="#f5a312">G</text>
<text transform="translate(72.71 693.9) scale(0.6578 1.1033)" font-size="10" font-weight="bold" fill="#f5a312">G</text>
<text transform="translate(77.45 693.9) scale(0.6578 1.1033)" font-size="10" font-weight="bold" fill="#f5a312">G</text>
<text transform="translate(82.28 694.01) scale(0.6617 1.1354)" font-size="10" font-weight="bold" fill="#2ea836">A</text>
<text transform="translate(86.91 693.68) scale(0.6578 0.4567)" font-size="10" font-weight="bold" fill="#f5a312">G</text>
<text transform="translate(87.02 690.21) scale(0.6617 0.4700)" font-size="10" font-weight="bold" fill="#2ea836">A</text>
<text transform="translate(91.83 694.01) scale(0.7540 1.1354)" font-size="10" font-weight="bold" fill="#e2231f">T</text>
<text x="113.9" y="696.1" font-size="4.8" text-anchor="middle" fill="#111" stroke="#111" stroke-width="0.12" font-family="'Liberation Serif', serif">EBF2</text>
<text x="126" y="696.1" font-size="4.8" fill="#111" stroke="#111" stroke-width="0.12" font-family="'Liberation Serif', serif">1e-48</text>
<text transform="translate(25.49 707.41) scale(0.6552 1.1354)" font-size="10" font-weight="bold" fill="#2ea836">A</text>
<text transform="translate(30.18 707.41) scale(0.6552 1.1354)" font-size="10" font-weight="bold" fill="#2ea836">A</text>
<text transform="translate(34.75 707.3) scale(0.6723 1.1033)" font-size="10" font-weight="bold" fill="#2438c8">C</text>
<text transform="translate(39.56 707.41) scale(0.6552 1.1354)" font-size="10" font-weight="bold" fill="#2ea836">A</text>
<text transform="translate(44.33 707.41) scale(0.7466 1.1354)" font-size="10" font-weight="bold" fill="#e2231f">T</text>
<text transform="translate(48.82 707.3) scale(0.6723 1.1033)" font-size="10" font-weight="bold" fill="#2438c8">C</text>
<text transform="translate(53.71 707.41) scale(0.7466 1.1354)" font-size="10" font-weight="bold" fill="#e2231f">T</text>
<text transform="translate(58.21 707.3) scale(0.6513 1.1033)" font-size="10" font-weight="bold" fill="#f5a312">G</text>
<text transform="translate(62.9 707.08) scale(0.6513 0.4567)" font-size="10" font-weight="bold" fill="#f5a312">G</text>
<text transform="translate(63.01 703.61) scale(0.6552 0.4700)" font-size="10" font-weight="bold" fill="#2ea836">A</text>
<text transform="translate(67.7 707.41) scale(0.6552 1.1354)" font-size="10" font-weight="bold" fill="#2ea836">A</text>
<text x="113.9" y="708.9" font-size="4.8" text-anchor="middle" fill="#111" stroke="#111" stroke-width="0.12" font-family="'Liberation Serif', serif">ZBTB18</text>
<text x="126" y="708.9" font-size="4.8" fill="#111" stroke="#111" stroke-width="0.12" font-family="'Liberation Serif', serif">1e-28</text>
<text transform="translate(25.38 732.98) scale(0.6624 0.4567)" font-size="10" font-weight="bold" fill="#f5a312">G</text>
<text transform="translate(25.57 729.51) scale(0.7592 0.4700)" font-size="10" font-weight="bold" fill="#e2231f">T</text>
<text transform="translate(30.13 733.2) scale(0.6837 1.1033)" font-size="10" font-weight="bold" fill="#2438c8">C</text>
<text transform="translate(35.1 733.31) scale(0.7592 1.1354)" font-size="10" font-weight="bold" fill="#e2231f">T</text>
<text transform="translate(39.78 733.31) scale(0.6663 1.1354)" font-size="10" font-weight="bold" fill="#2ea836">A</text>
<text transform="translate(44.62 733.31) scale(0.7592 1.1354)" font-size="10" font-weight="bold" fill="#e2231f">T</text>
<text transform="translate(49.39 733.31) scale(0.7592 1.1354)" font-size="10" font-weight="bold" fill="#e2231f">T</text>
<text transform="translate(54.15 733.31) scale(0.7592 1.1354)" font-size="10" font-weight="bold" fill="#e2231f">T</text>
<text transform="translate(58.92 733.31) scale(0.7592 1.1354)" font-size="10" font-weight="bold" fill="#e2231f">T</text>
<text transform="translate(63.6 733.02) scale(0.6663 0.4700)" font-size="10" font-weight="bold" fill="#2ea836">A</text>
<text transform="translate(63.68 729.51) scale(0.7592 0.4700)" font-size="10" font-weight="bold" fill="#e2231f">T</text>
<text transform="translate(68.45 733.31) scale(0.7592 1.1354)" font-size="10" font-weight="bold" fill="#e2231f">T</text>
<text transform="translate(73.13 733.02) scale(0.6663 0.4700)" font-size="10" font-weight="bold" fill="#2ea836">A</text>
<text transform="translate(73.02 729.47) scale(0.6624 0.4567)" font-size="10" font-weight="bold" fill="#f5a312">G</text>
<text transform="translate(77.79 732.98) scale(0.6624 0.4567)" font-size="10" font-weight="bold" fill="#f5a312">G</text>
<text transform="translate(77.89 729.51) scale(0.6663 0.4700)" font-size="10" font-weight="bold" fill="#2ea836">A</text>
<text transform="translate(82.65 733.02) scale(0.6663 0.4700)" font-size="10" font-weight="bold" fill="#2ea836">A</text>
<text transform="translate(82.55 729.47) scale(0.6624 0.4567)" font-size="10" font-weight="bold" fill="#f5a312">G</text>
<text transform="translate(87.31 732.98) scale(0.6624 0.4567)" font-size="10" font-weight="bold" fill="#f5a312">G</text>
<text transform="translate(87.31 729.47) scale(0.6837 0.4567)" font-size="10" font-weight="bold" fill="#2438c8">C</text>
<text x="103.6" y="732.7" font-size="4.8" text-anchor="start" fill="#111" stroke="#111" stroke-width="0.12" font-family="'Liberation Serif', serif">Mef2b</text>
<text x="123.9" y="732.7" font-size="4.8" fill="#111" stroke="#111" stroke-width="0.12" font-family="'Liberation Serif', serif">1e-163</text>
<text transform="translate(25.38 745.08) scale(0.6624 0.4567)" font-size="10" font-weight="bold" fill="#f5a312">G</text>
<text transform="translate(25.57 741.61) scale(0.7592 0.4700)" font-size="10" font-weight="bold" fill="#e2231f">T</text>
<text transform="translate(30.33 745.12) scale(0.7592 0.4700)" font-size="10" font-weight="bold" fill="#e2231f">T</text>
<text transform="translate(30.13 741.57) scale(0.6837 0.4567)" font-size="10" font-weight="bold" fill="#2438c8">C</text>
<text transform="translate(34.9 745.08) scale(0.6837 0.4567)" font-size="10" font-weight="bold" fill="#2438c8">C</text>
<text transform="translate(35.1 741.61) scale(0.7592 0.4700)" font-size="10" font-weight="bold" fill="#e2231f">T</text>
<text transform="translate(39.78 745.12) scale(0.6663 0.4700)" font-size="10" font-weight="bold" fill="#2ea836">A</text>
<text transform="translate(39.78 741.61) scale(0.6663 0.4700)" font-size="10" font-weight="bold" fill="#2ea836">A</text>
<text transform="translate(44.54 745.41) scale(0.6663 1.1354)" font-size="10" font-weight="bold" fill="#2ea836">A</text>
<text transform="translate(49.3 745.41) scale(0.6663 1.1354)" font-size="10" font-weight="bold" fill="#2ea836">A</text>
<text transform="translate(54.07 745.41) scale(0.6663 1.1354)" font-size="10" font-weight="bold" fill="#2ea836">A</text>
<text transform="translate(58.83 745.41) scale(0.6663 1.1354)" font-size="10" font-weight="bold" fill="#2ea836">A</text>
<text transform="translate(63.6 745.41) scale(0.6663 1.1354)" font-size="10" font-weight="bold" fill="#2ea836">A</text>
<text transform="translate(68.45 745.41) scale(0.7592 1.1354)" font-size="10" font-weight="bold" fill="#e2231f">T</text>
<text transform="translate(73.13 745.41) scale(0.6663 1.1354)" font-size="10" font-weight="bold" fill="#2ea836">A</text>
<text transform="translate(77.79 745.3) scale(0.6624 1.1033)" font-size="10" font-weight="bold" fill="#f5a312">G</text>
<text transform="translate(82.65 745.12) scale(0.6663 0.4700)" font-size="10" font-weight="bold" fill="#2ea836">A</text>
<text transform="translate(82.55 741.57) scale(0.6624 0.4567)" font-size="10" font-weight="bold" fill="#f5a312">G</text>
<text transform="translate(87.31 745.08) scale(0.6624 0.4567)" font-size="10" font-weight="bold" fill="#f5a312">G</text>
<text transform="translate(87.31 741.57) scale(0.6837 0.4567)" font-size="10" font-weight="bold" fill="#2438c8">C</text>
<text x="103.6" y="744.5" font-size="4.8" text-anchor="start" fill="#111" stroke="#111" stroke-width="0.12" font-family="'Liberation Serif', serif">Mef2c</text>
<text x="123.9" y="744.5" font-size="4.8" fill="#111" stroke="#111" stroke-width="0.12" font-family="'Liberation Serif', serif">1e-143</text>
<text transform="translate(25.36 757.18) scale(0.7167 0.4567)" font-size="10" font-weight="bold" fill="#f5a312">G</text>
<text transform="translate(25.56 753.71) scale(0.8216 0.4700)" font-size="10" font-weight="bold" fill="#e2231f">T</text>
<text transform="translate(30.48 757.4) scale(0.7398 1.1033)" font-size="10" font-weight="bold" fill="#2438c8">C</text>
<text transform="translate(35.82 757.51) scale(0.8216 1.1354)" font-size="10" font-weight="bold" fill="#e2231f">T</text>
<text transform="translate(40.86 757.51) scale(0.7210 1.1354)" font-size="10" font-weight="bold" fill="#2ea836">A</text>
<text transform="translate(46.08 757.51) scale(0.8216 1.1354)" font-size="10" font-weight="bold" fill="#e2231f">T</text>
<text transform="translate(51.21 757.51) scale(0.8216 1.1354)" font-size="10" font-weight="bold" fill="#e2231f">T</text>
<text transform="translate(56.34 757.51) scale(0.8216 1.1354)" font-size="10" font-weight="bold" fill="#e2231f">T</text>
<text transform="translate(61.48 757.51) scale(0.8216 1.1354)" font-size="10" font-weight="bold" fill="#e2231f">T</text>
<text transform="translate(66.52 757.22) scale(0.7210 0.4700)" font-size="10" font-weight="bold" fill="#2ea836">A</text>
<text transform="translate(66.61 753.71) scale(0.8216 0.4700)" font-size="10" font-weight="bold" fill="#e2231f">T</text>
<text transform="translate(71.74 757.51) scale(0.8216 1.1354)" font-size="10" font-weight="bold" fill="#e2231f">T</text>
<text transform="translate(76.78 757.51) scale(0.7210 1.1354)" font-size="10" font-weight="bold" fill="#2ea836">A</text>
<text transform="translate(81.91 757.22) scale(0.7210 0.4700)" font-size="10" font-weight="bold" fill="#2ea836">A</text>
<text transform="translate(81.79 753.67) scale(0.7167 0.4567)" font-size="10" font-weight="bold" fill="#f5a312">G</text>
<text transform="translate(86.92 757.4) scale(0.7398 1.1033)" font-size="10" font-weight="bold" fill="#2438c8">C</text>
<text x="103.6" y="757.4" font-size="4.8" text-anchor="start" fill="#111" stroke="#111" stroke-width="0.12" font-family="'Liberation Serif', serif">Mef2d</text>
<text x="123.9" y="757.4" font-size="4.8" fill="#111" stroke="#111" stroke-width="0.12" font-family="'Liberation Serif', serif">1e-147</text>
<text transform="translate(25.35 769.4) scale(0.7253 1.1033)" font-size="10" font-weight="bold" fill="#2438c8">C</text>
<text transform="translate(30.6 769.22) scale(0.8055 0.4700)" font-size="10" font-weight="bold" fill="#e2231f">T</text>
<text transform="translate(30.39 765.67) scale(0.7253 0.4567)" font-size="10" font-weight="bold" fill="#2438c8">C</text>
<text transform="translate(35.63 769.22) scale(0.8055 0.4700)" font-size="10" font-weight="bold" fill="#e2231f">T</text>
<text transform="translate(35.55 765.71) scale(0.7069 0.4700)" font-size="10" font-weight="bold" fill="#2ea836">A</text>
<text transform="translate(40.47 769.18) scale(0.7027 0.4567)" font-size="10" font-weight="bold" fill="#f5a312">G</text>
<text transform="translate(40.58 765.71) scale(0.7069 0.4700)" font-size="10" font-weight="bold" fill="#2ea836">A</text>
<text transform="translate(45.62 769.51) scale(0.7069 1.1354)" font-size="10" font-weight="bold" fill="#2ea836">A</text>
<text transform="translate(50.66 769.51) scale(0.7069 1.1354)" font-size="10" font-weight="bold" fill="#2ea836">A</text>
<text transform="translate(55.69 769.51) scale(0.7069 1.1354)" font-size="10" font-weight="bold" fill="#2ea836">A</text>
<text transform="translate(60.73 769.51) scale(0.7069 1.1354)" font-size="10" font-weight="bold" fill="#2ea836">A</text>
<text transform="translate(65.85 769.51) scale(0.8055 1.1354)" font-size="10" font-weight="bold" fill="#e2231f">T</text>
<text transform="translate(70.8 769.51) scale(0.7069 1.1354)" font-size="10" font-weight="bold" fill="#2ea836">A</text>
<text transform="translate(75.73 769.4) scale(0.7027 1.1033)" font-size="10" font-weight="bold" fill="#f5a312">G</text>
<text x="103.6" y="768.6" font-size="4.8" text-anchor="start" fill="#111" stroke="#111" stroke-width="0.12" font-family="'Liberation Serif', serif">Mef2a</text>
<text x="123.9" y="768.6" font-size="4.8" fill="#111" stroke="#111" stroke-width="0.12" font-family="'Liberation Serif', serif">1e-125</text>
<text transform="translate(25.39 781.28) scale(0.6277 0.4567)" font-size="10" font-weight="bold" fill="#f5a312">G</text>
<text transform="translate(25.38 777.77) scale(0.6479 0.4567)" font-size="10" font-weight="bold" fill="#2438c8">C</text>
<text transform="translate(29.92 781.28) scale(0.6277 0.4567)" font-size="10" font-weight="bold" fill="#f5a312">G</text>
<text transform="translate(30.02 777.81) scale(0.6315 0.4700)" font-size="10" font-weight="bold" fill="#2ea836">A</text>
<text transform="translate(34.45 781.5) scale(0.6277 1.1033)" font-size="10" font-weight="bold" fill="#f5a312">G</text>
<text transform="translate(38.98 781.5) scale(0.6479 1.1033)" font-size="10" font-weight="bold" fill="#2438c8">C</text>
<text transform="translate(43.51 781.5) scale(0.6479 1.1033)" font-size="10" font-weight="bold" fill="#2438c8">C</text>
<text transform="translate(48.05 781.5) scale(0.6277 1.1033)" font-size="10" font-weight="bold" fill="#f5a312">G</text>
<text transform="translate(52.76 781.32) scale(0.7195 0.4700)" font-size="10" font-weight="bold" fill="#e2231f">T</text>
<text transform="translate(52.57 777.77) scale(0.6479 0.4567)" font-size="10" font-weight="bold" fill="#2438c8">C</text>
<text transform="translate(57.11 781.28) scale(0.6277 0.4567)" font-size="10" font-weight="bold" fill="#f5a312">G</text>
<text transform="translate(57.21 777.81) scale(0.6315 0.4700)" font-size="10" font-weight="bold" fill="#2ea836">A</text>
<text transform="translate(61.63 781.28) scale(0.6479 0.4567)" font-size="10" font-weight="bold" fill="#2438c8">C</text>
<text transform="translate(61.74 777.81) scale(0.6315 0.4700)" font-size="10" font-weight="bold" fill="#2ea836">A</text>
<text transform="translate(66.27 781.61) scale(0.6315 1.1354)" font-size="10" font-weight="bold" fill="#2ea836">A</text>
<text transform="translate(70.88 781.61) scale(0.7195 1.1354)" font-size="10" font-weight="bold" fill="#e2231f">T</text>
<text transform="translate(75.33 781.32) scale(0.6315 0.4700)" font-size="10" font-weight="bold" fill="#2ea836">A</text>
<text transform="translate(75.41 777.81) scale(0.7195 0.4700)" font-size="10" font-weight="bold" fill="#e2231f">T</text>
<text transform="translate(79.86 781.32) scale(0.6315 0.4700)" font-size="10" font-weight="bold" fill="#2ea836">A</text>
<text transform="translate(79.94 777.81) scale(0.7195 0.4700)" font-size="10" font-weight="bold" fill="#e2231f">T</text>
<text x="103.6" y="779.8" font-size="4.8" text-anchor="start" fill="#111" stroke="#111" stroke-width="0.12" font-family="'Liberation Serif', serif">RRTF1</text>
<text x="123.9" y="779.8" font-size="4.8" fill="#111" stroke="#111" stroke-width="0.12" font-family="'Liberation Serif', serif">1e-30</text>
<line x1="23.2" y1="652" x2="23.2" y2="709" stroke="#333" stroke-width="0.9"/>
<line x1="23.2" y1="725.4" x2="23.2" y2="782.7" stroke="#333" stroke-width="0.9"/>
<text x="20.4" y="679.5" font-size="6.5" text-anchor="middle" fill="#222" font-weight="normal" font-style="normal" transform="rotate(-90 20.4 679.5)" stroke="#222" stroke-width="0.16">Up-regulated</text>
<text x="20.4" y="754.7" font-size="6.4" text-anchor="middle" fill="#222" font-weight="normal" font-style="normal" transform="rotate(-90 20.4 754.7)" stroke="#222" stroke-width="0.16">Down-regulated</text>
<text x="153" y="474.6" font-size="10.8" text-anchor="start" fill="#111" font-weight="normal" font-style="normal" stroke="#111" stroke-width="0.07">F</text>
<rect x="184.2" y="476.6" width="84.7" height="127" fill="#fff" stroke="#555" stroke-width="0.7"/>
<text x="225.4" y="475.3" font-size="7.5" text-anchor="middle" fill="#111" font-weight="bold" font-style="normal" stroke="#111" stroke-width="0.08">Doudenum</text>
<line x1="182.7" y1="479.5" x2="184.2" y2="479.5" stroke="#333" stroke-width="0.6"/>
<text x="180.6" y="481.4" font-size="5.2" text-anchor="end" fill="#222" font-weight="normal" font-style="normal" stroke="#222" stroke-width="0.13">2</text>
<line x1="182.7" y1="510.2" x2="184.2" y2="510.2" stroke="#333" stroke-width="0.6"/>
<text x="180.6" y="512.1" font-size="5.2" text-anchor="end" fill="#222" font-weight="normal" font-style="normal" stroke="#222" stroke-width="0.13">1</text>
<line x1="182.7" y1="540.9" x2="184.2" y2="540.9" stroke="#333" stroke-width="0.6"/>
<text x="180.6" y="542.8" font-size="5.2" text-anchor="end" fill="#222" font-weight="normal" font-style="normal" stroke="#222" stroke-width="0.13">0</text>
<line x1="182.7" y1="571.6" x2="184.2" y2="571.6" stroke="#333" stroke-width="0.6"/>
<text x="180.6" y="573.5" font-size="5.2" text-anchor="end" fill="#222" font-weight="normal" font-style="normal" stroke="#222" stroke-width="0.13">-1</text>
<line x1="182.7" y1="602.3" x2="184.2" y2="602.3" stroke="#333" stroke-width="0.6"/>
<text x="180.6" y="604.2" font-size="5.2" text-anchor="end" fill="#222" font-weight="normal" font-style="normal" stroke="#222" stroke-width="0.13">-2</text>
<line x1="200.3" y1="510.2" x2="200.3" y2="540.9" stroke="#333" stroke-width="0.65" stroke-dasharray="2.2 1.5"/>
<line x1="200.3" y1="566.07" x2="200.3" y2="597.69" stroke="#333" stroke-width="0.65" stroke-dasharray="2.2 1.5"/>
<line x1="198" y1="510.2" x2="202.6" y2="510.2" stroke="#333" stroke-width="0.65"/>
<line x1="198" y1="597.69" x2="202.6" y2="597.69" stroke="#333" stroke-width="0.65"/>
<rect x="195.2" y="540.9" width="10.2" height="25.17" fill="#76d3bf" stroke="#333" stroke-width="0.6"/>
<line x1="195.2" y1="553.18" x2="205.4" y2="553.18" stroke="#222" stroke-width="0.8"/>
<line x1="200.3" y1="603.6" x2="200.3" y2="605.1" stroke="#333" stroke-width="0.6"/>
<text x="202.7" y="610.8" font-size="5.5" text-anchor="middle" fill="#222" font-weight="normal" font-style="normal" stroke="#222" stroke-width="0.14">Down</text>
<line x1="226.6" y1="527.09" x2="226.6" y2="537.22" stroke="#333" stroke-width="0.65" stroke-dasharray="2.2 1.5"/>
<line x1="226.6" y1="544.58" x2="226.6" y2="555.33" stroke="#333" stroke-width="0.65" stroke-dasharray="2.2 1.5"/>
<line x1="224.3" y1="527.09" x2="228.9" y2="527.09" stroke="#333" stroke-width="0.65"/>
<line x1="224.3" y1="555.33" x2="228.9" y2="555.33" stroke="#333" stroke-width="0.65"/>
<rect x="221.7" y="537.22" width="9.8" height="7.37" fill="#fcf7a0" stroke="#333" stroke-width="0.6"/>
<line x1="221.7" y1="540.9" x2="231.5" y2="540.9" stroke="#222" stroke-width="0.8"/>
<line x1="226.6" y1="603.6" x2="226.6" y2="605.1" stroke="#333" stroke-width="0.6"/>
<text x="225.6" y="610.8" font-size="5.5" text-anchor="middle" fill="#222" font-weight="normal" font-style="normal" stroke="#222" stroke-width="0.14">Random</text>
<text x="225.6" y="616.6" font-size="5.5" text-anchor="middle" fill="#222" font-weight="normal" font-style="normal" stroke="#222" stroke-width="0.14">DEG</text>
<line x1="252.2" y1="481.65" x2="252.2" y2="520.02" stroke="#333" stroke-width="0.65" stroke-dasharray="2.2 1.5"/>
<line x1="252.2" y1="547.65" x2="252.2" y2="586.95" stroke="#333" stroke-width="0.65" stroke-dasharray="2.2 1.5"/>
<line x1="249.9" y1="481.65" x2="254.5" y2="481.65" stroke="#333" stroke-width="0.65"/>
<line x1="249.9" y1="586.95" x2="254.5" y2="586.95" stroke="#333" stroke-width="0.65"/>
<rect x="247.3" y="520.02" width="9.8" height="27.63" fill="#b4b0de" stroke="#333" stroke-width="0.6"/>
<line x1="247.3" y1="539.37" x2="257.1" y2="539.37" stroke="#222" stroke-width="0.8"/>
<line x1="252.2" y1="603.6" x2="252.2" y2="605.1" stroke="#333" stroke-width="0.6"/>
<text x="252.2" y="610.8" font-size="5.5" text-anchor="middle" fill="#222" font-weight="normal" font-style="normal" stroke="#222" stroke-width="0.14">Up</text>
<line x1="184.2" y1="540.9" x2="268.9" y2="540.9" stroke="#222" stroke-width="0.7"/>
<text x="166.3" y="547" font-size="5.6" text-anchor="middle" fill="#222" font-weight="normal" font-style="normal" transform="rotate(-90 166.3 547)" stroke="#222" stroke-width="0.14">Log2(fold change of normalized ATAC signal)</text>
<text x="152" y="641.6" font-size="10.8" text-anchor="start" fill="#111" font-weight="normal" font-style="normal" stroke="#111" stroke-width="0.07">I</text>
<rect x="183.7" y="646.5" width="85.9" height="129.1" fill="#fff" stroke="#555" stroke-width="0.7"/>
<text x="219" y="642.3" font-size="7.5" text-anchor="middle" fill="#111" font-weight="bold" font-style="normal" stroke="#111" stroke-width="0.08">Muscle</text>
<line x1="182.2" y1="647.3" x2="183.7" y2="647.3" stroke="#333" stroke-width="0.6"/>
<text x="180.1" y="649.2" font-size="5.2" text-anchor="end" fill="#222" font-weight="normal" font-style="normal" stroke="#222" stroke-width="0.13">1.5</text>
<line x1="182.2" y1="668.6" x2="183.7" y2="668.6" stroke="#333" stroke-width="0.6"/>
<text x="180.1" y="670.5" font-size="5.2" text-anchor="end" fill="#222" font-weight="normal" font-style="normal" stroke="#222" stroke-width="0.13">1.0</text>
<line x1="182.2" y1="689.9" x2="183.7" y2="689.9" stroke="#333" stroke-width="0.6"/>
<text x="180.1" y="691.8" font-size="5.2" text-anchor="end" fill="#222" font-weight="normal" font-style="normal" stroke="#222" stroke-width="0.13">0.5</text>
<line x1="182.2" y1="711.2" x2="183.7" y2="711.2" stroke="#333" stroke-width="0.6"/>
<text x="180.1" y="713.1" font-size="5.2" text-anchor="end" fill="#222" font-weight="normal" font-style="normal" stroke="#222" stroke-width="0.13">0.0</text>
<line x1="182.2" y1="732.5" x2="183.7" y2="732.5" stroke="#333" stroke-width="0.6"/>
<text x="180.1" y="734.4" font-size="5.2" text-anchor="end" fill="#222" font-weight="normal" font-style="normal" stroke="#222" stroke-width="0.13">-0.5</text>
<line x1="182.2" y1="753.8" x2="183.7" y2="753.8" stroke="#333" stroke-width="0.6"/>
<text x="180.1" y="755.7" font-size="5.2" text-anchor="end" fill="#222" font-weight="normal" font-style="normal" stroke="#222" stroke-width="0.13">-1.0</text>
<line x1="182.2" y1="775.1" x2="183.7" y2="775.1" stroke="#333" stroke-width="0.6"/>
<text x="180.1" y="777" font-size="5.2" text-anchor="end" fill="#222" font-weight="normal" font-style="normal" stroke="#222" stroke-width="0.13">-1.5</text>
<line x1="200.1" y1="656.67" x2="200.1" y2="701.4" stroke="#333" stroke-width="0.65" stroke-dasharray="2.2 1.5"/>
<line x1="200.1" y1="734.63" x2="200.1" y2="771.69" stroke="#333" stroke-width="0.65" stroke-dasharray="2.2 1.5"/>
<line x1="197.8" y1="656.67" x2="202.4" y2="656.67" stroke="#333" stroke-width="0.65"/>
<line x1="197.8" y1="771.69" x2="202.4" y2="771.69" stroke="#333" stroke-width="0.65"/>
<rect x="195.1" y="701.4" width="10" height="33.23" fill="#76d3bf" stroke="#333" stroke-width="0.6"/>
<line x1="195.1" y1="712.05" x2="205.1" y2="712.05" stroke="#222" stroke-width="0.8"/>
<line x1="200.1" y1="775.6" x2="200.1" y2="777.1" stroke="#333" stroke-width="0.6"/>
<text x="202.5" y="782.4" font-size="5.5" text-anchor="middle" fill="#222" font-weight="normal" font-style="normal" stroke="#222" stroke-width="0.14">Down</text>
<line x1="226.6" y1="676.69" x2="226.6" y2="701.4" stroke="#333" stroke-width="0.65" stroke-dasharray="2.2 1.5"/>
<line x1="226.6" y1="720.57" x2="226.6" y2="748.69" stroke="#333" stroke-width="0.65" stroke-dasharray="2.2 1.5"/>
<line x1="224.3" y1="676.69" x2="228.9" y2="676.69" stroke="#333" stroke-width="0.65"/>
<line x1="224.3" y1="748.69" x2="228.9" y2="748.69" stroke="#333" stroke-width="0.65"/>
<rect x="221.7" y="701.4" width="9.8" height="19.17" fill="#fcf7a0" stroke="#333" stroke-width="0.6"/>
<line x1="221.7" y1="711.2" x2="231.5" y2="711.2" stroke="#222" stroke-width="0.8"/>
<line x1="226.6" y1="775.6" x2="226.6" y2="777.1" stroke="#333" stroke-width="0.6"/>
<text x="225.6" y="782.4" font-size="5.5" text-anchor="middle" fill="#222" font-weight="normal" font-style="normal" stroke="#222" stroke-width="0.14">Random</text>
<text x="225.6" y="788.2" font-size="5.5" text-anchor="middle" fill="#222" font-weight="normal" font-style="normal" stroke="#222" stroke-width="0.14">DEG</text>
<line x1="253.1" y1="651.56" x2="253.1" y2="694.16" stroke="#333" stroke-width="0.65" stroke-dasharray="2.2 1.5"/>
<line x1="253.1" y1="723.98" x2="253.1" y2="765.3" stroke="#333" stroke-width="0.65" stroke-dasharray="2.2 1.5"/>
<line x1="250.8" y1="651.56" x2="255.4" y2="651.56" stroke="#333" stroke-width="0.65"/>
<line x1="250.8" y1="765.3" x2="255.4" y2="765.3" stroke="#333" stroke-width="0.65"/>
<rect x="248" y="694.16" width="10.2" height="29.82" fill="#b4b0de" stroke="#333" stroke-width="0.6"/>
<line x1="248" y1="709.92" x2="258.2" y2="709.92" stroke="#222" stroke-width="0.8"/>
<line x1="253.1" y1="775.6" x2="253.1" y2="777.1" stroke="#333" stroke-width="0.6"/>
<text x="253.1" y="782.4" font-size="5.5" text-anchor="middle" fill="#222" font-weight="normal" font-style="normal" stroke="#222" stroke-width="0.14">Up</text>
<line x1="183.7" y1="711.2" x2="269.6" y2="711.2" stroke="#222" stroke-width="0.7"/>
<text x="166.3" y="712" font-size="5.6" text-anchor="middle" fill="#222" font-weight="normal" font-style="normal" transform="rotate(-90 166.3 712)" stroke="#222" stroke-width="0.14">Log2(fold change of normalized ATAC signal)</text>
<text x="278.4" y="477.4" font-size="10.8" text-anchor="start" fill="#111" font-weight="normal" font-style="normal" stroke="#111" stroke-width="0.07">G</text>
<line x1="292.6" y1="471.5" x2="292.6" y2="612" stroke="#5aa2e6" stroke-width="0.9"/>
<text x="288.9" y="539" font-size="7.5" text-anchor="middle" fill="#111" font-weight="bold" font-style="normal" transform="rotate(-90 288.9 539)" stroke="#111" stroke-width="0.08">Duodenum</text>
<rect x="481" y="471.9" width="7.4" height="7.2" fill="#2452b4" stroke="none" stroke-width="1"/>
<text x="490.8" y="478.4" font-size="7.6" text-anchor="start" fill="#222" font-weight="normal" font-style="normal" stroke="#222" stroke-width="0.16">High</text>
<rect x="513.7" y="471.9" width="7.2" height="7.2" fill="#e8402a" stroke="none" stroke-width="1"/>
<text x="524" y="478.4" font-size="7.6" text-anchor="start" fill="#222" font-weight="normal" font-style="normal" stroke="#222" stroke-width="0.16">Low</text>
<text x="301" y="475.6" font-size="5.9" text-anchor="start" fill="#111" font-weight="normal" font-style="normal" stroke="#111" stroke-width="0.15">chr6:169,151,504-169,156,176</text>
<line x1="300.4" y1="478.5" x2="300.4" y2="502.5" stroke="#5aa2e6" stroke-width="0.8"/>
<line x1="300.4" y1="504.5" x2="300.4" y2="528" stroke="#f2b04a" stroke-width="0.8"/>
<text x="296.8" y="490.5" font-size="4.8" text-anchor="middle" fill="#4a9ee6" font-weight="normal" font-style="normal" transform="rotate(-90 296.8 490.5)" dominant-baseline="central" stroke="#4a9ee6" stroke-width="0.12">ATAC-seq</text>
<text x="296.8" y="516.25" font-size="4.8" text-anchor="middle" fill="#f2a83c" font-weight="normal" font-style="normal" transform="rotate(-90 296.8 516.25)" dominant-baseline="central" stroke="#f2a83c" stroke-width="0.12">RNA-seq</text>
<text x="302.1" y="481.7" font-size="3.7" text-anchor="start" fill="#444" font-weight="normal" font-style="normal" stroke="#444" stroke-width="0.09">[0 - 10]</text>
<line x1="301.5" y1="488.3" x2="539" y2="488.3" stroke="#ea4a4a" stroke-width="0.75"/>
<polygon points="337.5,488.3 337.5,488.3 338,487.59 338.5,487.33 339,487.36 339.5,487.61 340,488.3 340,488.3" fill="#cc0c0c"/>
<polygon points="351,488.3 351,488.3 351.5,487.83 352,487.65 352.5,487.4 353,487.58 353.5,487.81 354,488.3 354,488.3" fill="#cc0c0c"/>
<polygon points="389,488.3 389,488.3 389.5,487.69 390,487.37 390.5,487.27 391,487.04 391.5,486.99 392,486.96 392.5,487.03 393,487.18 393.5,487.05 394,487.21 394.5,487.45 395,487.61 395.5,487.79 396,488.3 396,488.3" fill="#cc0c0c"/>
<polygon points="421.5,488.3 421.5,488.3 422,487.78 422.5,487.58 423,487.6 423.5,487.48 424,487.72 424.5,487.83 425,488.3 425,488.3" fill="#cc0c0c"/>
<polygon points="426,488.3 426,488.3 426.5,487.8 427,487.69 427.5,487.49 428,487.48 428.5,487.71 429,488.3 429,488.3" fill="#cc0c0c"/>
<polygon points="439,488.3 439,488.3 439.5,487.63 440,487.42 440.5,487.35 441,487.3 441.5,487.44 442,487.37 442.5,487.73 443,488.3 443,488.3" fill="#cc0c0c"/>
<polygon points="448,488.3 448,488.3 448.5,486.67 449,485.08 449.5,483.4 450,482.2 450.5,480.47 451,478.87 451.5,478.95 452,478.39 452.5,478.77 453,478.96 453.5,478.79 454,478.74 454.5,478.71 455,478.93 455.5,478.92 456,478.39 456.5,478.31 457,478.5 457.5,478.8 458,478.53 458.5,478.8 459,478.9 459.5,478.83 460,478.88 460.5,478.98 461,478.87 461.5,478.41 462,479.01 462.5,480.48 463,482.07 463.5,483.46 464,485.07 464.5,486.67 465,488.3 465,488.3" fill="#cc0c0c"/>
<polygon points="466,488.3 466,488.3 466.5,488.26 467,488.17 467.5,488.01 468,488.04 468.5,487.94 469,488.05 469.5,487.88 470,487.81 470.5,487.94 471,487.47 471.5,487.91 472,487.5 472.5,487.59 473,487.95 473.5,487.97 474,487.45 474.5,487.81 475,487.66 475.5,487.82 476,487.74 476.5,487.7 477,487.61 477.5,487.82 478,487.5 478.5,487.53 479,487.54 479.5,487.52 480,487.65 480.5,487.59 481,487.67 481.5,487.91 482,487.87 482.5,487.61 483,487.77 483.5,487.68 484,487.63 484.5,487.83 485,487.47 485.5,487.56 486,487.45 486.5,487.53 487,487.77 487.5,487.58 488,487.75 488.5,487.63 489,487.5 489.5,487.72 490,487.75 490.5,487.93 491,487.47 491.5,487.76 492,487.67 492.5,487.73 493,487.68 493.5,487.51 494,487.67 494.5,487.86 495,487.7 495.5,487.5 496,487.7 496.5,487.55 497,487.65 497.5,487.69 498,487.6 498.5,487.85 499,487.59 499.5,487.41 500,487.43 500.5,487.74 501,487.46 501.5,487.89 502,487.9 502.5,487.54 503,487.45 503.5,487.83 504,487.92 504.5,487.85 505,487.49 505.5,487.45 506,487.53 506.5,487.85 507,487.87 507.5,487.82 508,487.41 508.5,487.9 509,487.65 509.5,487.7 510,487.5 510.5,487.4 511,487.52 511.5,487.76 512,487.71 512.5,487.62 513,487.9 513.5,487.87 514,487.67 514.5,487.86 515,487.77 515.5,487.48 516,487.6 516.5,487.8 517,487.55 517.5,487.88 518,487.47 518.5,487.98 519,487.52 519.5,487.48 520,487.8 520.5,487.78 521,487.52 521.5,487.86 522,487.53 522.5,487.94 523,487.47 523.5,487.61 524,487.8 524.5,487.74 525,487.48 525.5,487.91 526,487.77 526.5,487.47 527,487.98 527.5,487.46 528,487.81 528.5,487.73 529,487.81 529.5,487.77 530,487.66 530.5,487.86 531,487.59 531.5,487.83 532,487.79 532.5,488.03 533,487.93 533.5,488.14 534,488.14 534.5,488.22 535,488.3 535,488.3" fill="#cc0c0c"/>
<polygon points="469,488.3 469,488.3 469.5,487.63 470,487.18 470.5,487.21 471,486.99 471.5,487.29 472,487.14 472.5,487.55 473,488.3 473,488.3" fill="#cc0c0c"/>
<polygon points="477,488.3 477,488.3 477.5,487.74 478,487.47 478.5,487.41 479,487.36 479.5,487.08 480,487.5 480.5,487.71 481,488.3 481,488.3" fill="#cc0c0c"/>
<polygon points="488,488.3 488,488.3 488.5,487.83 489,487.66 489.5,487.52 490,487.31 490.5,487.43 491,487.57 491.5,487.81 492,488.3 492,488.3" fill="#cc0c0c"/>
<polygon points="502,488.3 502,488.3 502.5,487.81 503,487.71 503.5,487.54 504,487.53 504.5,487.48 505,487.73 505.5,487.87 506,488.3 506,488.3" fill="#cc0c0c"/>
<polygon points="523,488.3 523,488.3 523.5,487.87 524,487.73 524.5,487.63 525,487.41 525.5,487.35 526,487.61 526.5,487.65 527,487.62 527.5,487.91 528,488.3 528,488.3" fill="#cc0c0c"/>
<text x="302.1" y="493.7" font-size="3.7" text-anchor="start" fill="#444" font-weight="normal" font-style="normal" stroke="#444" stroke-width="0.09">[0 - 10]</text>
<line x1="301.5" y1="500" x2="543" y2="500" stroke="#4a4ade" stroke-width="0.75"/>
<polygon points="332,500 332,500 332.5,499.46 333,499.26 333.5,499.21 334,499.16 334.5,499.39 335,500 335,500" fill="#1212a8"/>
<polygon points="357,500 357,500 357.5,499.54 358,499.31 358.5,499.27 359,499.4 359.5,499.49 360,500 360,500" fill="#1212a8"/>
<polygon points="365,500 365,500 365.5,499.5 366,499.48 366.5,499.4 367,499.41 367.5,499.61 368,500 368,500" fill="#1212a8"/>
<polygon points="377,500 377,500 377.5,499.55 378,499.42 378.5,499.16 379,499.2 379.5,499.14 380,499.38 380.5,499.48 381,500 381,500" fill="#1212a8"/>
<polygon points="416.4,500 416.4,500 416.91,499.2 417.42,498.8 417.92,498.49 418.43,498.43 418.94,498.39 419.45,498.3 419.95,498.04 420.46,498.48 420.97,498.31 421.48,498.82 421.98,498.79 422.49,499.38 423,500 423,500" fill="#1212a8"/>
<polygon points="432.7,500 432.7,500 433.21,499.5 433.72,499.31 434.24,498.9 434.75,498.78 435.26,498.83 435.77,498.73 436.29,498.68 436.8,498.57 437.31,498.39 437.82,498.44 438.34,498.28 438.85,498.2 439.36,498.52 439.88,498.4 440.39,498.58 440.9,498.51 441.41,498.65 441.93,498.54 442.44,498.69 442.95,498.72 443.46,498.93 443.98,499.11 444.49,499.58 445,500 445,500" fill="#1212a8"/>
<polygon points="448.5,500 448.5,500 449,498.32 449.5,496.58 450,495.08 450.5,493.34 451,491.63 451.5,490.26 452,490.26 452.5,490.46 453,490 453.5,490.53 454,490.14 454.5,490.31 455,490.65 455.5,490.52 456,490.54 456.5,490.18 457,490.06 457.5,490.27 458,490.07 458.5,490.46 459,490.6 459.5,490.18 460,490.46 460.5,490.37 461,490.11 461.5,490.24 462,491.4 462.5,493.07 463,495.05 463.5,496.74 464,498.27 464.5,500 464.5,500" fill="#1212a8"/>
<polygon points="466.8,500 466.8,500 467.31,498.2 467.82,496.76 468.34,496.64 468.85,495.99 469.36,495.57 469.88,495.57 470.39,494.21 470.9,494.05 471.41,495.01 471.93,494.68 472.44,496 472.95,495.66 473.46,495.83 473.98,496.78 474.49,498.32 475,500 475,500" fill="#1212a8"/>
<polygon points="476.5,500 476.5,498.25 477,497.81 477.5,497.83 478,497.62 478.5,497.53 479,497.55 479.5,497.74 480,497.73 480.5,497.91 481,497.61 481.5,497.8 482,498 482.5,497.54 483,498.01 483.5,498.04 484,497.94 484.5,497.87 485,497.92 485.5,497.69 486,497.85 486.5,497.53 487,497.85 487.5,497.56 488,497.58 488.5,497.73 489,497.66 489.5,497.53 490,497.52 490.5,497.68 491,497.51 491.5,497.65 492,498.25 492,500" fill="#1212a8"/>
<polygon points="478,500 478,500 478.5,498.08 479,496.42 479.5,496.16 480,495.78 480.5,494.81 481,495.16 481.5,495.01 482,496.06 482.5,496.12 483,496.35 483.5,497.43 484,500 484,500" fill="#1212a8"/>
<polygon points="483.5,500 483.5,500 484.03,497.79 484.55,496.96 485.08,495.39 485.61,494.88 486.13,495.02 486.66,494.16 487.19,493.59 487.71,493.63 488.24,494.85 488.77,495.16 489.29,495.32 489.82,496.43 490.35,496.27 490.87,497.44 491.4,500 491.4,500" fill="#1212a8"/>
<polygon points="492,500 492,498.88 492.5,498.5 493,498.6 493.5,498.4 494,498.4 494.5,498.68 495,498.74 495.5,498.7 496,498.65 496.5,498.48 497,498.65 497.5,498.41 498,498.44 498.5,498.66 499,498.56 499.5,498.57 500,498.54 500.5,498.58 501,498.5 501.5,498.72 502,498.7 502.5,498.47 503,498.64 503.5,498.52 504,498.47 504.5,498.68 505,498.47 505.5,498.44 506,498.73 506.5,498.67 507,498.7 507.5,498.65 508,498.5 508.5,498.65 509,498.67 509.5,498.46 510,498.68 510.5,498.5 511,498.47 511.5,498.55 512,498.75 512.5,498.54 513,498.42 513.5,498.56 514,498.49 514.5,498.62 515,498.72 515.5,498.4 516,498.68 516.5,498.72 517,498.73 517.5,498.66 518,498.5 518.5,498.69 519,498.6 519.5,498.75 520,498.46 520.5,498.5 521,498.47 521.5,498.63 522,498.56 522.5,498.7 523,498.45 523.5,498.61 524,498.52 524.5,498.73 525,498.68 525.5,498.47 526,498.7 526.5,498.58 527,498.59 527.5,498.58 528,498.48 528.5,498.42 529,498.62 529.5,498.7 530,498.51 530.5,498.42 531,498.6 531.5,498.45 532,498.43 532.5,498.68 533,498.74 533.5,498.74 534,498.88 534,500" fill="#1212a8"/>
<polygon points="492.7,500 492.7,500 493.22,498.51 493.75,497.62 494.27,497.35 494.8,497.11 495.32,496.89 495.85,496.45 496.38,496.22 496.9,496.47 497.43,497.33 497.95,497.65 498.48,498.71 499,500 499,500" fill="#1212a8"/>
<polygon points="499,500 499,500 499.53,497.84 500.06,496.74 500.59,496.83 501.11,496.76 501.64,497.81 502.17,498.25 502.7,497.81 503.23,496.77 503.76,496.64 504.29,497.65 504.81,496.92 505.34,497.98 505.87,498.3 506.4,500 506.4,500" fill="#1212a8"/>
<polygon points="507.7,500 507.7,500 508.22,498.62 508.74,497.86 509.26,498.1 509.77,498.71 510.29,497.65 510.81,498.28 511.33,497.74 511.85,498.1 512.37,496.78 512.89,498.41 513.41,496.88 513.92,497.92 514.44,497.42 514.96,497.46 515.48,497.48 516,500 516,500" fill="#1212a8"/>
<polygon points="515,500 515,500 515.5,498.09 516,498.08 516.5,497.27 517,498.87 517.5,497.71 518,498.62 518.5,498.04 519,498.85 519.5,497.93 520,497.16 520.5,497.27 521,496.94 521.5,497.8 522,497.02 522.5,497.39 523,500 523,500" fill="#1212a8"/>
<polygon points="523,500 523,500 523.5,498.05 524.01,497.97 524.51,498.13 525.02,498.48 525.52,496.92 526.03,497.07 526.53,498.38 527.04,496.61 527.54,498.6 528.05,497.9 528.55,497.26 529.06,497.96 529.56,496.93 530.07,496.45 530.57,497.12 531.08,497.27 531.58,498.28 532.09,497.31 532.59,498.6 533.1,497.27 533.6,500 533.6,500" fill="#1212a8"/>
<text x="302.1" y="504.1" font-size="3.7" text-anchor="start" fill="#444" font-weight="normal" font-style="normal" stroke="#444" stroke-width="0.09">[0 - 10]</text>
<line x1="301.5" y1="511.6" x2="539" y2="511.6" stroke="#ea4a4a" stroke-width="0.75"/>
<polygon points="336.3,511.6 336.3,510.17 336.81,510.01 337.31,510.04 337.82,509.69 338.33,509.74 338.83,509.43 339.34,509.65 339.85,509.64 340.36,509.36 340.86,509.34 341.37,508.79 341.88,508.79 342.38,508.6 342.89,508.59 343.4,508.48 343.9,508.86 344.41,508.97 344.92,508.6 345.42,508.86 345.93,507.93 346.44,508.62 346.94,508.49 347.45,508.1 347.96,507.56 348.47,507.97 348.97,508.37 349.48,507.78 349.99,507.99 350.49,507.58 351,506.9 351,511.6" fill="#cc0c0c"/>
<polygon points="388,511.6 388,508.8 388.5,508 389,508.28 389.5,507.88 390,508.33 390.5,507.72 391,507.99 391.5,508.22 392,508.34 392.5,507.66 393,507.89 393.5,508.08 394,507.77 394.5,508.27 395,508 395.5,508.42 396,508.29 396.5,508.47 397,507.73 397.5,507.93 398,508.8 398,511.6" fill="#cc0c0c"/>
<polygon points="449,511.6 449,509.74 449.5,510.04 450,510.42 450.5,510.51 451,510.81 451,511.6" fill="#cc0c0c"/>
<text x="302.1" y="516.1" font-size="3.7" text-anchor="start" fill="#444" font-weight="normal" font-style="normal" stroke="#444" stroke-width="0.09">[0 - 10]</text>
<line x1="301.5" y1="523.2" x2="543" y2="523.2" stroke="#4a4ade" stroke-width="0.75"/>
<polygon points="336.3,523.2 336.3,521.35 336.81,520.6 337.31,520.73 337.82,520.38 338.33,520.27 338.83,520.6 339.34,520.54 339.85,520.37 340.36,520.58 340.86,520.06 341.37,520.01 341.88,520.33 342.38,519.85 342.89,519.97 343.4,519.45 343.9,519.58 344.41,519.44 344.92,519.19 345.42,518.46 345.93,518.77 346.44,519.12 346.94,518.5 347.45,518.12 347.96,517.94 348.47,517.69 348.97,518.75 349.48,518.75 349.99,518.2 350.49,518.01 351,517 351,523.2" fill="#1212a8"/>
<polygon points="388,523.2 388,520.31 388.5,519.61 389,519.15 389.5,519.74 390,518.42 390.5,518.8 391,518.16 391.5,518.63 392,518.52 392.5,517.69 393,517.61 393.5,518.01 394,516.32 394.5,517.07 395,515.85 395.5,517.29 396,516.01 396.5,515.97 397,516.86 397.5,514.56 398,514 398,523.2" fill="#1212a8"/>
<polygon points="449,523.2 449,516.79 449.5,517.74 450,517.54 450.5,518.07 451,518.72 451.5,518.72 452,519.05 452.5,518.46 453,519.21 453.5,519.68 454,519.8 454.5,519.59 455,520.63 455.5,520.78 456,520.82 456,523.2" fill="#1212a8"/>
<line x1="335.8" y1="529.6" x2="456" y2="529.6" stroke="#2020c0" stroke-width="0.8"/>
<polyline points="337.9,528.6 339.1,529.6 337.9,530.6" fill="none" stroke="#2020c0" stroke-width="0.5"/>
<polyline points="341.5,528.6 342.7,529.6 341.5,530.6" fill="none" stroke="#2020c0" stroke-width="0.5"/>
<polyline points="345.1,528.6 346.3,529.6 345.1,530.6" fill="none" stroke="#2020c0" stroke-width="0.5"/>
<polyline points="348.7,528.6 349.9,529.6 348.7,530.6" fill="none" stroke="#2020c0" stroke-width="0.5"/>
<polyline points="352.3,528.6 353.5,529.6 352.3,530.6" fill="none" stroke="#2020c0" stroke-width="0.5"/>
<polyline points="355.9,528.6 357.1,529.6 355.9,530.6" fill="none" stroke="#2020c0" stroke-width="0.5"/>
<polyline points="359.5,528.6 360.7,529.6 359.5,530.6" fill="none" stroke="#2020c0" stroke-width="0.5"/>
<polyline points="363.1,528.6 364.3,529.6 363.1,530.6" fill="none" stroke="#2020c0" stroke-width="0.5"/>
<polyline points="366.7,528.6 367.9,529.6 366.7,530.6" fill="none" stroke="#2020c0" stroke-width="0.5"/>
<polyline points="370.3,528.6 371.5,529.6 370.3,530.6" fill="none" stroke="#2020c0" stroke-width="0.5"/>
<polyline points="373.9,528.6 375.1,529.6 373.9,530.6" fill="none" stroke="#2020c0" stroke-width="0.5"/>
<polyline points="377.5,528.6 378.7,529.6 377.5,530.6" fill="none" stroke="#2020c0" stroke-width="0.5"/>
<polyline points="381.1,528.6 382.3,529.6 381.1,530.6" fill="none" stroke="#2020c0" stroke-width="0.5"/>
<polyline points="384.7,528.6 385.9,529.6 384.7,530.6" fill="none" stroke="#2020c0" stroke-width="0.5"/>
<polyline points="388.3,528.6 389.5,529.6 388.3,530.6" fill="none" stroke="#2020c0" stroke-width="0.5"/>
<polyline points="391.9,528.6 393.1,529.6 391.9,530.6" fill="none" stroke="#2020c0" stroke-width="0.5"/>
<polyline points="395.5,528.6 396.7,529.6 395.5,530.6" fill="none" stroke="#2020c0" stroke-width="0.5"/>
<polyline points="399.1,528.6 400.3,529.6 399.1,530.6" fill="none" stroke="#2020c0" stroke-width="0.5"/>
<polyline points="402.7,528.6 403.9,529.6 402.7,530.6" fill="none" stroke="#2020c0" stroke-width="0.5"/>
<polyline points="406.3,528.6 407.5,529.6 406.3,530.6" fill="none" stroke="#2020c0" stroke-width="0.5"/>
<polyline points="409.9,528.6 411.1,529.6 409.9,530.6" fill="none" stroke="#2020c0" stroke-width="0.5"/>
<polyline points="413.5,528.6 414.7,529.6 413.5,530.6" fill="none" stroke="#2020c0" stroke-width="0.5"/>
<polyline points="417.1,528.6 418.3,529.6 417.1,530.6" fill="none" stroke="#2020c0" stroke-width="0.5"/>
<polyline points="420.7,528.6 421.9,529.6 420.7,530.6" fill="none" stroke="#2020c0" stroke-width="0.5"/>
<polyline points="424.3,528.6 425.5,529.6 424.3,530.6" fill="none" stroke="#2020c0" stroke-width="0.5"/>
<polyline points="427.9,528.6 429.1,529.6 427.9,530.6" fill="none" stroke="#2020c0" stroke-width="0.5"/>
<polyline points="431.5,528.6 432.7,529.6 431.5,530.6" fill="none" stroke="#2020c0" stroke-width="0.5"/>
<polyline points="435.1,528.6 436.3,529.6 435.1,530.6" fill="none" stroke="#2020c0" stroke-width="0.5"/>
<polyline points="438.7,528.6 439.9,529.6 438.7,530.6" fill="none" stroke="#2020c0" stroke-width="0.5"/>
<polyline points="442.3,528.6 443.5,529.6 442.3,530.6" fill="none" stroke="#2020c0" stroke-width="0.5"/>
<polyline points="445.9,528.6 447.1,529.6 445.9,530.6" fill="none" stroke="#2020c0" stroke-width="0.5"/>
<polyline points="449.5,528.6 450.7,529.6 449.5,530.6" fill="none" stroke="#2020c0" stroke-width="0.5"/>
<rect x="336" y="528.3" width="4" height="2.6" fill="#2020c0" stroke="none" stroke-width="1"/>
<rect x="344.7" y="528.3" width="5.9" height="2.6" fill="#2020c0" stroke="none" stroke-width="1"/>
<rect x="388" y="528.3" width="8.9" height="2.6" fill="#2020c0" stroke="none" stroke-width="1"/>
<rect x="449" y="528.3" width="7" height="2.6" fill="#2020c0" stroke="none" stroke-width="1"/>
<text x="407.2" y="536.7" font-size="5.7" text-anchor="middle" fill="#111" font-weight="normal" font-style="italic" stroke="#111" stroke-width="0.14">GUCA2B</text>
<text x="301" y="554.3" font-size="5.9" text-anchor="start" fill="#111" font-weight="normal" font-style="normal" stroke="#111" stroke-width="0.15">chr3:73,442,816-73,453,198</text>
<line x1="300.4" y1="556.5" x2="300.4" y2="579.5" stroke="#5aa2e6" stroke-width="0.8"/>
<line x1="300.4" y1="581" x2="300.4" y2="603.5" stroke="#f2b04a" stroke-width="0.8"/>
<text x="296.8" y="568" font-size="4.8" text-anchor="middle" fill="#4a9ee6" font-weight="normal" font-style="normal" transform="rotate(-90 296.8 568)" dominant-baseline="central" stroke="#4a9ee6" stroke-width="0.12">ATAC-seq</text>
<text x="296.8" y="592.25" font-size="4.8" text-anchor="middle" fill="#f2a83c" font-weight="normal" font-style="normal" transform="rotate(-90 296.8 592.25)" dominant-baseline="central" stroke="#f2a83c" stroke-width="0.12">RNA-seq</text>
<text x="302.1" y="559.6" font-size="3.7" text-anchor="start" fill="#444" font-weight="normal" font-style="normal" stroke="#444" stroke-width="0.09">[0 - 10]</text>
<line x1="301.5" y1="565.4" x2="535" y2="565.4" stroke="#ea4a4a" stroke-width="0.75"/>
<polygon points="318.3,565.4 318.3,565.4 318.8,561.61 319.3,557.9 319.8,556.4 320.3,555.89 320.8,555.95 321.3,555.98 321.8,556.32 322.3,556.24 322.8,556.46 323.3,556.14 323.8,556.23 324.3,558.25 324.8,561.82 325.3,565.4 325.3,565.4" fill="#cc0c0c"/>
<polygon points="335,565.4 335,565.4 335.5,564.85 336,564.75 336.5,564.79 337,565.4 337,565.4" fill="#cc0c0c"/>
<polygon points="354,565.4 354,565.4 354.5,564.75 355,564.45 355.5,564.56 356,564.83 356.5,565.4 356.5,565.4" fill="#cc0c0c"/>
<polygon points="399,565.4 399,565.4 399.5,565.05 400,565.03 400.5,565.01 401,565.4 401,565.4" fill="#cc0c0c"/>
<polygon points="466,565.4 466,565.4 466.5,564.62 467,564.44 467.5,564.67 468,565.4 468,565.4" fill="#cc0c0c"/>
<polygon points="472,565.4 472,565.4 472.5,564.83 473,564.6 473.5,564.63 474,564.62 474.5,564.8 475,565.4 475,565.4" fill="#cc0c0c"/>
<text x="302.1" y="570.1" font-size="3.7" text-anchor="start" fill="#444" font-weight="normal" font-style="normal" stroke="#444" stroke-width="0.09">[0 - 10]</text>
<line x1="301.5" y1="576.4" x2="535" y2="576.4" stroke="#4a4ade" stroke-width="0.75"/>
<polygon points="320,576.4 320,576.4 320.5,575.48 321,575.04 321.5,575.01 322,574.9 322.5,574.87 323,574.91 323.5,575.04 324,575.04 324.5,575.69 325,576.4 325,576.4" fill="#1212a8"/>
<polygon points="347,576.4 347,576.4 347.5,575.77 348,575.49 348.5,575.46 349,575.33 349.5,575.47 350,575.64 350.5,575.76 351,576.4 351,576.4" fill="#1212a8"/>
<polygon points="410.5,576.4 410.5,576.4 411,575.57 411.5,575.14 412,574.96 412.5,574.96 413,575.24 413.5,575.58 414,576.4 414,576.4" fill="#1212a8"/>
<polygon points="472,576.4 472,576.4 472.5,575.76 473,575.54 473.5,575.64 474,575.53 474.5,575.92 475,576.4 475,576.4" fill="#1212a8"/>
<polygon points="510,576.4 510,576.4 510.5,575.99 511,575.95 511.5,576.05 512,576.4 512,576.4" fill="#1212a8"/>
<text x="302.1" y="580.3" font-size="3.7" text-anchor="start" fill="#444" font-weight="normal" font-style="normal" stroke="#444" stroke-width="0.09">[0 - 5]</text>
<line x1="301.5" y1="587.8" x2="535" y2="587.8" stroke="#ea4a4a" stroke-width="0.75"/>
<polygon points="324.8,587.8 324.8,584.65 325.3,584.13 325.8,583.72 326.3,584.65 326.3,587.8" fill="#cc0c0c"/>
<polygon points="375.6,587.8 375.6,582.9 376.13,581.29 376.67,581.82 377.2,582.9 377.2,587.8" fill="#cc0c0c"/>
<polygon points="385.4,587.8 385.4,581.64 385.97,579.8 386.53,579.8 387.1,579.58 387.67,579.42 388.23,580.3 388.8,581.64 388.8,587.8" fill="#cc0c0c"/>
<polygon points="455.9,587.8 455.9,583.46 456.44,582.5 456.98,582.56 457.52,581.73 458.06,582.48 458.6,583.46 458.6,587.8" fill="#cc0c0c"/>
<polygon points="472.3,587.8 472.3,584.92 472.81,584.81 473.32,584.21 473.84,584.47 474.35,583.35 474.86,582.7 475.38,581.87 475.89,581.34 476.4,580.5 476.4,587.8" fill="#cc0c0c"/>
<polygon points="500.9,587.8 500.9,581.5 501.41,580.61 501.92,580.19 502.44,578.98 502.95,579.24 503.46,580.43 503.98,579.05 504.49,579.79 505,581.5 505,587.8" fill="#cc0c0c"/>
<text x="302.1" y="591.7" font-size="3.7" text-anchor="start" fill="#444" font-weight="normal" font-style="normal" stroke="#444" stroke-width="0.09">[0 - 5]</text>
<line x1="301.5" y1="599" x2="535" y2="599" stroke="#4a4ade" stroke-width="0.75"/>
<polygon points="375.5,599 375.5,599 376,598.3 376.5,598.05 377,598.24 377.5,599 377.5,599" fill="#1212a8"/>
<polygon points="385.5,599 385.5,599 386,597.99 386.5,597.76 387,597.37 387.5,597.22 388,597.35 388.5,597.87 389,599 389,599" fill="#1212a8"/>
<polygon points="455,599 455,599 455.5,598.01 456,597.8 456.5,597.52 457,597.63 457.5,598.17 458,599 458,599" fill="#1212a8"/>
<polygon points="471.5,599 471.5,599 472,598.11 472.5,597.96 473,597.93 473.5,597.6 474,598.05 474.5,598.15 475,599 475,599" fill="#1212a8"/>
<polygon points="500,599 500,599 500.5,597.83 501,597.7 501.5,597.23 502,596.79 502.5,596.97 503,597.08 503.5,597.14 504,597.35 504.5,597.84 505,599 505,599" fill="#1212a8"/>
<line x1="326" y1="606.2" x2="479" y2="606.2" stroke="#2020c0" stroke-width="0.8"/>
<polyline points="328.1,605.2 329.3,606.2 328.1,607.2" fill="none" stroke="#2020c0" stroke-width="0.5"/>
<polyline points="331.7,605.2 332.9,606.2 331.7,607.2" fill="none" stroke="#2020c0" stroke-width="0.5"/>
<polyline points="335.3,605.2 336.5,606.2 335.3,607.2" fill="none" stroke="#2020c0" stroke-width="0.5"/>
<polyline points="338.9,605.2 340.1,606.2 338.9,607.2" fill="none" stroke="#2020c0" stroke-width="0.5"/>
<polyline points="342.5,605.2 343.7,606.2 342.5,607.2" fill="none" stroke="#2020c0" stroke-width="0.5"/>
<polyline points="346.1,605.2 347.3,606.2 346.1,607.2" fill="none" stroke="#2020c0" stroke-width="0.5"/>
<polyline points="349.7,605.2 350.9,606.2 349.7,607.2" fill="none" stroke="#2020c0" stroke-width="0.5"/>
<polyline points="353.3,605.2 354.5,606.2 353.3,607.2" fill="none" stroke="#2020c0" stroke-width="0.5"/>
<polyline points="356.9,605.2 358.1,606.2 356.9,607.2" fill="none" stroke="#2020c0" stroke-width="0.5"/>
<polyline points="360.5,605.2 361.7,606.2 360.5,607.2" fill="none" stroke="#2020c0" stroke-width="0.5"/>
<polyline points="364.1,605.2 365.3,606.2 364.1,607.2" fill="none" stroke="#2020c0" stroke-width="0.5"/>
<polyline points="367.7,605.2 368.9,606.2 367.7,607.2" fill="none" stroke="#2020c0" stroke-width="0.5"/>
<polyline points="371.3,605.2 372.5,606.2 371.3,607.2" fill="none" stroke="#2020c0" stroke-width="0.5"/>
<polyline points="374.9,605.2 376.1,606.2 374.9,607.2" fill="none" stroke="#2020c0" stroke-width="0.5"/>
<polyline points="378.5,605.2 379.7,606.2 378.5,607.2" fill="none" stroke="#2020c0" stroke-width="0.5"/>
<polyline points="382.1,605.2 383.3,606.2 382.1,607.2" fill="none" stroke="#2020c0" stroke-width="0.5"/>
<polyline points="385.7,605.2 386.9,606.2 385.7,607.2" fill="none" stroke="#2020c0" stroke-width="0.5"/>
<polyline points="389.3,605.2 390.5,606.2 389.3,607.2" fill="none" stroke="#2020c0" stroke-width="0.5"/>
<polyline points="392.9,605.2 394.1,606.2 392.9,607.2" fill="none" stroke="#2020c0" stroke-width="0.5"/>
<polyline points="396.5,605.2 397.7,606.2 396.5,607.2" fill="none" stroke="#2020c0" stroke-width="0.5"/>
<polyline points="400.1,605.2 401.3,606.2 400.1,607.2" fill="none" stroke="#2020c0" stroke-width="0.5"/>
<polyline points="403.7,605.2 404.9,606.2 403.7,607.2" fill="none" stroke="#2020c0" stroke-width="0.5"/>
<polyline points="407.3,605.2 408.5,606.2 407.3,607.2" fill="none" stroke="#2020c0" stroke-width="0.5"/>
<polyline points="410.9,605.2 412.1,606.2 410.9,607.2" fill="none" stroke="#2020c0" stroke-width="0.5"/>
<polyline points="414.5,605.2 415.7,606.2 414.5,607.2" fill="none" stroke="#2020c0" stroke-width="0.5"/>
<polyline points="418.1,605.2 419.3,606.2 418.1,607.2" fill="none" stroke="#2020c0" stroke-width="0.5"/>
<polyline points="421.7,605.2 422.9,606.2 421.7,607.2" fill="none" stroke="#2020c0" stroke-width="0.5"/>
<polyline points="425.3,605.2 426.5,606.2 425.3,607.2" fill="none" stroke="#2020c0" stroke-width="0.5"/>
<polyline points="428.9,605.2 430.1,606.2 428.9,607.2" fill="none" stroke="#2020c0" stroke-width="0.5"/>
<polyline points="432.5,605.2 433.7,606.2 432.5,607.2" fill="none" stroke="#2020c0" stroke-width="0.5"/>
<polyline points="436.1,605.2 437.3,606.2 436.1,607.2" fill="none" stroke="#2020c0" stroke-width="0.5"/>
<polyline points="439.7,605.2 440.9,606.2 439.7,607.2" fill="none" stroke="#2020c0" stroke-width="0.5"/>
<polyline points="443.3,605.2 444.5,606.2 443.3,607.2" fill="none" stroke="#2020c0" stroke-width="0.5"/>
<polyline points="446.9,605.2 448.1,606.2 446.9,607.2" fill="none" stroke="#2020c0" stroke-width="0.5"/>
<polyline points="450.5,605.2 451.7,606.2 450.5,607.2" fill="none" stroke="#2020c0" stroke-width="0.5"/>
<polyline points="454.1,605.2 455.3,606.2 454.1,607.2" fill="none" stroke="#2020c0" stroke-width="0.5"/>
<polyline points="457.7,605.2 458.9,606.2 457.7,607.2" fill="none" stroke="#2020c0" stroke-width="0.5"/>
<polyline points="461.3,605.2 462.5,606.2 461.3,607.2" fill="none" stroke="#2020c0" stroke-width="0.5"/>
<polyline points="464.9,605.2 466.1,606.2 464.9,607.2" fill="none" stroke="#2020c0" stroke-width="0.5"/>
<polyline points="468.5,605.2 469.7,606.2 468.5,607.2" fill="none" stroke="#2020c0" stroke-width="0.5"/>
<polyline points="472.1,605.2 473.3,606.2 472.1,607.2" fill="none" stroke="#2020c0" stroke-width="0.5"/>
<polyline points="475.7,605.2 476.9,606.2 475.7,607.2" fill="none" stroke="#2020c0" stroke-width="0.5"/>
<rect x="375.5" y="604.9" width="1.5" height="2.6" fill="#2020c0" stroke="none" stroke-width="1"/>
<rect x="386" y="604.9" width="3" height="2.6" fill="#2020c0" stroke="none" stroke-width="1"/>
<rect x="455.5" y="604.9" width="3" height="2.6" fill="#2020c0" stroke="none" stroke-width="1"/>
<rect x="472" y="604.9" width="7" height="2.6" fill="#2020c0" stroke="none" stroke-width="1"/>
<text x="403.5" y="613.6" font-size="5.7" text-anchor="middle" fill="#111" font-weight="normal" font-style="italic" stroke="#111" stroke-width="0.14">GKN2</text>
<text x="278.6" y="640.9" font-size="10.8" text-anchor="start" fill="#111" font-weight="normal" font-style="normal" stroke="#111" stroke-width="0.07">J</text>
<line x1="292.3" y1="635.3" x2="292.3" y2="776" stroke="#5aa2e6" stroke-width="0.9"/>
<text x="288.9" y="710" font-size="7.5" text-anchor="middle" fill="#111" font-weight="bold" font-style="normal" transform="rotate(-90 288.9 710)" stroke="#111" stroke-width="0.08">Muscle</text>
<text x="298.5" y="634.8" font-size="5.9" text-anchor="start" fill="#111" font-weight="normal" font-style="normal" stroke="#111" stroke-width="0.15">chr4:91,117,749-91,126,079</text>
<line x1="300.4" y1="637.6" x2="300.4" y2="660.7" stroke="#5aa2e6" stroke-width="0.8"/>
<line x1="300.4" y1="662.7" x2="300.4" y2="687.4" stroke="#f2b04a" stroke-width="0.8"/>
<text x="296.8" y="649.15" font-size="4.8" text-anchor="middle" fill="#4a9ee6" font-weight="normal" font-style="normal" transform="rotate(-90 296.8 649.15)" dominant-baseline="central" stroke="#4a9ee6" stroke-width="0.12">ATAC-seq</text>
<text x="296.8" y="675.05" font-size="4.8" text-anchor="middle" fill="#f2a83c" font-weight="normal" font-style="normal" transform="rotate(-90 296.8 675.05)" dominant-baseline="central" stroke="#f2a83c" stroke-width="0.12">RNA-seq</text>
<text x="302.1" y="640.8" font-size="3.7" text-anchor="start" fill="#444" font-weight="normal" font-style="normal" stroke="#444" stroke-width="0.09">[0.2 - 4]</text>
<line x1="301.5" y1="645.6" x2="537.7" y2="645.6" stroke="#ea4a4a" stroke-width="0.75"/>
<polygon points="322.5,645.6 322.5,645.6 323,644.63 323.5,644.5 324,644.23 324.5,644.45 325,644.73 325.5,645.6 325.5,645.6" fill="#cc0c0c"/>
<polygon points="407,645.6 407,645.6 407.5,645.23 408,645.22 408.5,645.21 409,645.6 409,645.6" fill="#cc0c0c"/>
<polygon points="474.5,645.6 474.5,645.6 475,644.71 475.5,644.41 476,644.5 476.5,644.26 477,644.67 477.5,645.6 477.5,645.6" fill="#cc0c0c"/>
<polygon points="512.5,645.6 512.5,645.6 513,644.89 513.5,644.65 514,644.66 514.5,644.42 515,644.33 515.5,644.5 516,644.84 516.5,645.6 516.5,645.6" fill="#cc0c0c"/>
<text x="302.1" y="650.6" font-size="3.7" text-anchor="start" fill="#444" font-weight="normal" font-style="normal" stroke="#444" stroke-width="0.09">[0.2 - 4]</text>
<line x1="301.5" y1="658.6" x2="537.7" y2="658.6" stroke="#4a4ade" stroke-width="0.75"/>
<polygon points="309.6,658.6 309.6,658.6 310.13,656.43 310.66,655.49 311.19,654.58 311.72,654.27 312.25,652.88 312.78,654.2 313.31,653.61 313.84,654.83 314.37,656.41 314.9,658.6 314.9,658.6" fill="#1212a8"/>
<polygon points="316,658.6 316,658.6 316.5,657.88 317,657.67 317.5,657.85 318,658.6 318,658.6" fill="#1212a8"/>
<polygon points="336.3,658.6 336.3,658.6 336.82,656.18 337.34,655.02 337.85,653.5 338.37,653.63 338.89,652.88 339.41,652.93 339.93,652.86 340.45,653.79 340.96,654.36 341.48,655.99 342,658.6 342,658.6" fill="#1212a8"/>
<polygon points="343,658.6 343,658.6 343.5,656.1 344,653.87 344.5,652.98 345,652.75 345.5,650.8 346,651.96 346.5,650.45 347,650.01 347.5,650.53 348,649.12 348.5,650.18 349,650.17 349.5,649.5 350,648.64 350.5,651.24 351,651.31 351.5,651.48 352,652.27 352.5,653.25 353,654.72 353.5,656.2 354,658.6 354,658.6" fill="#1212a8"/>
<polygon points="378,658.6 378,658.6 378.5,656.13 379,653.99 379.5,652.9 380,652.03 380.5,651.08 381,652.31 381.5,651.19 382,652.11 382.5,650.5 383,650.99 383.5,652.5 384,652.94 384.5,653.51 385,653.93 385.5,655.9 386,658.6 386,658.6" fill="#1212a8"/>
<polygon points="387.5,658.6 387.5,658.6 388,657.19 388.5,656.9 389,656.65 389.5,656.48 390,655.73 390.5,656.23 391,656.38 391.5,657.18 392,658.6 392,658.6" fill="#1212a8"/>
<polygon points="393,658.6 393,658.6 393.5,657.17 394,656 394.5,655.52 395,654.86 395.5,654.91 396,654.76 396.5,655.63 397,655.89 397.5,656.43 398,657.09 398.5,658.6 398.5,658.6" fill="#1212a8"/>
<polygon points="471.5,658.6 471.5,658.6 472,657.97 472.5,657.88 473,657.86 473.5,658.6 473.5,658.6" fill="#1212a8"/>
<polygon points="484.5,658.6 484.5,658.6 485.03,657.23 485.56,656.62 486.09,655.59 486.62,655.63 487.15,655.62 487.68,654.73 488.22,655.49 488.75,654.98 489.28,655.98 489.81,655.96 490.34,656.42 490.87,657.09 491.4,658.6 491.4,658.6" fill="#1212a8"/>
<polygon points="495,658.6 495,658.6 495.5,656.58 496,655.23 496.5,655.33 497,655.4 497.5,655.22 498,656.42 498.5,658.6 498.5,658.6" fill="#1212a8"/>
<polygon points="508,658.6 508,658.6 508.5,656.87 509,656.26 509.5,656.07 510,655.1 510.5,655.47 511,654.51 511.5,653.83 512,654.49 512.5,654.98 513,654.95 513.5,654.99 514,655.22 514.5,654.96 515,655.36 515.5,656.07 516,656.52 516.5,657.1 517,658.6 517,658.6" fill="#1212a8"/>
<polygon points="521,658.6 521,658.6 521.51,657.35 522.03,656.64 522.54,656.13 523.06,655.25 523.57,655.11 524.09,654.7 524.6,655.51 525.11,655.45 525.63,655.6 526.14,655.76 526.66,656.45 527.17,656.51 527.69,657.32 528.2,658.6 528.2,658.6" fill="#1212a8"/>
<text x="302.1" y="664" font-size="3.7" text-anchor="start" fill="#444" font-weight="normal" font-style="normal" stroke="#444" stroke-width="0.09">[0 - 0.3]</text>
<line x1="301.5" y1="671.7" x2="537.7" y2="671.7" stroke="#ea4a4a" stroke-width="0.75"/>
<polygon points="340,671.7 340,671.7 340.5,671.02 341,670.93 341.5,670.95 342,671.7 342,671.7" fill="#cc0c0c"/>
<polygon points="392,671.7 392,671.7 392.5,671.07 393,670.65 393.5,670.41 394,670.36 394.5,670.37 395,670.74 395.5,670.97 396,671.7 396,671.7" fill="#cc0c0c"/>
<polygon points="467,671.7 467,671.7 467.5,671.2 468,670.91 468.5,670.8 469,670.71 469.5,671.02 470,671 470.5,671.21 471,671.7 471,671.7" fill="#cc0c0c"/>
<text x="302.1" y="676" font-size="3.7" text-anchor="start" fill="#444" font-weight="normal" font-style="normal" stroke="#444" stroke-width="0.09">[0 - 0.3]</text>
<line x1="301.5" y1="684.4" x2="537.7" y2="684.4" stroke="#4a4ade" stroke-width="0.75"/>
<polygon points="333.6,684.4 333.6,680.46 334.11,681.02 334.62,680.79 335.13,679.71 335.64,679.93 336.15,679.62 336.66,678.8 337.17,678.88 337.68,678.98 338.19,678.66 338.7,678.67 339.2,677.38 339.71,677.93 340.22,678.42 340.73,676.7 341.24,678.26 341.75,675.95 342.26,677.87 342.77,675.2 343.28,677.06 343.79,674.74 344.3,674.2 344.3,684.4" fill="#1212a8"/>
<polygon points="392.6,684.4 392.6,678.06 393.11,678.47 393.63,678.87 394.14,678.12 394.66,679.3 395.17,678.62 395.69,679.13 396.2,679.77 396.71,679.23 397.23,680.11 397.74,680.68 398.26,681.18 398.77,681.24 399.29,681.17 399.8,681.94 399.8,684.4" fill="#1212a8"/>
<polygon points="463.3,684.4 463.3,680.38 463.81,680.55 464.31,680.2 464.82,679.2 465.32,680.12 465.83,678.57 466.34,678.16 466.84,678.16 467.35,678.54 467.86,677.96 468.36,676.9 468.87,678.19 469.38,677.6 469.88,676.23 470.39,677.19 470.89,676.77 471.4,674 471.4,684.4" fill="#1212a8"/>
<polygon points="503.2,684.4 503.2,678.8 503.7,678.09 504.2,678.8 504.2,684.4" fill="#1212a8"/>
<polygon points="515.6,684.4 515.6,678.8 516.15,676.52 516.7,677.17 517.25,676.6 517.8,678.8 517.8,684.4" fill="#1212a8"/>
<line x1="333" y1="692.1" x2="519.4" y2="692.1" stroke="#2020c0" stroke-width="0.8"/>
<polyline points="335.1,691.1 336.3,692.1 335.1,693.1" fill="none" stroke="#2020c0" stroke-width="0.5"/>
<polyline points="338.7,691.1 339.9,692.1 338.7,693.1" fill="none" stroke="#2020c0" stroke-width="0.5"/>
<polyline points="342.3,691.1 343.5,692.1 342.3,693.1" fill="none" stroke="#2020c0" stroke-width="0.5"/>
<polyline points="345.9,691.1 347.1,692.1 345.9,693.1" fill="none" stroke="#2020c0" stroke-width="0.5"/>
<polyline points="349.5,691.1 350.7,692.1 349.5,693.1" fill="none" stroke="#2020c0" stroke-width="0.5"/>
<polyline points="353.1,691.1 354.3,692.1 353.1,693.1" fill="none" stroke="#2020c0" stroke-width="0.5"/>
<polyline points="356.7,691.1 357.9,692.1 356.7,693.1" fill="none" stroke="#2020c0" stroke-width="0.5"/>
<polyline points="360.3,691.1 361.5,692.1 360.3,693.1" fill="none" stroke="#2020c0" stroke-width="0.5"/>
<polyline points="363.9,691.1 365.1,692.1 363.9,693.1" fill="none" stroke="#2020c0" stroke-width="0.5"/>
<polyline points="367.5,691.1 368.7,692.1 367.5,693.1" fill="none" stroke="#2020c0" stroke-width="0.5"/>
<polyline points="371.1,691.1 372.3,692.1 371.1,693.1" fill="none" stroke="#2020c0" stroke-width="0.5"/>
<polyline points="374.7,691.1 375.9,692.1 374.7,693.1" fill="none" stroke="#2020c0" stroke-width="0.5"/>
<polyline points="378.3,691.1 379.5,692.1 378.3,693.1" fill="none" stroke="#2020c0" stroke-width="0.5"/>
<polyline points="381.9,691.1 383.1,692.1 381.9,693.1" fill="none" stroke="#2020c0" stroke-width="0.5"/>
<polyline points="385.5,691.1 386.7,692.1 385.5,693.1" fill="none" stroke="#2020c0" stroke-width="0.5"/>
<polyline points="389.1,691.1 390.3,692.1 389.1,693.1" fill="none" stroke="#2020c0" stroke-width="0.5"/>
<polyline points="392.7,691.1 393.9,692.1 392.7,693.1" fill="none" stroke="#2020c0" stroke-width="0.5"/>
<polyline points="396.3,691.1 397.5,692.1 396.3,693.1" fill="none" stroke="#2020c0" stroke-width="0.5"/>
<polyline points="399.9,691.1 401.1,692.1 399.9,693.1" fill="none" stroke="#2020c0" stroke-width="0.5"/>
<polyline points="403.5,691.1 404.7,692.1 403.5,693.1" fill="none" stroke="#2020c0" stroke-width="0.5"/>
<polyline points="407.1,691.1 408.3,692.1 407.1,693.1" fill="none" stroke="#2020c0" stroke-width="0.5"/>
<polyline points="410.7,691.1 411.9,692.1 410.7,693.1" fill="none" stroke="#2020c0" stroke-width="0.5"/>
<polyline points="414.3,691.1 415.5,692.1 414.3,693.1" fill="none" stroke="#2020c0" stroke-width="0.5"/>
<polyline points="417.9,691.1 419.1,692.1 417.9,693.1" fill="none" stroke="#2020c0" stroke-width="0.5"/>
<polyline points="421.5,691.1 422.7,692.1 421.5,693.1" fill="none" stroke="#2020c0" stroke-width="0.5"/>
<polyline points="425.1,691.1 426.3,692.1 425.1,693.1" fill="none" stroke="#2020c0" stroke-width="0.5"/>
<polyline points="428.7,691.1 429.9,692.1 428.7,693.1" fill="none" stroke="#2020c0" stroke-width="0.5"/>
<polyline points="432.3,691.1 433.5,692.1 432.3,693.1" fill="none" stroke="#2020c0" stroke-width="0.5"/>
<polyline points="435.9,691.1 437.1,692.1 435.9,693.1" fill="none" stroke="#2020c0" stroke-width="0.5"/>
<polyline points="439.5,691.1 440.7,692.1 439.5,693.1" fill="none" stroke="#2020c0" stroke-width="0.5"/>
<polyline points="443.1,691.1 444.3,692.1 443.1,693.1" fill="none" stroke="#2020c0" stroke-width="0.5"/>
<polyline points="446.7,691.1 447.9,692.1 446.7,693.1" fill="none" stroke="#2020c0" stroke-width="0.5"/>
<polyline points="450.3,691.1 451.5,692.1 450.3,693.1" fill="none" stroke="#2020c0" stroke-width="0.5"/>
<polyline points="453.9,691.1 455.1,692.1 453.9,693.1" fill="none" stroke="#2020c0" stroke-width="0.5"/>
<polyline points="457.5,691.1 458.7,692.1 457.5,693.1" fill="none" stroke="#2020c0" stroke-width="0.5"/>
<polyline points="461.1,691.1 462.3,692.1 461.1,693.1" fill="none" stroke="#2020c0" stroke-width="0.5"/>
<polyline points="464.7,691.1 465.9,692.1 464.7,693.1" fill="none" stroke="#2020c0" stroke-width="0.5"/>
<polyline points="468.3,691.1 469.5,692.1 468.3,693.1" fill="none" stroke="#2020c0" stroke-width="0.5"/>
<polyline points="471.9,691.1 473.1,692.1 471.9,693.1" fill="none" stroke="#2020c0" stroke-width="0.5"/>
<polyline points="475.5,691.1 476.7,692.1 475.5,693.1" fill="none" stroke="#2020c0" stroke-width="0.5"/>
<polyline points="479.1,691.1 480.3,692.1 479.1,693.1" fill="none" stroke="#2020c0" stroke-width="0.5"/>
<polyline points="482.7,691.1 483.9,692.1 482.7,693.1" fill="none" stroke="#2020c0" stroke-width="0.5"/>
<polyline points="486.3,691.1 487.5,692.1 486.3,693.1" fill="none" stroke="#2020c0" stroke-width="0.5"/>
<polyline points="489.9,691.1 491.1,692.1 489.9,693.1" fill="none" stroke="#2020c0" stroke-width="0.5"/>
<polyline points="493.5,691.1 494.7,692.1 493.5,693.1" fill="none" stroke="#2020c0" stroke-width="0.5"/>
<polyline points="497.1,691.1 498.3,692.1 497.1,693.1" fill="none" stroke="#2020c0" stroke-width="0.5"/>
<polyline points="500.7,691.1 501.9,692.1 500.7,693.1" fill="none" stroke="#2020c0" stroke-width="0.5"/>
<polyline points="504.3,691.1 505.5,692.1 504.3,693.1" fill="none" stroke="#2020c0" stroke-width="0.5"/>
<polyline points="507.9,691.1 509.1,692.1 507.9,693.1" fill="none" stroke="#2020c0" stroke-width="0.5"/>
<polyline points="511.5,691.1 512.7,692.1 511.5,693.1" fill="none" stroke="#2020c0" stroke-width="0.5"/>
<polyline points="515.1,691.1 516.3,692.1 515.1,693.1" fill="none" stroke="#2020c0" stroke-width="0.5"/>
<rect x="333" y="690.8" width="10" height="2.6" fill="#2020c0" stroke="none" stroke-width="1"/>
<rect x="393" y="690.8" width="5" height="2.6" fill="#2020c0" stroke="none" stroke-width="1"/>
<rect x="463.3" y="690.8" width="7.1" height="2.6" fill="#2020c0" stroke="none" stroke-width="1"/>
<rect x="503" y="690.8" width="1" height="2.6" fill="#2020c0" stroke="none" stroke-width="1"/>
<rect x="515.6" y="690.8" width="2.2" height="2.6" fill="#2020c0" stroke="none" stroke-width="1"/>
<text x="407" y="703" font-size="5.7" text-anchor="middle" fill="#111" font-weight="normal" font-style="italic" stroke="#111" stroke-width="0.14">FCER1A</text>
<text x="300" y="713.6" font-size="5.9" text-anchor="start" fill="#111" font-weight="normal" font-style="normal" stroke="#111" stroke-width="0.15">chr5:18,217,055-18,223,306</text>
<line x1="300.4" y1="716.5" x2="300.4" y2="742" stroke="#5aa2e6" stroke-width="0.8"/>
<line x1="300.4" y1="744" x2="300.4" y2="768" stroke="#f2b04a" stroke-width="0.8"/>
<text x="296.8" y="729.25" font-size="4.8" text-anchor="middle" fill="#4a9ee6" font-weight="normal" font-style="normal" transform="rotate(-90 296.8 729.25)" dominant-baseline="central" stroke="#4a9ee6" stroke-width="0.12">ATAC-seq</text>
<text x="296.8" y="756" font-size="4.8" text-anchor="middle" fill="#f2a83c" font-weight="normal" font-style="normal" transform="rotate(-90 296.8 756)" dominant-baseline="central" stroke="#f2a83c" stroke-width="0.12">RNA-seq</text>
<text x="302.1" y="719.6" font-size="3.7" text-anchor="start" fill="#444" font-weight="normal" font-style="normal" stroke="#444" stroke-width="0.09">[0.5 - 10]</text>
<line x1="301.5" y1="731.3" x2="539" y2="731.3" stroke="#ea4a4a" stroke-width="0.75"/>
<polygon points="305,731.3 305,731.3 305.5,731.14 306,731.04 306.5,730.92 307,730.83 307.5,730.77 308,730.72 308.5,730.8 309,730.67 309.5,730.61 310,730.61 310.5,730.56 311,730.57 311.5,730.64 312,730.71 312.5,730.57 313,730.6 313.5,730.59 314,730.7 314.5,730.76 315,730.86 315.5,730.76 316,730.9 316.5,731 317,731.05 317.5,731.14 318,731.3 318,731.3" fill="#cc0c0c"/>
<polygon points="318,731.3 318,729.76 318.5,729.24 319,729.51 319.5,729.46 320,729.35 320.5,729.34 321,729.52 321.5,729.31 322,729.25 322.5,729.27 323,729.3 323.5,729.32 324,729.31 324.5,729.51 325,729.46 325.5,729.31 326,729.2 326.5,729.32 327,729.11 327.5,729.5 328,729.54 328.5,729.42 329,729.25 329.5,729.35 330,729.46 330.5,729.55 331,729.14 331.5,729.31 332,729.18 332.5,729.41 333,729.35 333.5,729.15 334,729.1 334.5,729.3 335,729.14 335.5,729.38 336,729.49 336.5,729.48 337,729.39 337.5,729.14 338,729.45 338.5,729.17 339,729.49 339.5,729.13 340,729.25 340.5,729.24 341,729.41 341.5,729.38 342,729.49 342.5,729.54 343,729.48 343.5,729.48 344,729.34 344.5,729.18 345,729.57 345.5,729.31 346,729.39 346.5,729.47 347,729.24 347.5,729.52 348,729.55 348.5,729.34 349,729.41 349.5,729.33 350,729.76 350,731.3" fill="#cc0c0c"/>
<polygon points="324.2,731.3 324.2,731.3 324.72,728.39 325.24,725.4 325.77,722.99 326.29,721.99 326.81,722.26 327.33,721.84 327.86,722.03 328.38,722.31 328.9,722.06 329.42,722.17 329.94,721.91 330.47,722.01 330.99,722.25 331.51,722.22 332.03,722.69 332.56,725.61 333.08,728.41 333.6,731.3 333.6,731.3" fill="#cc0c0c"/>
<polygon points="332.8,731.3 332.8,731.3 333.32,729.06 333.84,726.61 334.35,724.48 334.87,722.39 335.39,722.05 335.91,721.94 336.43,722.11 336.95,722.49 337.46,722.4 337.98,722.02 338.5,722.37 339.02,722.48 339.54,722.49 340.05,722.55 340.57,722.46 341.09,722.2 341.61,722.23 342.13,722.41 342.65,724.56 343.16,726.65 343.68,728.98 344.2,731.3 344.2,731.3" fill="#cc0c0c"/>
<polygon points="365.4,731.3 365.4,731.3 365.93,730.07 366.47,729.82 367,729.5 367.53,728.76 368.07,729.22 368.6,729.06 369.13,728.84 369.67,729.23 370.2,729.02 370.73,729.91 371.27,730.26 371.8,731.3 371.8,731.3" fill="#cc0c0c"/>
<polygon points="376.9,731.3 376.9,731.3 377.42,730.51 377.93,729.98 378.45,730.08 378.97,730.24 379.48,730.53 380,731.3 380,731.3" fill="#cc0c0c"/>
<polygon points="427.5,731.3 427.5,731.3 428,730.71 428.5,730.54 429,730.41 429.5,730.67 430,731.3 430,731.3" fill="#cc0c0c"/>
<polygon points="450.5,731.3 450.5,731.3 451,730.26 451.5,730 452,729.87 452.5,730.5 453,731.3 453,731.3" fill="#cc0c0c"/>
<text x="302.1" y="734.9" font-size="3.7" text-anchor="start" fill="#444" font-weight="normal" font-style="normal" stroke="#444" stroke-width="0.09">[0.5 - 10]</text>
<line x1="301.5" y1="742" x2="539" y2="742" stroke="#4a4ade" stroke-width="0.75"/>
<polygon points="303,742 303,742 303.5,741.56 304,741.27 304.5,741.33 305,741.44 305.5,741.6 306,742 306,742" fill="#1212a8"/>
<polygon points="317,742 317,742 317.5,741.02 318,740.45 318.5,740.24 319,740.21 319.5,740.22 320,739.71 320.5,740.1 321,740.54 321.5,740.98 322,742 322,742" fill="#1212a8"/>
<polygon points="337.4,742 337.4,742 337.92,741 338.45,740.49 338.97,740.19 339.49,739.92 340.02,740.08 340.54,739.83 341.06,739.27 341.59,739.12 342.11,739.89 342.64,739.11 343.16,740 343.68,739.53 344.21,740.13 344.73,740.31 345.25,740.59 345.78,741.05 346.3,742 346.3,742" fill="#1212a8"/>
<polygon points="356,742 356,742 356.5,741.41 357,741.26 357.5,741.43 358,742 358,742" fill="#1212a8"/>
<polygon points="403,742 403,742 403.5,741.34 404,741.09 404.5,741.08 405,741.31 405.5,741.4 406,742 406,742" fill="#1212a8"/>
<polygon points="425,742 425,742 425.5,741.49 426,741.37 426.5,741.27 427,741.33 427.5,741.59 428,742 428,742" fill="#1212a8"/>
<polygon points="433,742 433,742 433.5,741.55 434,741.4 434.5,741.28 435,741.33 435.5,741.5 436,742 436,742" fill="#1212a8"/>
<polygon points="451,742 451,742 451.5,741.5 452,741.3 452.5,741.03 453,741.16 453.5,741.5 454,742 454,742" fill="#1212a8"/>
<polygon points="478,742 478,742 478.5,741.61 479,741.47 479.5,741.4 480,741.5 480.5,741.69 481,742 481,742" fill="#1212a8"/>
<text x="302.1" y="747.1" font-size="3.7" text-anchor="start" fill="#444" font-weight="normal" font-style="normal" stroke="#444" stroke-width="0.09">[0 - 0.2]</text>
<line x1="301.5" y1="754.2" x2="539" y2="754.2" stroke="#ea4a4a" stroke-width="0.75"/>
<polygon points="328.3,754.2 328.3,754.2 328.82,751.95 329.35,749.74 329.87,748.8 330.39,749.02 330.92,748.95 331.44,749.01 331.96,748.73 332.48,748.81 333.01,749 333.53,748.89 334.05,749.56 334.58,751.92 335.1,754.2 335.1,754.2" fill="#cc0c0c"/>
<polygon points="337.8,754.2 337.8,754.2 338.32,751.69 338.85,748.99 339.38,747.06 339.9,747.13 340.43,746.65 340.95,746.65 341.48,746.91 342,746.62 342.52,746.88 343.05,747.05 343.57,746.71 344.1,747.12 344.62,746.87 345.15,749.16 345.68,751.62 346.2,754.2 346.2,754.2" fill="#cc0c0c"/>
<polygon points="343.5,754.2 343.5,748.18 344,746.2 344.5,746.31 345,746.91 345.5,747.49 346,748.18 346,754.2" fill="#cc0c0c"/>
<polygon points="372.8,754.2 372.8,754.2 373.34,749.62 373.89,748.41 374.43,748.3 374.97,748.57 375.51,748.21 376.06,749.46 376.6,754.2 376.6,754.2" fill="#cc0c0c"/>
<polygon points="387.5,754.2 387.5,754.2 388,751.64 388.5,749 389,747.7 389.5,747.8 390,747.78 390.5,747.74 391,747.74 391.5,747.45 392,747.82 392.5,747.81 393,747.86 393.5,749.16 394,751.65 394.5,754.2 394.5,754.2" fill="#cc0c0c"/>
<polygon points="413,754.2 413,752.1 413.5,751.73 414,751.85 414.5,751.22 415,751.73 415.5,751.82 416,751.24 416.5,752.1 416.5,754.2" fill="#cc0c0c"/>
<polygon points="423,754.2 423,754.2 423.5,753.22 424,753 424.5,752.78 425,753.22 425.5,754.2 425.5,754.2" fill="#cc0c0c"/>
<polygon points="440.5,754.2 440.5,754.2 441,753.1 441.5,752.53 442,752.55 442.5,752.45 443,751.84 443.5,752.17 444,752.65 444.5,753.21 445,754.2 445,754.2" fill="#cc0c0c"/>
<polygon points="459,754.2 459,754.2 459.5,753.46 460,753.02 460.5,752.79 461,752.87 461.5,753.42 462,754.2 462,754.2" fill="#cc0c0c"/>
<text x="302.1" y="758.6" font-size="3.7" text-anchor="start" fill="#444" font-weight="normal" font-style="normal" stroke="#444" stroke-width="0.09">[0 - 0.2]</text>
<line x1="301.5" y1="765.6" x2="539" y2="765.6" stroke="#4a4ade" stroke-width="0.75"/>
<polygon points="330,765.6 330,765.6 330.5,764.64 331,764.38 331.5,763.57 332,763.99 332.5,763.53 333,763.52 333.5,763.3 334,763.34 334.5,763.71 335,764.1 335.5,764.82 336,765.6 336,765.6" fill="#1212a8"/>
<polygon points="349,765.6 349,765.6 349.5,764.99 350,764.72 350.5,764.96 351,765.6 351,765.6" fill="#1212a8"/>
<polygon points="374,765.6 374,765.6 374.5,764.67 375,764.52 375.5,764.54 376,764.84 376.5,765.6 376.5,765.6" fill="#1212a8"/>
<polygon points="389.5,765.6 389.5,765.6 390,764.6 390.5,764.36 391,763.66 391.5,763.27 392,763.22 392.5,763.51 393,763.93 393.5,763.93 394,764.09 394.5,764.76 395,765.6 395,765.6" fill="#1212a8"/>
<polygon points="413,765.6 413,765.6 413.5,764.82 414,764.37 414.5,763.88 415,763.72 415.5,763.96 416,763.89 416.5,764.14 417,764.36 417.5,764.7 418,765.6 418,765.6" fill="#1212a8"/>
<polygon points="424,765.6 424,765.6 424.5,764.7 425,764.17 425.5,763.7 426,763.95 426.5,763.72 427,764.25 427.5,764.62 428,765.6 428,765.6" fill="#1212a8"/>
<polygon points="440,765.6 440,765.6 440.5,764.99 441,764.82 441.5,764.57 442,764.53 442.5,764.36 443,764.3 443.5,764.42 444,764.57 444.5,764.65 445,764.91 445.5,765.1 446,765.6 446,765.6" fill="#1212a8"/>
<polygon points="460,765.6 460,765.6 460.5,764.98 461,764.68 461.5,764.61 462,764.43 462.5,764.2 463,764.16 463.5,764.38 464,764.42 464.5,764.67 465,764.71 465.5,765.1 466,765.6 466,765.6" fill="#1212a8"/>
<line x1="326.5" y1="771.8" x2="466.8" y2="771.8" stroke="#2020c0" stroke-width="0.8"/>
<polyline points="328.6,770.8 329.8,771.8 328.6,772.8" fill="none" stroke="#2020c0" stroke-width="0.5"/>
<polyline points="332.2,770.8 333.4,771.8 332.2,772.8" fill="none" stroke="#2020c0" stroke-width="0.5"/>
<polyline points="335.8,770.8 337,771.8 335.8,772.8" fill="none" stroke="#2020c0" stroke-width="0.5"/>
<polyline points="339.4,770.8 340.6,771.8 339.4,772.8" fill="none" stroke="#2020c0" stroke-width="0.5"/>
<polyline points="343,770.8 344.2,771.8 343,772.8" fill="none" stroke="#2020c0" stroke-width="0.5"/>
<polyline points="346.6,770.8 347.8,771.8 346.6,772.8" fill="none" stroke="#2020c0" stroke-width="0.5"/>
<polyline points="350.2,770.8 351.4,771.8 350.2,772.8" fill="none" stroke="#2020c0" stroke-width="0.5"/>
<polyline points="353.8,770.8 355,771.8 353.8,772.8" fill="none" stroke="#2020c0" stroke-width="0.5"/>
<polyline points="357.4,770.8 358.6,771.8 357.4,772.8" fill="none" stroke="#2020c0" stroke-width="0.5"/>
<polyline points="361,770.8 362.2,771.8 361,772.8" fill="none" stroke="#2020c0" stroke-width="0.5"/>
<polyline points="364.6,770.8 365.8,771.8 364.6,772.8" fill="none" stroke="#2020c0" stroke-width="0.5"/>
<polyline points="368.2,770.8 369.4,771.8 368.2,772.8" fill="none" stroke="#2020c0" stroke-width="0.5"/>
<polyline points="371.8,770.8 373,771.8 371.8,772.8" fill="none" stroke="#2020c0" stroke-width="0.5"/>
<polyline points="375.4,770.8 376.6,771.8 375.4,772.8" fill="none" stroke="#2020c0" stroke-width="0.5"/>
<polyline points="379,770.8 380.2,771.8 379,772.8" fill="none" stroke="#2020c0" stroke-width="0.5"/>
<polyline points="382.6,770.8 383.8,771.8 382.6,772.8" fill="none" stroke="#2020c0" stroke-width="0.5"/>
<polyline points="386.2,770.8 387.4,771.8 386.2,772.8" fill="none" stroke="#2020c0" stroke-width="0.5"/>
<polyline points="389.8,770.8 391,771.8 389.8,772.8" fill="none" stroke="#2020c0" stroke-width="0.5"/>
<polyline points="393.4,770.8 394.6,771.8 393.4,772.8" fill="none" stroke="#2020c0" stroke-width="0.5"/>
<polyline points="397,770.8 398.2,771.8 397,772.8" fill="none" stroke="#2020c0" stroke-width="0.5"/>
<polyline points="400.6,770.8 401.8,771.8 400.6,772.8" fill="none" stroke="#2020c0" stroke-width="0.5"/>
<polyline points="404.2,770.8 405.4,771.8 404.2,772.8" fill="none" stroke="#2020c0" stroke-width="0.5"/>
<polyline points="407.8,770.8 409,771.8 407.8,772.8" fill="none" stroke="#2020c0" stroke-width="0.5"/>
<polyline points="411.4,770.8 412.6,771.8 411.4,772.8" fill="none" stroke="#2020c0" stroke-width="0.5"/>
<polyline points="415,770.8 416.2,771.8 415,772.8" fill="none" stroke="#2020c0" stroke-width="0.5"/>
<polyline points="418.6,770.8 419.8,771.8 418.6,772.8" fill="none" stroke="#2020c0" stroke-width="0.5"/>
<polyline points="422.2,770.8 423.4,771.8 422.2,772.8" fill="none" stroke="#2020c0" stroke-width="0.5"/>
<polyline points="425.8,770.8 427,771.8 425.8,772.8" fill="none" stroke="#2020c0" stroke-width="0.5"/>
<polyline points="429.4,770.8 430.6,771.8 429.4,772.8" fill="none" stroke="#2020c0" stroke-width="0.5"/>
<polyline points="433,770.8 434.2,771.8 433,772.8" fill="none" stroke="#2020c0" stroke-width="0.5"/>
<polyline points="436.6,770.8 437.8,771.8 436.6,772.8" fill="none" stroke="#2020c0" stroke-width="0.5"/>
<polyline points="440.2,770.8 441.4,771.8 440.2,772.8" fill="none" stroke="#2020c0" stroke-width="0.5"/>
<polyline points="443.8,770.8 445,771.8 443.8,772.8" fill="none" stroke="#2020c0" stroke-width="0.5"/>
<polyline points="447.4,770.8 448.6,771.8 447.4,772.8" fill="none" stroke="#2020c0" stroke-width="0.5"/>
<polyline points="451,770.8 452.2,771.8 451,772.8" fill="none" stroke="#2020c0" stroke-width="0.5"/>
<polyline points="454.6,770.8 455.8,771.8 454.6,772.8" fill="none" stroke="#2020c0" stroke-width="0.5"/>
<polyline points="458.2,770.8 459.4,771.8 458.2,772.8" fill="none" stroke="#2020c0" stroke-width="0.5"/>
<polyline points="461.8,770.8 463,771.8 461.8,772.8" fill="none" stroke="#2020c0" stroke-width="0.5"/>
<rect x="326.5" y="770.5" width="16.5" height="2.6" fill="#2020c0" stroke="none" stroke-width="1"/>
<rect x="373" y="770.5" width="3" height="2.6" fill="#2020c0" stroke="none" stroke-width="1"/>
<rect x="386" y="770.5" width="9" height="2.6" fill="#2020c0" stroke="none" stroke-width="1"/>
<rect x="413" y="770.5" width="3" height="2.6" fill="#2020c0" stroke="none" stroke-width="1"/>
<rect x="424" y="770.5" width="4" height="2.6" fill="#2020c0" stroke="none" stroke-width="1"/>
<rect x="437" y="770.5" width="9" height="2.6" fill="#2020c0" stroke="none" stroke-width="1"/>
<rect x="460" y="770.5" width="6" height="2.6" fill="#2020c0" stroke="none" stroke-width="1"/>
<text x="404" y="779.4" font-size="5.7" text-anchor="middle" fill="#111" font-weight="normal" font-style="italic" stroke="#111" stroke-width="0.14">KRT18</text></svg>
</body></html>
